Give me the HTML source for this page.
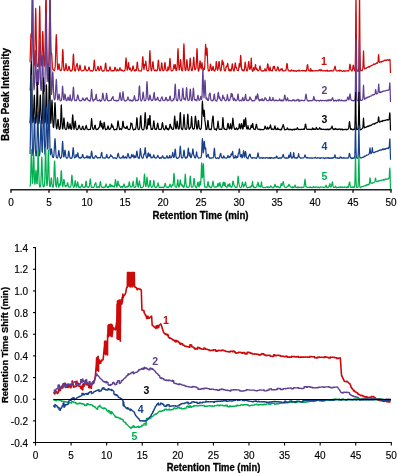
<!DOCTYPE html>
<html><head><meta charset="utf-8"><title>Chromatograms</title>
<style>
html,body{margin:0;padding:0;background:#fff;}
svg{display:block;}
text{font-family:"Liberation Sans",Arial,sans-serif;}
.t{stroke:#000;stroke-width:0.3px;}
.n{stroke:#000;stroke-width:0.15px;}
</style></head>
<body>
<svg width="397" height="473" viewBox="0 0 397 473">
<rect width="397" height="473" fill="#fff"/>
<g id="top">
<polyline fill="none" stroke="#cc0a0a" stroke-width="1.2" stroke-linejoin="round" points="30.00,62.2 30.40,51.5 30.50,47.8 30.75,38.7 30.80,37.3 31.00,33.9 31.20,35.6 31.25,35.7 31.50,37.1 31.60,36.3 32.00,17.1 32.25,-1.0 32.40,-7.1 32.50,-8.5 32.75,1.0 32.80,4.5 33.00,20.7 33.20,38.7 33.60,59.7 34.00,66.1 34.40,64.8 34.80,55.4 35.20,31.3 35.45,16.0 35.60,10.4 35.70,8.4 35.95,15.6 36.00,18.1 36.20,31.6 36.40,44.7 36.80,62.1 37.20,65.9 37.60,66.7 38.00,66.7 38.40,64.6 38.80,54.8 39.20,30.0 39.45,13.4 39.60,7.2 39.70,6.2 39.95,13.4 40.00,16.2 40.20,30.1 40.40,44.0 40.80,61.6 41.20,65.8 41.60,64.8 42.00,56.9 42.30,45.4 42.40,41.0 42.55,36.0 42.80,31.4 43.05,35.6 43.20,41.4 43.30,45.6 43.60,56.9 44.00,64.3 44.40,66.2 44.80,62.7 45.20,45.6 45.50,21.6 45.60,12.3 45.75,0.5 46.00,-8.0 46.25,0.7 46.40,12.5 46.50,21.0 46.80,46.5 47.20,62.6 47.60,66.3 48.00,67.4 48.40,67.0 48.80,63.5 49.20,46.6 49.50,21.8 49.60,12.8 49.75,0.7 50.00,-7.9 50.25,0.8 50.40,12.4 50.50,21.5 50.80,44.5 51.10,53.9 51.20,54.2 51.35,54.2 51.60,53.1 51.85,55.9 52.00,59.1 52.10,60.9 52.40,66.4 52.80,69.3 53.20,70.1 53.60,69.9 54.00,70.1 54.40,70.5 54.80,69.2 55.20,66.7 55.60,54.7 55.80,46.9 56.00,40.2 56.05,38.5 56.30,34.6 56.40,35.7 56.55,38.7 56.80,47.0 57.20,61.3 57.60,68.7 58.00,69.7 58.40,68.1 58.50,67.2 58.75,64.8 58.80,64.3 59.00,63.9 59.20,64.4 59.25,65.2 59.50,67.2 59.60,68.2 60.00,70.2 60.40,70.6 60.59,70.1 60.80,70.1 60.94,70.3 61.20,70.0 61.29,70.1 61.60,70.0 62.00,66.2 62.30,58.9 62.40,56.1 62.55,52.0 62.80,49.4 63.05,52.1 63.20,56.2 63.30,59.3 63.60,66.2 64.00,70.5 64.40,70.6 64.80,70.4 65.20,69.3 65.50,67.1 65.60,65.9 65.75,65.0 66.00,63.6 66.25,65.3 66.40,66.2 66.50,67.0 66.80,69.2 67.20,70.5 67.60,70.7 68.00,70.1 68.40,68.6 68.50,68.2 68.75,66.6 68.80,66.7 69.00,66.3 69.20,66.5 69.25,66.8 69.50,67.9 69.60,69.0 70.00,70.4 70.40,70.9 70.80,71.2 71.20,70.2 71.60,70.9 72.00,70.4 72.40,69.6 72.80,64.1 72.90,62.2 73.15,57.1 73.20,56.4 73.22,55.9 73.40,54.2 73.57,55.1 73.60,55.9 73.65,56.4 73.90,61.4 73.92,62.5 74.00,64.1 74.40,69.7 74.80,70.6 75.20,71.0 75.60,69.8 75.82,68.9 76.00,67.2 76.17,66.4 76.40,65.7 76.50,65.0 76.52,65.1 76.75,64.3 76.80,64.4 77.00,63.7 77.20,63.4 77.25,64.0 77.26,64.1 77.50,65.8 77.60,65.6 77.61,65.9 77.96,69.3 78.00,68.9 78.40,70.3 78.80,70.8 79.20,70.0 79.50,67.8 79.60,67.3 79.62,67.0 79.75,66.5 79.97,65.2 80.00,65.5 80.25,65.9 80.32,66.6 80.40,67.2 80.50,68.3 80.80,69.9 81.20,70.5 81.60,71.0 82.00,71.0 82.40,70.8 82.80,70.7 83.20,70.7 83.60,70.3 84.00,70.4 84.40,68.9 84.50,68.0 84.75,66.9 84.80,66.1 85.00,65.9 85.20,66.3 85.25,67.2 85.50,67.7 85.60,68.8 85.74,69.5 86.00,70.0 86.09,70.3 86.40,70.2 86.44,69.9 86.80,70.9 87.20,70.5 87.60,70.7 88.00,70.2 88.40,69.5 88.50,69.0 88.75,67.4 88.80,67.6 89.00,67.0 89.20,67.3 89.25,67.6 89.50,68.7 89.60,69.4 90.00,70.6 90.40,70.7 90.80,71.1 91.20,70.6 91.60,70.9 92.00,70.9 92.40,71.2 92.80,70.6 93.20,70.7 93.60,67.8 93.80,65.2 94.00,62.3 94.05,62.1 94.16,60.9 94.30,60.1 94.40,60.3 94.51,61.2 94.55,61.6 94.80,65.4 94.86,66.3 95.20,69.6 95.60,70.7 96.00,70.6 96.25,70.6 96.40,70.6 96.60,70.6 96.75,70.1 96.80,69.7 96.95,69.4 97.10,69.0 97.20,68.7 97.45,68.0 97.50,67.8 97.60,67.8 97.75,66.6 98.00,66.3 98.25,67.1 98.40,67.6 98.50,68.6 98.80,70.0 99.20,70.6 99.60,70.7 100.00,69.3 100.01,69.2 100.36,67.2 100.40,67.1 100.50,66.9 100.71,66.3 100.75,66.5 100.80,66.1 101.00,66.8 101.20,67.4 101.24,67.4 101.25,67.5 101.50,68.8 101.59,68.9 101.60,69.1 101.94,70.4 102.00,70.7 102.40,70.9 102.80,71.4 103.20,70.8 103.60,71.0 103.80,70.9 104.00,70.4 104.15,70.1 104.40,70.0 104.50,70.2 104.80,69.4 105.10,66.7 105.20,65.6 105.35,64.0 105.60,63.1 105.85,63.6 106.00,65.6 106.10,66.6 106.40,68.9 106.80,71.1 107.20,70.4 107.60,70.5 108.00,70.5 108.40,71.1 108.80,70.5 109.20,70.2 109.50,68.9 109.60,68.3 109.75,67.2 110.00,66.8 110.25,68.0 110.40,67.9 110.50,68.5 110.80,70.0 111.20,70.9 111.60,70.9 112.00,71.0 112.40,70.5 112.80,71.0 113.20,70.9 113.60,70.4 114.00,70.9 114.30,70.4 114.40,69.3 114.50,69.1 114.65,68.8 114.75,67.7 114.80,67.5 115.00,67.2 115.17,67.3 115.20,67.3 115.25,67.7 115.50,68.1 115.52,67.8 115.60,68.6 115.87,70.2 116.00,70.5 116.40,71.0 116.80,70.7 117.19,70.1 117.20,69.6 117.54,69.3 117.60,69.2 117.89,70.2 118.00,70.3 118.40,70.5 118.80,70.8 119.20,70.5 119.50,69.0 119.60,68.8 119.75,68.2 120.00,67.6 120.25,68.6 120.40,69.2 120.50,69.5 120.80,70.3 121.20,70.6 121.50,70.2 121.60,69.7 121.85,69.8 122.00,70.0 122.20,70.4 122.40,70.4 122.80,70.8 123.20,70.8 123.60,71.2 124.00,70.8 124.40,70.3 124.80,70.6 125.20,68.8 125.50,64.6 125.60,63.0 125.75,60.5 126.00,57.9 126.03,57.9 126.25,59.2 126.38,61.2 126.40,61.6 126.50,63.4 126.73,66.8 126.80,68.0 127.20,70.2 127.60,69.5 128.00,66.8 128.25,63.9 128.40,62.5 128.50,62.7 128.75,64.1 128.80,63.8 129.00,66.5 129.20,68.4 129.60,69.6 129.84,68.8 130.00,68.4 130.19,67.9 130.40,68.7 130.45,68.7 130.54,68.6 130.80,69.7 131.15,70.7 131.20,71.1 131.60,70.8 132.00,70.5 132.40,69.3 132.50,68.2 132.75,66.6 132.80,66.1 133.00,65.9 133.20,66.9 133.25,66.3 133.50,67.9 133.60,68.0 133.95,69.5 134.00,69.8 134.05,69.7 134.30,70.5 134.40,70.6 134.75,70.8 134.80,71.2 135.20,70.6 135.24,70.3 135.59,69.8 135.60,69.7 135.94,70.4 136.00,70.2 136.40,70.3 136.80,66.5 137.05,63.2 137.20,62.1 137.30,62.4 137.55,62.8 137.60,63.6 137.80,66.3 138.00,67.9 138.40,70.2 138.80,70.7 139.20,71.0 139.60,70.8 140.00,70.9 140.40,70.9 140.80,70.8 141.20,71.1 141.60,70.2 142.00,67.5 142.30,62.6 142.40,60.7 142.55,58.3 142.80,56.7 143.05,58.5 143.20,60.9 143.30,62.8 143.60,67.7 144.00,69.6 144.31,67.3 144.40,66.0 144.66,64.3 144.80,64.9 145.01,65.1 145.20,65.7 145.30,64.7 145.55,63.1 145.60,62.5 145.80,61.2 145.81,61.8 146.00,62.9 146.05,62.8 146.16,64.2 146.30,65.6 146.40,66.3 146.51,68.1 146.80,69.9 147.20,70.4 147.60,71.0 148.00,70.9 148.40,70.6 148.80,70.0 149.20,64.6 149.40,60.2 149.60,54.6 149.65,53.9 149.90,50.6 150.00,51.8 150.15,53.8 150.40,60.4 150.80,67.9 151.20,70.4 151.60,70.9 152.00,68.9 152.40,65.5 152.65,63.1 152.80,61.8 152.90,61.7 153.15,62.8 153.20,63.5 153.40,65.6 153.60,67.7 154.00,69.9 154.40,70.6 154.80,70.7 155.20,70.6 155.60,69.9 156.00,70.3 156.40,70.7 156.80,70.9 157.20,70.3 157.60,68.3 157.90,64.2 158.00,63.8 158.15,61.0 158.40,60.1 158.65,61.7 158.80,63.4 158.90,64.7 159.20,68.5 159.60,70.2 160.00,70.8 160.29,70.6 160.40,70.6 160.64,70.2 160.80,69.9 160.99,68.3 161.20,66.8 161.45,63.9 161.60,63.0 161.70,62.8 161.95,63.9 162.00,64.8 162.20,66.8 162.40,68.8 162.80,70.4 163.20,70.8 163.60,70.6 163.95,70.0 164.00,70.2 164.30,68.2 164.40,66.7 164.50,66.0 164.65,63.7 164.75,63.2 164.80,62.7 165.00,62.6 165.10,62.9 165.20,64.2 165.25,64.6 165.50,67.3 165.60,68.0 166.00,69.9 166.40,70.7 166.80,70.5 167.20,70.8 167.60,69.8 167.72,68.7 168.00,66.9 168.07,66.9 168.40,68.6 168.42,68.3 168.80,70.2 169.20,68.2 169.40,65.2 169.50,63.6 169.60,62.0 169.75,59.5 170.00,58.4 170.10,59.3 170.25,60.9 170.40,63.5 170.50,64.5 170.80,68.1 171.20,70.7 171.60,71.0 172.00,70.6 172.40,70.4 172.80,70.6 173.20,69.2 173.50,67.6 173.60,66.3 173.75,65.8 174.00,64.5 174.25,65.7 174.40,67.2 174.50,67.4 174.80,68.6 175.01,67.1 175.20,65.4 175.36,64.7 175.60,66.8 175.71,67.7 176.00,70.4 176.40,70.4 176.80,70.1 177.20,66.3 177.50,59.3 177.60,56.5 177.75,51.9 178.00,48.6 178.25,51.6 178.40,56.4 178.50,59.0 178.80,66.1 179.20,70.1 179.60,69.2 180.00,65.9 180.10,65.2 180.35,61.6 180.40,61.0 180.60,59.7 180.80,61.1 180.85,62.0 181.10,64.7 181.20,66.4 181.60,69.8 182.00,70.8 182.40,70.7 182.80,69.4 183.20,62.5 183.40,56.3 183.60,49.1 183.65,47.7 183.90,43.9 184.00,44.7 184.15,47.6 184.40,56.2 184.80,67.4 185.20,70.3 185.60,70.5 186.00,69.5 186.40,65.0 186.65,61.6 186.80,60.3 186.90,59.7 187.15,61.6 187.20,62.5 187.40,65.1 187.60,67.2 188.00,70.3 188.40,70.5 188.80,70.6 189.20,69.7 189.60,65.2 189.70,64.2 189.95,59.8 190.00,59.4 190.20,58.1 190.40,59.5 190.45,60.1 190.70,63.5 190.80,65.5 191.20,69.2 191.60,70.6 192.00,70.7 192.31,69.9 192.40,69.6 192.57,68.3 192.66,68.1 192.80,67.3 192.92,66.7 193.01,65.9 193.20,62.8 193.27,62.7 193.45,58.9 193.60,57.2 193.70,57.1 193.95,58.9 194.00,59.6 194.17,62.0 194.20,63.1 194.40,65.7 194.52,67.5 194.80,69.7 194.87,69.4 195.20,69.8 195.35,69.4 195.60,68.9 195.70,68.6 196.00,68.0 196.05,67.4 196.40,62.5 196.50,60.2 196.75,52.5 196.80,51.6 196.90,49.8 197.00,48.6 197.20,49.7 197.25,51.1 197.50,58.1 197.60,61.2 198.00,68.7 198.40,71.2 198.80,70.6 199.20,68.7 199.50,65.7 199.60,64.3 199.75,63.2 200.00,60.9 200.01,60.8 200.25,61.1 200.36,63.0 200.40,63.0 200.50,64.3 200.71,67.4 200.80,67.9 201.17,68.9 201.20,68.9 201.50,65.6 201.52,65.8 201.60,64.7 201.75,63.7 201.87,63.3 202.00,62.5 202.25,64.5 202.40,65.5 202.50,66.3 202.80,69.2 203.20,70.6 203.54,69.2 203.60,69.3 203.89,68.2 204.00,68.9 204.24,69.3 204.40,69.3 204.80,65.6 205.10,56.3 205.20,53.0 205.35,48.8 205.60,44.4 205.85,47.7 206.00,51.0 206.10,53.0 206.22,54.8 206.40,55.0 206.50,53.8 206.57,52.6 206.75,49.5 206.80,48.7 206.92,48.1 207.00,48.2 207.20,51.0 207.25,51.5 207.50,59.2 207.60,61.8 208.00,68.6 208.40,70.6 208.80,71.0 209.20,70.9 209.60,70.3 209.85,68.9 210.00,67.5 210.10,66.4 210.20,65.0 210.35,64.4 210.40,64.5 210.55,64.1 210.60,64.5 210.72,65.0 210.80,65.2 210.85,66.0 211.07,67.0 211.10,67.7 211.20,68.1 211.42,69.4 211.60,70.4 212.00,70.3 212.40,69.4 212.50,68.4 212.75,67.3 212.77,67.0 212.80,67.0 213.00,66.4 213.12,66.3 213.20,67.0 213.25,66.7 213.47,68.1 213.50,68.7 213.60,69.3 214.00,70.6 214.40,70.8 214.80,71.2 214.87,70.3 215.20,70.1 215.22,70.0 215.57,69.3 215.60,68.9 215.90,66.0 215.92,65.7 216.00,64.3 216.15,62.4 216.27,61.4 216.40,62.0 216.62,63.2 216.65,63.4 216.80,65.0 216.90,66.3 217.20,69.1 217.60,70.4 218.00,69.4 218.40,67.0 218.50,65.7 218.75,62.9 218.80,62.4 219.00,61.5 219.20,61.7 219.25,62.2 219.29,61.6 219.50,63.9 219.60,65.7 219.64,65.4 219.99,69.0 220.00,69.3 220.40,70.4 220.80,70.9 221.20,69.5 221.60,66.0 221.70,64.7 221.95,61.3 222.00,61.2 222.20,60.1 222.40,61.1 222.45,61.2 222.70,64.5 222.80,64.3 222.91,64.4 223.20,62.8 223.24,62.4 223.26,62.2 223.59,63.4 223.60,63.7 223.61,63.7 223.94,68.0 224.00,68.3 224.22,69.6 224.40,70.5 224.57,70.0 224.80,70.4 224.92,70.6 225.20,71.0 225.60,69.7 225.76,69.1 225.86,68.5 226.00,67.7 226.11,66.8 226.21,67.1 226.39,66.2 226.40,67.0 226.46,67.0 226.56,67.0 226.74,66.3 226.80,66.9 227.09,66.1 227.20,65.5 227.45,64.1 227.60,63.4 227.70,63.5 227.95,64.7 228.00,64.4 228.20,66.7 228.40,68.8 228.80,70.5 229.20,70.8 229.55,69.6 229.60,70.1 229.90,69.0 230.00,69.5 230.25,70.4 230.40,70.9 230.80,70.9 231.20,70.7 231.60,68.6 231.80,67.0 232.00,65.6 232.05,65.0 232.30,64.0 232.40,63.8 232.55,65.0 232.80,67.3 233.20,69.7 233.60,70.6 234.00,71.1 234.40,69.8 234.80,66.5 235.05,63.8 235.20,63.0 235.30,62.9 235.55,64.4 235.60,64.4 235.80,66.8 236.00,67.5 236.20,67.9 236.40,67.7 236.55,67.3 236.80,68.2 236.90,69.0 237.20,70.5 237.60,70.4 238.00,70.7 238.40,70.6 238.80,68.0 238.84,67.8 238.91,66.5 239.19,63.7 239.20,63.8 239.26,63.9 239.54,65.9 239.60,67.0 239.61,66.5 240.00,67.1 240.19,63.1 240.30,60.6 240.40,58.4 240.54,56.4 240.55,56.0 240.59,55.3 240.80,56.0 240.89,56.7 240.94,57.4 241.05,59.7 241.20,62.6 241.29,64.4 241.30,64.2 241.40,65.9 241.60,68.2 241.75,69.1 242.00,70.0 242.10,70.0 242.40,70.6 242.51,70.2 242.80,69.9 242.86,69.7 243.20,70.2 243.21,70.0 243.60,70.7 244.00,70.9 244.40,69.6 244.62,67.8 244.80,65.5 244.90,64.5 244.97,63.4 245.15,62.0 245.20,62.4 245.32,62.4 245.40,62.6 245.60,64.4 245.65,64.7 245.90,67.2 246.00,67.9 246.40,70.3 246.80,70.8 247.20,70.9 247.30,70.1 247.60,69.6 247.65,69.5 248.00,67.2 248.20,65.2 248.40,63.8 248.45,62.4 248.70,61.6 248.80,61.5 248.95,62.6 249.20,65.3 249.60,69.0 249.89,69.5 250.00,68.6 250.24,68.6 250.40,68.4 250.59,68.3 250.80,65.1 250.83,64.9 250.91,63.2 251.18,58.5 251.19,58.1 251.20,58.8 251.26,58.1 251.53,62.4 251.54,62.9 251.60,64.3 251.61,64.0 251.89,69.0 252.00,69.8 252.40,71.1 252.80,71.4 253.20,69.8 253.42,69.5 253.60,67.7 253.77,68.1 254.00,68.4 254.12,69.7 254.40,70.1 254.55,69.7 254.80,68.8 254.90,68.1 255.00,67.6 255.12,66.5 255.20,66.1 255.25,66.0 255.47,65.0 255.50,64.5 255.60,64.7 255.75,65.9 255.82,66.9 256.00,68.1 256.40,69.7 256.63,69.6 256.80,68.7 256.98,68.6 257.20,69.4 257.33,69.6 257.60,70.4 258.00,70.9 258.40,70.6 258.80,70.5 259.20,69.7 259.50,68.4 259.60,67.6 259.75,66.4 260.00,65.9 260.25,66.8 260.40,68.0 260.50,67.9 260.80,69.9 261.20,70.6 261.60,71.0 262.00,70.9 262.40,71.2 262.80,70.9 263.20,70.7 263.60,70.7 264.00,70.9 264.40,70.4 264.58,70.3 264.80,69.4 264.93,68.6 265.20,69.5 265.28,69.4 265.60,70.2 266.00,71.0 266.40,70.7 266.69,69.7 266.80,69.9 267.04,68.2 267.20,67.1 267.31,66.7 267.39,65.9 267.50,64.9 267.60,64.2 267.66,64.0 267.75,63.8 268.00,64.8 268.01,64.4 268.25,66.5 268.40,68.1 268.50,68.5 268.80,70.1 269.20,70.9 269.60,69.4 269.74,68.6 270.00,67.4 270.09,66.9 270.40,68.7 270.44,69.0 270.80,70.6 271.20,70.8 271.60,70.6 272.00,70.5 272.40,70.8 272.80,69.2 272.86,68.6 272.87,68.8 273.20,66.5 273.21,66.9 273.22,66.6 273.56,67.4 273.57,67.4 273.60,67.5 273.80,68.1 274.00,66.4 274.05,66.6 274.30,66.3 274.40,66.3 274.55,66.6 274.80,68.6 275.20,69.9 275.60,70.4 276.00,70.9 276.40,70.4 276.80,69.4 276.91,69.8 277.20,68.3 277.26,68.1 277.50,67.2 277.60,67.2 277.61,66.9 277.75,67.4 278.00,67.1 278.25,67.7 278.40,67.7 278.50,69.0 278.80,70.4 279.20,71.0 279.60,71.0 280.00,70.4 280.21,69.8 280.40,69.4 280.56,69.1 280.80,69.3 280.88,69.3 280.91,69.9 281.20,69.6 281.23,69.8 281.58,69.1 281.60,69.5 281.62,69.5 281.97,68.5 282.00,68.4 282.32,69.0 282.40,70.3 282.80,70.8 283.20,70.8 283.60,70.8 284.00,70.7 284.40,70.9 284.80,70.9 285.20,70.7 285.60,70.1 286.00,70.1 286.40,67.8 286.50,66.8 286.75,64.2 286.80,64.0 287.00,63.5 287.20,63.8 287.25,64.7 287.50,66.2 287.60,67.4 288.00,69.9 288.40,70.1 288.80,70.5 289.20,71.1 289.60,71.1 290.00,70.8 290.40,71.2 290.80,70.6 290.86,70.3 291.20,70.2 291.21,70.1 291.48,70.4 291.56,69.9 291.60,70.6 291.83,70.4 292.00,70.8 292.18,70.3 292.40,70.7 292.80,70.8 293.20,71.0 293.60,70.5 294.00,71.2 294.40,70.9 294.80,70.7 295.20,71.1 295.60,70.8 296.00,71.1 296.40,71.4 296.80,71.0 297.20,70.7 297.60,70.7 298.00,70.9 298.32,70.6 298.40,70.3 298.67,70.2 298.80,70.6 299.02,71.1 299.20,70.0 299.60,71.0 300.00,70.7 300.40,71.0 300.80,71.0 301.20,70.8 301.60,70.5 302.00,70.5 302.40,70.3 302.80,71.1 303.20,70.7 303.60,70.7 304.00,70.7 304.40,70.5 304.80,70.9 305.20,71.1 305.60,71.1 306.00,70.4 306.40,70.8 306.80,68.8 307.00,67.0 307.20,65.6 307.25,65.3 307.50,64.7 307.60,64.6 307.75,65.2 308.00,67.4 308.40,70.5 308.80,70.5 309.20,70.9 309.60,70.8 310.00,71.2 310.31,69.3 310.40,69.7 310.66,68.5 310.80,68.9 311.01,69.7 311.20,71.1 311.60,70.6 312.00,70.3 312.40,71.1 312.80,70.6 313.20,70.7 313.60,70.8 314.00,70.8 314.40,70.8 314.80,70.9 315.20,70.9 315.60,71.0 316.00,70.7 316.40,70.6 316.80,70.5 317.20,70.9 317.60,70.8 318.00,70.9 318.40,70.8 318.72,70.7 318.80,70.2 319.07,70.0 319.20,69.6 319.42,70.0 319.60,70.5 320.00,70.5 320.40,70.8 320.61,70.0 320.80,70.0 320.96,69.3 321.20,69.8 321.31,70.2 321.60,70.6 322.00,70.3 322.40,70.8 322.80,71.0 323.20,71.0 323.60,70.6 324.00,70.7 324.40,70.5 324.80,71.0 325.20,71.2 325.60,70.7 326.00,70.4 326.40,70.9 326.80,71.0 327.20,70.1 327.60,70.8 328.00,71.3 328.40,71.0 328.80,70.9 329.20,70.9 329.60,71.1 330.00,70.6 330.40,70.6 330.80,70.9 331.20,70.6 331.60,70.9 332.00,70.3 332.40,71.0 332.80,71.0 333.20,70.8 333.60,70.5 333.65,70.8 334.00,69.4 334.35,68.6 334.40,68.4 334.50,68.1 334.75,66.7 334.80,66.8 335.00,66.2 335.20,66.5 335.25,66.6 335.50,68.7 335.60,69.0 336.00,70.4 336.40,70.8 336.80,70.8 337.20,71.0 337.60,70.9 338.00,70.7 338.40,70.6 338.80,70.5 339.20,70.5 339.60,71.1 339.84,70.3 340.00,70.0 340.19,70.2 340.40,70.3 340.54,70.7 340.80,70.5 341.20,70.9 341.60,70.9 342.00,71.1 342.40,71.3 342.80,71.5 343.20,71.1 343.60,70.5 344.00,70.7 344.40,70.9 344.80,71.3 345.20,71.0 345.60,71.1 346.00,70.8 346.40,70.9 346.80,71.0 347.20,70.7 347.60,71.0 348.00,71.1 348.40,70.7 348.80,70.9 349.20,69.9 349.50,67.3 349.52,67.1 349.60,66.3 349.75,65.0 349.87,64.5 350.00,64.2 350.22,65.1 350.25,65.2 350.40,66.2 350.50,67.2 350.80,69.6 351.20,70.3 351.60,70.6 352.00,71.1 352.03,71.0 352.38,69.9 352.40,70.1 352.73,68.0 352.80,68.1 353.05,65.7 353.20,65.2 353.30,65.3 353.55,65.6 353.60,66.5 353.80,67.5 354.00,69.1 354.40,70.4 354.80,70.7 355.20,68.6 355.50,51.1 355.60,38.2 355.75,15.3 356.00,-7.8 356.25,15.4 356.40,38.8 356.50,50.8 356.80,68.9 357.20,71.1 357.60,70.7 358.00,71.1 358.40,71.1 358.80,65.5 359.00,50.8 359.20,22.9 359.25,15.8 359.50,-7.9 359.60,-4.0 359.75,15.1 360.00,50.9 360.40,69.8 360.80,70.8 361.20,70.1 361.60,70.6 362.00,70.6 362.40,70.0 362.80,68.5 363.00,65.5 363.20,58.2 363.25,56.4 363.50,50.9 363.60,52.1 363.75,56.5 364.00,64.6 364.40,68.9 364.80,69.0 365.20,68.7 365.60,68.2 366.00,68.1 366.40,68.3 366.80,67.5 367.20,67.5 367.60,67.3 368.00,67.2 368.40,66.7 368.80,66.5 369.20,67.3 369.60,66.7 370.00,66.1 370.40,66.1 370.80,66.1 371.20,65.6 371.60,65.7 372.00,65.2 372.40,65.1 372.80,65.0 373.20,64.7 373.60,64.0 374.00,64.5 374.40,64.4 374.80,64.3 375.20,63.7 375.60,63.9 376.00,63.7 376.40,63.0 376.80,62.8 377.20,63.3 377.60,62.7 378.00,62.0 378.10,61.3 378.35,56.8 378.40,56.0 378.60,54.5 378.80,56.2 378.85,56.5 379.10,60.7 379.20,61.6 379.60,62.4 380.00,62.0 380.40,62.2 380.80,62.1 381.20,61.4 381.60,62.1 382.00,61.4 382.40,61.4 382.80,61.1 383.20,61.2 383.60,61.2 384.00,60.6 384.40,60.3 384.80,60.5 385.20,60.2 385.60,60.2 386.00,60.3 386.40,60.2 386.80,60.4 387.20,59.8 387.60,60.0 388.00,59.7 388.40,60.1 388.80,60.4 389.20,59.7 389.60,60.0 390.00,59.5 390.50,73.0"/>
<polyline fill="none" stroke="#5e3f91" stroke-width="1.2" stroke-linejoin="round" points="30.00,90.6 30.40,85.7 30.70,77.9 30.80,75.6 30.95,71.4 31.20,66.9 31.45,61.8 31.60,55.9 31.70,50.6 32.00,25.2 32.25,1.3 32.40,-6.9 32.50,-8.6 32.75,3.5 32.80,8.4 33.00,30.6 33.20,54.3 33.60,82.9 34.00,90.0 34.40,87.7 34.80,76.1 35.00,66.9 35.20,56.9 35.25,54.6 35.50,50.4 35.60,50.4 35.75,55.0 36.00,66.2 36.40,83.0 36.80,85.5 37.10,80.0 37.20,77.0 37.35,72.6 37.60,69.5 37.85,72.9 38.00,77.1 38.10,79.4 38.40,84.4 38.80,77.1 39.10,61.6 39.20,55.6 39.35,47.9 39.60,41.8 39.85,48.1 40.00,55.9 40.10,61.2 40.40,78.4 40.80,88.9 41.20,90.5 41.60,86.2 42.00,73.9 42.10,69.5 42.35,59.2 42.40,57.4 42.60,55.3 42.80,57.7 42.85,59.2 43.10,70.1 43.20,74.3 43.60,86.9 44.00,90.7 44.40,91.2 44.80,86.6 45.20,69.7 45.50,43.6 45.60,34.0 45.75,21.6 46.00,12.8 46.25,22.0 46.40,34.3 46.50,43.8 46.80,68.7 47.20,81.4 47.50,75.9 47.60,73.0 47.75,68.7 48.00,64.9 48.25,69.2 48.40,73.6 48.50,77.1 48.80,81.9 49.20,64.3 49.50,32.3 49.60,19.9 49.75,3.6 50.00,-8.2 50.25,4.4 50.40,20.3 50.50,33.2 50.80,66.9 51.20,90.3 51.60,94.4 52.00,89.8 52.30,81.4 52.40,78.3 52.55,74.5 52.80,71.8 53.05,75.3 53.20,79.6 53.30,83.2 53.60,92.0 54.00,97.9 54.40,99.9 54.80,99.7 55.20,98.2 55.60,91.6 55.80,86.6 56.00,83.0 56.05,82.2 56.30,79.3 56.40,80.2 56.55,81.9 56.80,86.5 57.20,94.9 57.60,99.0 58.00,100.0 58.40,97.9 58.50,97.7 58.75,94.8 58.80,94.9 59.00,94.0 59.20,94.7 59.25,94.7 59.50,96.6 59.60,97.7 60.00,100.2 60.40,100.9 60.80,100.7 61.20,100.6 61.60,99.2 62.00,95.1 62.10,93.3 62.35,88.3 62.40,87.7 62.60,86.2 62.80,88.1 62.85,88.5 63.10,92.9 63.20,94.9 63.60,99.5 64.00,99.9 64.40,97.7 64.50,96.8 64.54,96.4 64.75,95.1 64.80,95.2 64.89,93.9 65.00,94.2 65.20,95.1 65.24,95.0 65.25,95.4 65.50,97.2 65.60,98.5 66.00,100.0 66.40,100.6 66.80,100.7 67.20,99.8 67.50,98.2 67.60,98.0 67.75,97.7 68.00,97.0 68.25,97.6 68.40,97.9 68.50,98.7 68.80,100.0 69.20,100.4 69.60,99.8 69.79,97.7 70.00,95.6 70.14,94.9 70.40,97.1 70.49,97.6 70.80,100.2 71.20,100.7 71.60,100.9 71.95,100.3 71.98,99.9 72.00,100.0 72.30,99.3 72.33,98.6 72.40,98.9 72.68,96.6 72.80,94.9 72.90,93.0 73.15,89.0 73.20,88.0 73.40,87.0 73.60,88.1 73.65,89.0 73.90,93.1 74.00,95.1 74.40,99.7 74.80,100.2 75.20,100.8 75.60,100.1 76.00,100.1 76.40,100.5 76.80,99.8 77.20,97.7 77.45,95.4 77.60,95.1 77.70,94.9 77.95,95.6 78.00,95.4 78.11,96.0 78.20,96.0 78.40,97.1 78.46,97.3 78.80,99.5 78.81,99.1 79.20,100.2 79.60,100.7 80.00,101.0 80.40,100.7 80.80,100.7 81.20,100.5 81.60,100.7 82.00,100.0 82.20,99.6 82.40,98.6 82.45,98.1 82.70,97.9 82.80,97.8 82.95,98.0 83.20,99.3 83.43,99.6 83.52,99.1 83.60,99.9 83.78,99.5 83.87,99.3 84.00,99.8 84.13,99.9 84.22,99.9 84.40,99.9 84.80,100.6 85.20,100.4 85.52,98.8 85.60,99.2 85.87,98.5 86.00,98.2 86.22,98.8 86.40,98.9 86.50,98.7 86.75,98.2 86.80,98.5 87.00,97.6 87.20,98.3 87.25,98.4 87.50,99.0 87.60,99.4 88.00,100.0 88.40,100.4 88.80,100.6 89.20,100.7 89.60,100.4 90.00,101.3 90.40,100.1 90.80,98.3 91.10,94.5 91.20,93.0 91.35,91.3 91.60,89.3 91.85,91.3 92.00,93.3 92.10,94.3 92.40,98.6 92.80,100.1 93.20,101.3 93.60,100.5 94.00,99.9 94.06,99.5 94.40,99.2 94.41,99.4 94.76,99.7 94.80,99.7 95.20,99.6 95.50,98.5 95.60,98.3 95.75,96.5 95.97,95.2 96.00,95.0 96.25,94.2 96.32,94.5 96.40,95.1 96.50,96.3 96.67,97.7 96.80,98.8 97.20,100.6 97.60,100.7 98.00,100.5 98.40,100.7 98.80,100.4 99.20,100.6 99.33,100.4 99.60,100.0 99.68,99.7 100.00,100.6 100.03,100.3 100.40,101.3 100.80,100.4 101.20,100.8 101.60,100.4 102.00,99.5 102.14,98.7 102.40,95.9 102.49,95.1 102.65,93.9 102.80,93.2 102.84,93.2 102.90,93.4 103.15,94.6 103.20,94.8 103.40,96.6 103.60,98.2 104.00,100.1 104.40,100.4 104.80,100.8 105.20,100.5 105.60,100.0 106.00,98.5 106.12,97.0 106.20,96.1 106.40,94.3 106.45,94.1 106.47,93.3 106.70,93.7 106.80,94.6 106.82,94.6 106.95,95.6 107.20,97.8 107.60,100.3 108.00,100.4 108.40,100.8 108.80,100.8 109.20,100.5 109.60,100.7 110.00,100.5 110.40,100.4 110.80,100.2 111.20,100.3 111.50,99.1 111.60,98.7 111.75,98.1 112.00,98.4 112.25,98.3 112.40,98.1 112.50,97.9 112.65,97.1 112.80,96.9 113.00,96.5 113.20,96.9 113.35,98.6 113.60,100.1 114.00,100.3 114.40,100.5 114.80,100.5 115.20,100.6 115.60,100.6 116.00,100.2 116.40,101.0 116.80,100.7 117.11,100.8 117.20,100.8 117.46,100.4 117.60,100.6 117.81,100.7 118.00,100.8 118.40,100.4 118.52,100.2 118.80,100.0 118.87,99.7 119.20,98.6 119.22,98.1 119.50,96.3 119.60,95.0 119.75,93.7 120.00,92.7 120.25,93.9 120.40,95.8 120.50,96.4 120.80,98.6 121.20,100.4 121.60,100.4 122.00,100.0 122.40,97.0 122.50,95.9 122.75,93.3 122.80,92.8 123.00,91.7 123.20,92.8 123.25,93.4 123.50,96.4 123.60,97.1 123.99,99.7 124.00,99.9 124.34,100.5 124.40,100.8 124.69,100.7 124.80,100.5 125.20,100.9 125.60,101.0 126.00,100.5 126.40,100.6 126.80,100.1 127.20,99.8 127.50,98.4 127.60,98.1 127.75,97.4 128.00,97.0 128.25,97.5 128.40,98.3 128.50,98.7 128.80,99.7 129.20,100.2 129.60,100.7 129.73,100.7 130.00,100.0 130.08,100.2 130.40,99.9 130.43,99.9 130.80,100.5 131.20,101.0 131.60,100.3 132.00,100.4 132.40,101.0 132.80,100.1 133.20,100.6 133.60,99.8 133.90,98.1 134.00,97.5 134.15,97.3 134.40,95.7 134.65,96.6 134.80,97.4 134.90,97.9 135.20,99.3 135.60,100.9 136.00,100.6 136.40,100.2 136.80,100.4 137.05,100.6 137.20,100.6 137.40,100.1 137.60,100.4 137.75,100.6 138.00,100.5 138.40,99.4 138.80,93.8 138.90,92.7 139.15,87.4 139.20,87.0 139.40,85.8 139.60,86.5 139.65,87.0 139.90,92.5 140.00,94.2 140.40,99.2 140.80,100.2 141.20,101.0 141.60,100.5 142.00,100.0 142.40,98.3 142.46,97.6 142.70,95.2 142.80,93.9 142.81,93.7 142.95,92.9 143.16,92.1 143.20,92.5 143.45,94.2 143.60,95.3 143.70,96.3 144.00,99.1 144.40,100.6 144.80,100.6 145.20,100.6 145.60,100.4 146.00,99.1 146.40,93.1 146.50,90.4 146.75,84.5 146.80,83.7 147.00,81.6 147.20,83.1 147.25,84.0 147.50,89.4 147.55,90.4 147.60,91.6 147.90,97.9 148.00,98.8 148.40,100.1 148.80,100.1 149.15,99.9 149.20,99.6 149.50,97.5 149.60,97.0 149.75,95.4 150.00,95.0 150.25,95.9 150.40,96.3 150.50,97.2 150.66,98.5 150.80,99.2 151.01,99.3 151.20,99.9 151.36,100.6 151.60,100.4 152.00,100.2 152.36,100.3 152.40,100.2 152.71,100.3 152.80,99.9 153.06,99.0 153.20,99.2 153.30,97.8 153.55,96.2 153.60,95.9 153.80,94.3 153.86,93.6 154.00,92.9 154.05,92.6 154.21,92.4 154.30,93.2 154.33,93.4 154.40,94.1 154.56,95.8 154.68,96.9 154.80,98.5 155.03,100.0 155.20,99.6 155.60,100.4 155.86,99.8 156.00,99.0 156.21,99.5 156.40,99.4 156.56,99.6 156.80,99.5 157.10,98.9 157.20,98.5 157.35,97.6 157.60,97.2 157.85,97.5 158.00,98.2 158.10,98.5 158.40,99.9 158.80,100.3 159.20,100.7 159.60,100.8 160.00,100.7 160.40,100.8 160.80,100.4 160.83,99.1 161.18,98.4 161.20,98.2 161.50,97.6 161.53,97.3 161.60,97.5 161.75,97.1 162.00,96.8 162.25,97.4 162.40,98.0 162.50,98.1 162.80,100.1 163.20,100.4 163.60,100.4 164.00,100.7 164.40,100.4 164.80,100.0 165.20,100.1 165.50,98.2 165.60,98.1 165.75,97.5 166.00,97.3 166.25,97.8 166.40,98.2 166.50,98.5 166.80,99.8 167.20,100.7 167.56,100.8 167.60,100.5 167.91,100.0 168.00,100.5 168.26,100.3 168.40,100.4 168.80,100.4 169.20,99.8 169.50,98.2 169.60,97.7 169.75,97.0 170.00,96.1 170.25,96.1 170.40,97.1 170.50,98.2 170.80,99.6 171.20,101.0 171.60,100.6 172.00,100.6 172.40,100.8 172.80,100.6 173.08,99.7 173.20,99.5 173.43,98.7 173.60,98.9 173.78,99.9 174.00,99.4 174.40,97.4 174.70,91.8 174.80,89.5 174.95,86.5 175.20,84.0 175.45,85.8 175.60,89.1 175.70,91.4 176.00,97.4 176.40,99.8 176.80,100.4 177.20,100.5 177.60,100.8 178.00,98.6 178.09,97.8 178.40,94.5 178.44,93.3 178.50,93.1 178.75,90.2 178.79,89.6 178.80,89.9 179.00,89.3 179.20,90.9 179.25,91.5 179.50,95.2 179.60,96.2 180.00,99.7 180.40,100.4 180.80,100.6 181.20,100.8 181.60,99.8 182.00,98.2 182.30,93.7 182.40,92.1 182.55,89.9 182.80,88.1 183.05,89.6 183.13,90.5 183.20,91.8 183.30,93.3 183.48,95.9 183.60,97.4 183.83,99.2 184.00,99.2 184.09,99.1 184.40,98.0 184.44,98.2 184.79,98.9 184.80,99.5 185.20,100.1 185.60,99.8 186.00,96.0 186.10,93.5 186.35,89.8 186.40,88.9 186.60,87.5 186.80,88.6 186.85,89.6 187.10,93.9 187.20,95.3 187.60,99.1 188.00,100.2 188.40,100.5 188.80,100.6 188.81,100.4 189.16,99.7 189.20,99.8 189.51,97.8 189.60,96.9 189.80,94.2 190.00,90.9 190.05,90.8 190.30,89.1 190.40,89.5 190.55,90.4 190.80,94.1 191.20,99.3 191.60,100.5 192.00,100.8 192.40,99.3 192.80,95.5 192.90,93.6 193.15,89.9 193.20,89.1 193.40,88.1 193.60,89.5 193.65,90.0 193.90,93.4 194.00,95.7 194.40,99.6 194.80,100.0 194.99,99.8 195.20,99.6 195.34,99.7 195.60,99.7 195.69,99.6 196.00,100.5 196.40,100.6 196.80,100.9 197.20,98.6 197.40,98.2 197.60,96.6 197.65,95.9 197.90,95.4 198.00,95.2 198.15,96.0 198.40,97.4 198.80,99.9 199.20,100.3 199.60,100.2 200.00,100.0 200.07,99.6 200.26,99.0 200.40,98.3 200.42,97.8 200.45,97.7 200.61,96.9 200.77,96.3 200.80,96.8 200.96,97.5 201.15,98.8 201.20,98.8 201.60,99.6 202.00,96.6 202.25,90.1 202.40,84.6 202.60,76.6 202.65,75.0 202.69,73.5 202.80,71.3 202.90,70.3 202.95,70.7 203.04,72.0 203.15,75.4 203.20,76.5 203.21,76.5 203.39,84.3 203.40,84.2 203.56,90.2 203.60,91.4 203.91,96.8 204.00,97.6 204.40,92.2 204.50,89.3 204.75,83.0 204.80,81.8 205.00,80.2 205.20,81.8 205.25,82.8 205.50,89.3 205.60,92.0 206.00,98.8 206.40,99.1 206.49,98.9 206.80,97.8 206.84,98.2 207.19,99.2 207.20,98.3 207.60,100.3 208.00,100.5 208.40,100.4 208.80,98.6 208.82,98.3 209.17,94.4 209.20,94.9 209.50,94.0 209.52,94.1 209.60,94.1 209.75,93.0 210.00,93.1 210.25,93.7 210.40,95.5 210.50,96.6 210.80,99.6 211.20,100.2 211.60,100.2 212.00,100.8 212.40,100.4 212.66,100.9 212.80,100.2 213.01,100.0 213.20,100.4 213.36,99.8 213.60,98.8 213.70,97.3 213.80,97.2 214.00,94.9 214.05,95.0 214.30,94.0 214.40,94.2 214.55,95.4 214.80,97.6 215.20,100.2 215.60,100.6 216.00,100.8 216.40,100.8 216.80,101.2 217.20,99.3 217.35,99.1 217.50,97.7 217.60,97.0 217.70,96.0 217.75,96.0 218.00,93.4 218.01,93.3 218.04,93.4 218.05,93.1 218.25,92.7 218.36,92.7 218.39,92.4 218.40,92.8 218.50,92.9 218.71,94.9 218.74,95.3 218.80,96.4 219.09,98.4 219.20,98.5 219.39,98.2 219.60,97.8 219.74,96.9 220.00,98.1 220.09,98.7 220.40,99.6 220.80,100.5 221.20,100.8 221.60,100.6 222.00,99.9 222.34,98.3 222.40,97.8 222.50,97.3 222.69,95.3 222.75,95.2 222.80,95.2 223.00,95.5 223.04,95.8 223.20,96.6 223.25,96.8 223.50,97.8 223.60,98.4 223.80,98.1 224.00,97.7 224.15,97.7 224.40,98.8 224.50,99.3 224.80,100.0 225.20,100.7 225.60,100.8 226.00,100.6 226.40,100.1 226.80,98.7 226.96,98.1 227.20,95.7 227.29,95.0 227.31,94.6 227.60,95.9 227.64,96.2 227.66,96.0 227.99,98.9 228.00,98.6 228.40,100.6 228.80,100.2 229.20,100.7 229.60,100.5 230.00,99.1 230.10,99.0 230.35,97.4 230.40,97.4 230.60,96.9 230.80,96.1 230.85,95.8 230.90,95.9 231.06,94.6 231.10,94.2 231.20,93.5 231.25,93.3 231.41,93.8 231.60,94.8 231.76,96.4 232.00,97.0 232.11,96.4 232.40,94.2 232.46,94.6 232.80,97.2 232.81,97.1 233.20,99.8 233.60,100.4 234.00,99.4 234.07,98.9 234.40,98.3 234.42,98.2 234.77,99.3 234.80,99.6 235.20,100.2 235.27,100.7 235.60,100.1 235.62,100.5 235.97,100.6 236.00,100.4 236.40,100.7 236.80,100.2 237.20,99.4 237.50,97.8 237.60,96.7 237.68,96.2 237.75,95.4 237.92,94.2 238.00,93.9 238.03,93.9 238.25,95.0 238.27,95.1 238.38,96.2 238.40,97.0 238.50,97.1 238.62,98.5 238.80,99.9 239.20,100.6 239.60,100.9 240.00,100.7 240.40,100.3 240.80,100.5 241.20,100.2 241.60,100.8 242.00,100.7 242.37,98.8 242.40,98.9 242.72,97.4 242.80,97.3 243.07,98.8 243.20,99.2 243.60,100.4 244.00,100.6 244.40,100.5 244.80,99.2 245.00,97.5 245.20,96.2 245.25,95.9 245.50,95.1 245.60,94.4 245.75,95.6 246.00,97.8 246.17,98.4 246.40,99.9 246.52,100.3 246.80,100.0 246.87,100.5 247.20,100.6 247.60,100.6 248.00,100.2 248.29,100.6 248.40,100.4 248.64,100.7 248.80,100.5 248.99,100.1 249.20,99.9 249.50,98.5 249.60,98.0 249.75,97.1 250.00,96.9 250.25,97.7 250.40,98.2 250.50,98.6 250.80,99.4 250.95,99.5 251.20,99.7 251.30,99.1 251.60,100.4 251.65,100.0 252.00,101.0 252.40,100.9 252.80,100.5 253.20,100.8 253.60,100.6 254.00,100.7 254.40,100.8 254.80,100.3 255.20,99.5 255.50,98.0 255.60,97.1 255.75,96.6 256.00,96.0 256.25,96.7 256.40,97.5 256.50,97.9 256.80,99.2 257.13,96.6 257.20,96.2 257.48,93.9 257.60,94.1 257.77,94.6 257.83,94.8 258.00,95.3 258.12,96.1 258.40,97.6 258.47,98.5 258.80,99.6 259.20,100.9 259.47,100.7 259.60,100.0 259.82,99.8 260.00,99.6 260.17,99.9 260.40,100.3 260.53,100.2 260.80,99.6 260.88,99.8 261.20,100.0 261.23,100.3 261.60,100.2 261.77,99.5 262.00,98.9 262.12,98.8 262.40,98.8 262.47,99.6 262.80,100.4 263.20,100.7 263.60,100.1 264.00,100.5 264.40,99.3 264.50,99.2 264.75,98.6 264.80,97.8 265.00,97.6 265.20,98.4 265.25,97.9 265.50,98.4 265.60,98.9 265.66,98.7 266.00,98.7 266.01,98.6 266.12,98.6 266.36,99.5 266.40,99.9 266.47,99.6 266.80,100.6 266.82,100.6 267.20,100.6 267.60,100.7 268.00,100.3 268.40,100.4 268.80,100.6 269.20,99.9 269.44,99.0 269.60,97.3 269.79,97.0 270.00,97.6 270.14,98.6 270.40,100.3 270.80,100.2 271.20,100.7 271.45,100.1 271.60,100.1 271.80,100.3 272.00,100.1 272.15,100.4 272.40,100.0 272.64,99.1 272.80,98.3 272.99,97.5 273.20,98.2 273.34,99.1 273.60,100.2 274.00,100.2 274.40,100.8 274.80,100.7 275.20,100.2 275.60,100.3 276.00,100.7 276.40,100.1 276.80,100.4 277.20,100.6 277.60,100.5 278.00,100.6 278.40,100.7 278.80,100.3 279.20,100.0 279.34,100.3 279.60,98.8 279.69,99.0 280.00,99.7 280.04,99.6 280.40,100.8 280.80,100.6 281.20,100.8 281.60,99.9 282.00,100.9 282.40,100.7 282.50,100.1 282.80,100.5 282.85,100.2 283.20,100.5 283.60,100.8 284.00,99.5 284.30,97.4 284.40,96.9 284.55,95.6 284.80,95.0 285.05,95.8 285.20,96.8 285.30,98.0 285.60,99.7 286.00,100.2 286.40,100.8 286.80,99.9 287.14,98.8 287.20,98.6 287.49,97.8 287.60,97.9 287.84,99.0 288.00,100.0 288.40,100.7 288.80,100.9 289.20,100.4 289.60,100.2 290.00,100.5 290.40,100.8 290.80,100.6 291.20,100.8 291.60,100.8 292.00,100.7 292.40,100.7 292.74,100.0 292.80,100.4 293.09,99.6 293.20,99.9 293.44,99.8 293.60,100.5 294.00,100.2 294.40,100.9 294.80,100.2 295.20,100.6 295.60,100.5 296.00,100.3 296.11,100.8 296.40,100.2 296.46,100.7 296.80,100.2 296.81,100.2 297.20,99.9 297.52,100.0 297.60,99.9 297.87,99.3 298.00,99.3 298.22,99.6 298.40,100.8 298.43,100.4 298.78,100.0 298.80,100.3 299.13,99.9 299.20,100.9 299.60,101.1 300.00,101.0 300.40,100.6 300.80,100.4 301.20,100.2 301.60,100.7 302.00,100.4 302.40,100.5 302.80,100.4 303.20,100.5 303.60,100.8 304.00,101.0 304.40,100.6 304.80,100.4 305.20,98.9 305.50,96.7 305.60,95.9 305.75,95.2 306.00,94.0 306.25,95.2 306.40,96.2 306.50,96.9 306.80,98.9 307.20,100.3 307.60,100.2 308.00,101.1 308.40,100.7 308.80,100.5 309.20,101.1 309.60,100.5 310.00,100.7 310.40,100.5 310.80,100.7 311.20,100.5 311.60,100.7 312.00,100.9 312.40,100.3 312.80,100.0 313.20,100.1 313.40,98.5 313.60,97.3 313.75,96.4 313.84,96.8 314.00,97.4 314.10,97.2 314.19,98.2 314.40,99.1 314.54,99.4 314.80,100.3 315.20,100.7 315.60,100.2 316.00,100.3 316.40,100.9 316.80,100.6 317.20,100.7 317.60,100.3 318.00,100.4 318.40,100.6 318.80,100.6 319.20,100.6 319.60,101.0 320.00,100.6 320.40,100.2 320.80,100.4 321.20,100.6 321.60,100.9 322.00,100.4 322.40,100.5 322.80,100.6 323.20,100.4 323.60,100.4 324.00,100.5 324.40,100.8 324.80,100.7 325.20,100.5 325.60,100.7 326.00,100.2 326.40,100.8 326.80,100.8 327.20,100.6 327.60,100.2 328.00,101.1 328.40,99.8 328.80,100.3 329.20,100.3 329.60,100.5 329.80,99.7 330.00,99.8 330.15,99.7 330.40,99.9 330.50,100.3 330.80,100.8 331.20,100.6 331.60,100.1 332.00,98.6 332.25,98.7 332.40,98.0 332.50,97.5 332.75,98.4 332.80,98.9 333.00,99.1 333.20,99.5 333.60,101.0 334.00,100.7 334.40,100.7 334.80,100.8 335.20,100.0 335.60,100.6 336.00,100.5 336.40,101.1 336.80,100.4 337.20,100.4 337.31,100.1 337.60,100.2 337.66,100.4 338.00,100.6 338.01,100.4 338.40,101.0 338.79,99.9 338.80,99.9 339.14,99.5 339.20,99.3 339.49,99.7 339.60,99.7 340.00,100.6 340.40,100.4 340.80,100.9 341.20,100.4 341.60,100.0 342.00,100.6 342.40,100.8 342.80,100.5 343.20,100.6 343.60,100.6 344.00,101.0 344.40,100.7 344.80,100.6 345.20,100.4 345.60,100.2 346.00,100.9 346.40,100.8 346.80,100.0 347.20,99.2 347.30,98.7 347.55,97.4 347.60,97.2 347.80,97.2 348.00,97.0 348.05,97.4 348.30,98.6 348.40,99.1 348.80,100.0 349.20,99.2 349.50,97.1 349.60,95.9 349.75,94.9 350.00,93.8 350.25,95.3 350.40,95.7 350.50,96.9 350.56,97.6 350.80,99.0 350.91,99.5 351.20,100.1 351.26,100.3 351.55,100.1 351.60,100.4 351.90,100.5 352.00,100.1 352.40,100.6 352.80,100.5 353.20,100.7 353.60,100.8 354.00,100.7 354.40,100.3 354.80,100.6 355.20,96.1 355.40,84.9 355.60,63.3 355.65,56.6 355.90,38.8 356.00,41.7 356.15,56.6 356.40,84.8 356.80,100.1 357.20,100.5 357.60,100.7 358.00,100.7 358.40,100.5 358.80,92.4 358.90,85.3 359.15,57.4 359.20,51.5 359.40,38.9 359.60,51.8 359.65,57.9 359.90,85.6 360.00,92.9 360.40,100.5 360.80,100.3 361.20,100.2 361.60,100.5 362.00,100.2 362.40,99.8 362.80,98.9 363.00,95.8 363.20,90.9 363.25,89.3 363.50,85.0 363.60,86.0 363.75,89.0 364.00,95.9 364.40,99.1 364.80,98.5 365.20,99.1 365.60,98.0 366.00,98.1 366.40,98.1 366.80,97.2 367.20,97.8 367.60,97.7 368.00,97.2 368.40,97.1 368.80,96.9 369.20,96.6 369.60,96.8 370.00,96.2 370.40,96.1 370.80,96.0 371.20,96.0 371.60,95.9 372.00,95.1 372.40,94.8 372.80,95.1 373.20,94.9 373.60,94.5 374.00,94.7 374.40,94.6 374.80,94.3 375.20,93.4 375.45,90.4 375.60,89.5 375.70,89.7 375.95,90.7 376.00,90.7 376.20,92.6 376.40,93.7 376.80,94.0 377.20,93.5 377.60,93.5 378.00,92.2 378.20,90.8 378.40,87.9 378.45,86.5 378.70,84.1 378.80,84.1 378.95,87.0 379.20,90.4 379.60,92.6 380.00,92.0 380.40,91.9 380.80,92.6 381.20,91.9 381.60,91.7 382.00,91.9 382.40,91.8 382.80,91.0 383.20,91.1 383.60,91.3 384.00,91.2 384.40,91.1 384.80,90.8 385.20,90.8 385.60,90.8 386.00,90.5 386.40,90.4 386.80,90.3 387.20,90.4 387.60,90.3 388.00,90.1 388.40,90.1 388.80,90.1 389.20,89.2 389.30,88.5 389.55,85.0 389.60,84.9 389.80,82.9 390.00,84.8 390.50,102.0"/>
<polyline fill="none" stroke="#000000" stroke-width="1.2" stroke-linejoin="round" points="30.00,123.4 30.40,116.5 30.80,94.0 30.90,86.5 31.15,69.4 31.20,67.0 31.40,61.9 31.60,66.9 31.65,69.3 31.90,87.0 32.00,93.9 32.40,116.2 32.80,122.7 33.20,121.4 33.60,113.2 33.80,106.3 34.00,99.9 34.05,98.7 34.30,95.0 34.40,95.7 34.55,98.9 34.80,106.6 35.20,118.6 35.60,123.2 36.00,122.5 36.40,116.2 36.80,98.2 37.05,87.1 37.20,82.8 37.30,82.3 37.55,87.0 37.60,88.8 37.80,98.8 38.00,108.3 38.40,120.6 38.80,123.6 39.20,121.7 39.60,113.3 39.80,106.4 40.00,99.8 40.05,97.9 40.30,95.0 40.40,95.3 40.55,98.7 40.80,106.9 41.20,118.1 41.60,123.4 42.00,123.4 42.40,117.9 42.80,101.9 42.90,96.1 43.15,83.0 43.20,81.5 43.40,78.0 43.60,81.6 43.65,83.1 43.90,96.4 44.00,102.0 44.40,117.8 44.80,123.1 45.20,122.1 45.60,113.3 45.90,100.9 46.00,95.8 46.15,89.4 46.40,84.8 46.65,89.6 46.80,96.4 46.90,100.5 47.20,113.6 47.60,122.6 48.00,124.1 48.40,120.7 48.80,103.6 49.00,90.7 49.20,77.4 49.25,74.8 49.50,67.7 49.60,69.7 49.75,74.9 50.00,91.1 50.40,114.7 50.80,123.1 51.20,119.3 51.50,110.7 51.60,107.5 51.75,103.4 52.00,100.2 52.25,103.4 52.40,108.0 52.50,111.3 52.80,120.3 53.20,126.8 53.60,127.6 54.00,123.7 54.40,114.2 54.50,111.5 54.75,105.5 54.80,104.1 55.00,102.6 55.20,104.3 55.25,105.5 55.50,111.2 55.60,114.7 56.00,124.6 56.40,128.1 56.80,128.9 56.86,128.5 57.20,126.2 57.21,126.3 57.50,122.8 57.56,122.3 57.60,122.4 57.75,120.0 58.00,119.4 58.25,120.5 58.40,122.6 58.50,123.8 58.80,126.7 59.20,129.0 59.60,129.4 60.00,128.8 60.40,126.2 60.80,117.4 60.99,110.8 61.05,108.7 61.20,105.5 61.30,105.0 61.34,104.8 61.55,108.8 61.60,110.4 61.69,113.1 61.80,116.6 62.00,122.5 62.40,128.3 62.80,129.0 63.20,126.1 63.40,123.4 63.60,120.2 63.65,119.7 63.90,117.9 64.00,118.2 64.15,119.3 64.40,122.9 64.80,127.7 65.20,128.9 65.60,129.2 66.00,129.6 66.40,129.2 66.80,128.6 67.10,125.6 67.20,124.3 67.35,123.3 67.60,122.1 67.85,122.9 68.00,124.7 68.10,125.2 68.40,127.1 68.80,128.9 68.90,128.5 69.20,128.4 69.25,127.7 69.60,126.0 69.64,126.4 69.99,123.5 70.00,123.8 70.11,124.2 70.34,125.4 70.40,125.8 70.46,126.3 70.80,128.6 70.81,128.3 71.20,129.4 71.60,128.8 72.00,125.7 72.20,121.5 72.40,117.6 72.45,117.2 72.70,114.8 72.80,115.2 72.91,116.2 72.95,117.0 73.20,120.9 73.26,122.2 73.60,126.5 73.61,127.0 74.00,129.3 74.40,127.5 74.70,124.7 74.80,123.4 74.95,122.3 75.20,121.0 75.45,121.9 75.60,123.9 75.70,124.9 76.00,127.9 76.40,129.0 76.80,129.8 77.20,129.5 77.60,129.3 78.00,128.9 78.40,127.5 78.50,127.2 78.75,125.6 78.80,125.7 79.00,125.1 79.20,125.6 79.25,125.6 79.49,126.3 79.50,125.9 79.60,126.8 79.84,127.7 80.00,128.1 80.19,128.8 80.40,129.0 80.80,129.3 81.20,129.2 81.60,129.6 82.00,128.4 82.20,127.4 82.40,126.3 82.45,126.4 82.70,126.4 82.80,126.2 82.95,126.3 83.20,127.9 83.60,129.3 84.00,129.6 84.40,129.6 84.80,129.6 85.20,128.8 85.50,127.8 85.60,126.9 85.75,126.8 86.00,125.9 86.25,126.4 86.28,125.4 86.40,126.4 86.50,126.7 86.63,126.8 86.80,127.8 86.98,128.6 87.20,129.2 87.60,129.2 88.00,129.4 88.40,129.7 88.80,129.7 89.20,129.4 89.60,129.4 90.00,129.4 90.40,129.3 90.51,128.5 90.80,126.7 90.86,126.5 91.10,123.4 91.20,122.1 91.21,122.2 91.35,120.5 91.60,118.7 91.85,120.7 92.00,122.0 92.10,123.9 92.40,126.9 92.80,128.8 93.20,129.5 93.60,129.3 94.00,128.8 94.40,127.5 94.50,127.1 94.75,125.6 94.80,125.4 95.00,125.3 95.20,125.2 95.25,125.5 95.50,126.9 95.60,127.9 96.00,129.3 96.40,129.7 96.80,129.4 97.20,129.2 97.29,129.4 97.60,129.0 97.64,129.3 97.99,129.4 98.00,129.0 98.40,128.6 98.51,128.1 98.80,127.6 98.86,127.8 99.20,127.3 99.21,127.3 99.32,126.6 99.60,125.9 99.67,125.3 99.90,123.2 100.00,122.9 100.02,122.2 100.15,121.6 100.40,120.9 100.65,121.9 100.80,123.9 100.90,125.1 101.20,126.8 101.55,125.4 101.60,125.4 101.90,123.4 102.00,123.4 102.25,126.0 102.40,127.6 102.80,129.2 103.20,129.0 103.60,126.5 103.70,125.9 103.95,123.4 104.00,122.9 104.20,122.3 104.40,123.0 104.45,123.2 104.70,125.1 104.80,126.6 105.20,128.8 105.60,129.7 106.00,129.4 106.40,129.5 106.80,129.4 107.20,129.1 107.50,127.6 107.60,127.0 107.75,126.6 108.00,125.9 108.25,126.5 108.40,127.1 108.50,127.6 108.80,129.2 109.20,129.2 109.60,129.4 110.00,129.1 110.17,129.1 110.40,128.3 110.52,128.2 110.80,128.1 110.87,128.1 111.20,126.4 111.45,124.6 111.60,123.9 111.70,124.1 111.95,125.1 112.00,125.1 112.20,126.3 112.40,127.2 112.60,126.7 112.80,126.3 112.95,126.2 113.20,127.2 113.30,127.7 113.60,128.7 114.00,129.7 114.40,129.8 114.80,129.3 115.20,129.5 115.60,129.5 116.00,129.6 116.40,129.0 116.80,129.6 117.20,127.6 117.50,125.2 117.60,123.8 117.75,122.1 118.00,120.9 118.23,121.9 118.25,121.6 118.40,122.9 118.50,123.7 118.58,123.9 118.59,124.7 118.80,125.7 118.93,126.2 118.94,126.6 119.20,127.4 119.29,128.1 119.60,129.6 120.00,129.6 120.40,128.8 120.80,128.6 121.20,129.1 121.60,129.6 122.00,128.6 122.40,125.9 122.50,125.0 122.75,122.0 122.80,121.8 123.00,121.2 123.20,121.9 123.25,122.3 123.50,124.7 123.60,126.0 124.00,127.3 124.05,127.7 124.40,127.3 124.75,127.6 124.80,127.5 125.15,128.2 125.20,128.3 125.50,127.9 125.60,128.0 125.85,128.1 126.00,128.4 126.40,128.3 126.50,127.3 126.75,126.8 126.80,126.3 127.00,126.2 127.20,126.5 127.25,126.7 127.50,127.8 127.60,127.8 128.00,129.2 128.40,129.4 128.80,129.5 129.20,129.7 129.60,129.3 130.00,129.1 130.40,127.4 130.54,126.0 130.80,123.6 130.89,122.8 131.20,124.3 131.24,124.3 131.40,124.7 131.60,124.2 131.65,124.5 131.90,124.1 132.00,123.7 132.15,125.1 132.40,126.9 132.80,128.8 133.20,129.4 133.60,130.0 134.00,129.7 134.40,129.2 134.80,129.4 135.20,129.4 135.60,129.2 136.00,127.2 136.40,123.3 136.65,119.2 136.80,118.0 136.90,117.7 137.15,119.6 137.20,120.0 137.40,122.9 137.60,126.0 138.00,129.2 138.40,129.3 138.80,129.7 139.20,129.4 139.60,128.4 139.90,126.0 140.00,123.9 140.20,121.0 140.25,119.8 140.33,118.9 140.40,117.5 140.45,117.0 140.56,116.5 140.60,116.0 140.68,115.7 140.70,115.6 140.80,116.0 140.91,116.5 140.95,117.0 141.03,118.5 141.20,121.6 141.26,122.8 141.60,127.8 142.00,129.2 142.40,129.3 142.80,129.8 143.20,129.7 143.60,129.7 144.00,128.9 144.40,125.8 144.70,120.0 144.80,118.0 144.95,114.5 145.20,112.5 145.45,115.2 145.60,118.5 145.70,120.6 146.00,125.7 146.40,129.0 146.80,129.1 147.20,128.6 147.60,124.7 147.70,123.5 147.95,120.3 148.00,119.3 148.20,118.6 148.40,119.1 148.45,119.5 148.70,123.4 148.80,124.8 149.20,125.0 149.39,122.4 149.50,119.7 149.60,118.0 149.74,116.1 149.75,115.7 150.00,115.5 150.09,116.3 150.25,119.2 150.40,122.0 150.50,123.7 150.80,127.3 151.10,128.5 151.20,129.5 151.45,129.2 151.60,129.2 151.80,129.5 152.00,128.8 152.40,129.3 152.80,128.7 153.20,126.0 153.30,125.2 153.55,122.3 153.60,121.3 153.80,120.9 154.00,121.8 154.05,122.2 154.30,124.5 154.40,125.5 154.80,128.8 155.20,129.4 155.60,129.4 156.00,128.9 156.21,129.7 156.40,128.4 156.56,128.7 156.80,128.7 156.91,127.6 157.10,126.5 157.20,125.4 157.35,125.0 157.60,123.2 157.75,123.4 157.85,123.6 158.00,123.9 158.10,125.0 158.40,126.9 158.45,127.4 158.80,129.1 159.20,129.3 159.60,129.5 160.00,129.6 160.40,129.3 160.80,129.3 161.20,129.2 161.60,127.9 161.69,127.6 162.00,124.6 162.04,124.5 162.10,123.9 162.16,123.4 162.35,123.2 162.39,122.7 162.40,123.0 162.51,123.5 162.60,123.1 162.80,124.5 162.85,124.5 162.86,124.9 163.10,126.4 163.20,127.4 163.60,128.9 164.00,129.4 164.40,129.8 164.80,129.4 165.20,128.9 165.50,127.6 165.60,127.0 165.75,126.3 166.00,125.5 166.25,126.5 166.40,127.5 166.50,127.7 166.80,128.5 167.20,129.4 167.23,128.8 167.58,128.6 167.60,128.4 167.93,128.8 168.00,129.1 168.40,129.9 168.80,129.3 169.20,128.7 169.60,127.0 169.70,126.4 169.95,124.3 170.00,124.5 170.20,124.2 170.40,124.6 170.45,124.9 170.70,126.1 170.80,126.7 171.20,128.4 171.23,128.3 171.58,127.1 171.60,127.6 171.93,128.4 172.00,128.7 172.40,129.4 172.80,129.3 173.20,129.4 173.60,128.8 174.00,125.5 174.20,121.9 174.40,118.2 174.45,118.1 174.70,116.0 174.80,116.8 174.95,118.4 175.20,122.5 175.60,127.5 176.00,129.0 176.40,128.0 176.70,124.7 176.80,124.0 176.95,122.4 177.20,121.1 177.45,122.6 177.60,123.6 177.70,125.1 178.00,127.4 178.40,129.0 178.80,129.1 179.20,128.6 179.60,124.0 179.80,120.1 180.00,115.3 180.05,114.8 180.30,112.6 180.40,112.6 180.55,115.0 180.80,120.2 181.20,127.6 181.60,129.2 182.00,129.0 182.40,129.7 182.80,129.0 183.20,126.2 183.50,121.5 183.60,119.3 183.75,117.0 184.00,114.6 184.16,116.1 184.25,117.0 184.40,119.0 184.50,120.9 184.51,121.4 184.80,125.7 184.86,126.9 185.20,128.9 185.60,129.2 186.00,129.3 186.40,129.4 186.80,128.4 187.20,123.4 187.30,121.0 187.55,116.3 187.60,115.2 187.80,114.0 188.00,115.1 188.05,116.3 188.30,120.7 188.40,122.8 188.80,128.1 189.20,129.4 189.60,128.8 189.85,128.4 190.00,128.1 190.20,127.7 190.40,127.5 190.55,127.7 190.80,126.5 191.10,123.1 191.20,121.3 191.35,118.6 191.60,116.6 191.85,119.0 192.00,121.5 192.10,122.9 192.40,127.1 192.80,128.9 193.20,128.9 193.40,129.2 193.60,128.7 193.75,128.8 194.00,128.4 194.10,128.8 194.40,128.0 194.80,124.1 194.90,122.0 195.15,117.7 195.20,117.1 195.40,116.2 195.60,116.6 195.65,116.9 195.85,119.0 195.90,119.5 196.00,121.2 196.20,122.4 196.40,124.9 196.55,126.9 196.80,128.9 197.20,129.1 197.60,127.7 197.90,124.5 198.00,123.3 198.15,121.4 198.40,120.4 198.65,121.4 198.80,123.5 198.90,124.1 199.20,127.7 199.60,128.8 200.00,129.0 200.40,129.5 200.80,129.0 200.87,129.2 201.20,127.9 201.22,128.5 201.57,124.0 201.60,123.1 201.90,114.3 202.00,110.7 202.15,105.1 202.40,101.2 202.65,104.3 202.80,107.4 202.87,108.7 202.90,109.2 203.00,111.3 203.20,113.4 203.22,113.2 203.35,115.0 203.57,115.7 203.60,116.3 203.70,115.2 203.95,111.6 204.00,110.9 204.20,110.0 204.40,111.5 204.45,112.4 204.70,117.7 204.80,119.4 204.91,120.6 205.20,121.9 205.26,122.5 205.60,126.2 205.61,125.5 206.00,129.6 206.40,129.4 206.80,129.5 207.20,127.4 207.43,125.3 207.50,124.3 207.51,124.2 207.60,123.1 207.75,121.4 207.78,120.7 207.86,120.4 208.00,120.5 208.13,121.2 208.21,121.7 208.25,122.2 208.40,124.0 208.50,124.9 208.80,127.6 209.20,129.6 209.60,129.3 210.00,129.4 210.40,129.2 210.80,129.7 211.20,129.7 211.60,127.6 211.65,127.4 211.94,123.5 212.00,123.3 212.29,120.2 212.35,119.4 212.37,119.8 212.40,119.4 212.50,118.9 212.64,118.1 212.72,117.3 212.75,117.1 212.80,117.1 212.90,116.4 212.91,116.1 213.00,116.6 213.07,116.1 213.20,116.8 213.25,117.3 213.26,117.8 213.50,121.9 213.60,123.6 213.61,124.0 214.00,128.0 214.40,129.2 214.80,129.3 215.20,129.4 215.60,129.5 216.00,128.9 216.40,130.2 216.80,129.0 217.20,128.0 217.50,125.6 217.60,124.6 217.75,123.1 218.00,121.1 218.05,121.6 218.25,123.0 218.40,123.9 218.50,124.8 218.75,126.8 218.80,128.0 219.20,129.3 219.60,129.2 220.00,129.4 220.40,129.4 220.80,129.1 221.20,129.3 221.60,129.4 222.00,128.9 222.40,125.5 222.48,123.8 222.50,123.3 222.55,122.5 222.75,118.7 222.80,118.0 222.83,118.3 222.90,117.6 223.00,118.0 223.18,120.4 223.20,120.2 223.25,121.6 223.50,125.6 223.60,126.6 224.00,128.9 224.06,128.7 224.40,128.4 224.41,128.9 224.76,129.0 224.80,129.4 225.20,129.5 225.60,129.3 226.00,129.4 226.40,129.7 226.80,129.5 227.20,128.2 227.50,126.1 227.60,125.0 227.75,123.9 228.00,123.2 228.25,123.9 228.40,125.2 228.50,125.7 228.80,127.7 229.20,128.7 229.46,128.8 229.60,129.0 229.81,128.5 230.00,127.3 230.16,126.1 230.21,126.3 230.35,124.9 230.40,124.0 230.56,123.8 230.70,123.9 230.80,125.0 230.91,125.9 231.05,127.5 231.20,128.5 231.60,129.1 232.00,128.3 232.08,127.7 232.37,124.2 232.40,123.2 232.43,122.6 232.50,121.9 232.72,119.3 232.75,119.1 232.78,118.9 232.80,118.2 232.90,118.5 233.00,119.1 233.07,119.8 233.20,120.5 233.25,121.5 233.44,123.4 233.50,123.6 233.60,124.6 233.79,126.1 234.00,127.0 234.04,127.4 234.14,127.8 234.39,128.5 234.40,128.5 234.74,128.9 234.80,129.4 235.20,129.3 235.60,129.2 236.00,129.2 236.21,128.2 236.40,127.9 236.56,127.9 236.80,128.1 236.91,128.4 237.20,129.4 237.60,129.6 238.00,129.0 238.40,128.8 238.80,128.1 239.00,126.6 239.20,124.6 239.25,124.4 239.50,124.0 239.60,123.9 239.75,124.9 240.00,126.5 240.40,128.8 240.80,128.5 241.14,126.4 241.16,126.5 241.20,125.4 241.49,123.6 241.51,123.5 241.60,123.5 241.80,124.2 241.84,124.2 241.86,124.4 242.00,125.6 242.15,126.3 242.40,127.7 242.50,128.1 242.80,129.2 243.20,128.0 243.42,125.1 243.55,123.2 243.60,122.4 243.77,120.2 243.90,119.5 244.00,120.6 244.12,122.1 244.25,124.7 244.40,126.3 244.80,126.3 245.00,124.2 245.20,121.5 245.25,121.2 245.50,118.4 245.60,117.9 245.61,118.7 245.75,119.2 245.96,121.3 246.00,121.5 246.31,126.1 246.40,127.1 246.80,128.8 247.20,129.1 247.60,127.9 247.64,127.4 247.99,126.4 248.00,125.5 248.34,127.3 248.40,128.1 248.80,129.1 249.20,129.1 249.60,129.1 250.00,129.2 250.40,129.2 250.80,127.1 251.05,125.8 251.20,125.0 251.30,125.2 251.55,125.7 251.60,125.6 251.80,126.8 252.00,127.5 252.32,126.0 252.40,124.9 252.67,123.3 252.80,124.0 252.89,124.0 253.02,125.1 253.20,127.3 253.24,127.4 253.59,128.8 253.60,128.9 254.00,129.3 254.40,129.5 254.80,129.3 255.20,129.5 255.60,128.0 255.90,126.3 256.00,125.8 256.15,124.7 256.40,124.2 256.65,124.8 256.80,125.6 256.90,126.5 257.20,128.2 257.60,128.9 258.00,129.1 258.40,129.2 258.80,129.3 259.20,129.4 259.49,129.5 259.60,129.3 259.84,129.6 260.00,129.5 260.19,129.2 260.40,129.8 260.80,129.7 261.20,129.3 261.60,129.5 262.00,129.7 262.40,129.5 262.80,129.7 263.20,129.5 263.60,129.6 264.00,129.2 264.40,128.8 264.70,127.5 264.80,127.3 264.95,126.1 265.20,126.1 265.45,126.8 265.60,127.3 265.70,127.6 266.00,128.8 266.40,129.0 266.44,129.0 266.79,129.0 266.80,129.1 267.14,128.8 267.20,128.1 267.24,128.5 267.59,127.0 267.60,127.2 267.94,128.3 268.00,128.8 268.40,129.2 268.80,128.7 269.14,128.4 269.20,128.1 269.49,127.1 269.60,127.2 269.84,127.7 270.00,127.8 270.20,126.8 270.40,124.8 270.55,125.2 270.80,125.7 270.90,126.5 270.92,126.9 271.20,128.4 271.27,129.2 271.60,129.4 271.62,129.1 272.00,129.2 272.29,129.0 272.40,129.0 272.64,129.1 272.80,128.9 272.99,129.6 273.20,129.3 273.60,129.4 274.00,129.5 274.30,128.1 274.40,127.8 274.56,127.2 274.65,126.5 274.80,125.9 274.91,125.9 275.00,125.9 275.20,127.1 275.26,127.2 275.60,128.6 276.00,129.7 276.40,129.2 276.80,129.2 277.20,129.5 277.43,128.9 277.60,128.1 277.78,128.0 278.00,128.4 278.13,128.5 278.40,129.4 278.80,129.4 279.20,129.4 279.60,129.6 280.00,129.6 280.40,129.9 280.80,129.8 281.20,129.0 281.60,129.5 282.00,128.1 282.03,127.9 282.38,127.0 282.40,126.6 282.73,126.1 282.80,126.3 283.05,125.0 283.20,124.5 283.30,124.8 283.55,125.7 283.60,125.8 283.80,126.5 284.00,127.8 284.40,129.1 284.80,129.9 285.20,129.6 285.60,129.6 286.00,129.7 286.40,129.3 286.80,129.2 287.04,128.6 287.20,127.8 287.39,127.8 287.60,128.2 287.74,128.2 288.00,129.3 288.40,129.6 288.80,129.7 289.20,129.2 289.60,129.4 290.00,129.8 290.40,129.6 290.80,129.2 291.20,129.5 291.60,129.8 292.00,129.4 292.40,129.5 292.80,130.1 293.20,129.4 293.60,129.4 294.00,129.2 294.40,129.2 294.80,129.8 295.20,129.4 295.60,129.1 296.00,129.2 296.40,129.4 296.80,129.3 297.06,128.3 297.20,128.2 297.25,127.7 297.41,127.7 297.60,128.0 297.76,128.5 297.95,128.8 298.00,129.0 298.40,129.5 298.80,129.1 299.20,129.4 299.60,129.5 300.00,129.7 300.40,129.4 300.80,129.4 301.20,129.4 301.60,129.2 302.00,129.3 302.40,129.5 302.80,129.5 303.20,129.1 303.60,129.3 304.00,128.9 304.40,129.3 304.80,127.7 305.00,126.5 305.20,124.8 305.25,124.7 305.50,124.1 305.60,124.4 305.75,124.4 306.00,126.7 306.40,128.6 306.80,129.1 307.20,129.5 307.60,129.3 308.00,129.3 308.40,129.2 308.80,129.5 309.20,129.4 309.60,129.4 310.00,129.2 310.40,129.3 310.80,129.5 311.20,129.7 311.60,129.4 312.00,129.4 312.20,128.6 312.40,127.9 312.55,128.2 312.80,128.1 312.90,128.7 313.20,129.5 313.60,129.1 313.70,129.0 314.00,129.3 314.05,128.7 314.40,129.1 314.80,129.5 315.20,129.4 315.60,129.3 315.99,128.5 316.00,127.8 316.34,128.0 316.40,127.4 316.69,128.2 316.80,128.9 317.20,129.4 317.60,129.1 318.00,129.4 318.40,129.1 318.80,129.2 319.20,128.5 319.36,128.2 319.60,127.8 319.71,127.7 320.00,128.3 320.06,128.7 320.40,129.2 320.80,129.2 321.13,129.0 321.20,129.4 321.48,128.9 321.60,129.0 321.83,129.1 322.00,129.3 322.40,129.5 322.80,129.4 323.20,129.4 323.60,129.2 324.00,129.2 324.40,129.5 324.80,129.6 325.20,129.6 325.60,129.4 326.00,129.2 326.40,129.6 326.80,129.5 327.20,129.0 327.60,129.6 328.00,129.5 328.40,129.8 328.80,129.1 329.20,129.1 329.60,129.6 330.00,128.9 330.40,129.2 330.80,129.0 331.20,128.4 331.50,127.1 331.60,127.0 331.75,126.7 332.00,126.1 332.25,126.6 332.40,127.0 332.50,127.9 332.80,128.8 333.20,129.6 333.60,129.0 334.00,129.5 334.40,129.1 334.80,129.4 335.11,128.9 335.20,128.4 335.46,128.5 335.60,128.8 335.81,129.0 336.00,129.3 336.40,129.2 336.80,129.2 336.96,129.1 337.20,129.3 337.31,129.6 337.60,129.4 337.66,129.3 338.00,129.1 338.40,129.5 338.80,129.3 339.20,128.9 339.60,129.0 340.00,129.3 340.40,129.2 340.80,129.8 341.20,129.4 341.60,129.1 342.00,129.3 342.40,129.8 342.80,129.2 343.20,129.6 343.60,129.5 344.00,129.8 344.40,129.5 344.80,129.3 345.20,129.5 345.60,129.4 346.00,129.6 346.40,129.4 346.80,129.9 347.20,129.4 347.60,129.5 348.00,129.2 348.40,129.0 348.80,127.1 349.00,125.3 349.20,123.5 349.25,122.7 349.50,121.5 349.60,122.2 349.75,122.7 350.00,125.1 350.40,128.6 350.80,129.5 351.20,128.7 351.60,129.3 352.00,129.6 352.40,129.6 352.80,129.3 353.20,129.8 353.60,129.2 354.00,129.3 354.40,129.4 354.80,128.3 355.10,120.3 355.20,114.3 355.35,103.0 355.60,92.4 355.85,102.8 356.00,114.0 356.10,120.5 356.40,128.4 356.80,129.7 357.20,129.3 357.60,129.3 358.00,129.2 358.40,124.4 358.50,120.0 358.75,103.0 358.80,99.6 359.00,92.3 359.20,99.5 359.25,103.1 359.50,120.3 359.60,124.1 360.00,128.9 360.40,129.8 360.80,129.7 361.20,129.3 361.60,129.2 362.00,128.7 362.40,128.4 362.80,128.0 363.00,125.6 363.20,122.4 363.25,121.0 363.50,118.1 363.60,119.0 363.75,121.4 364.00,125.4 364.40,128.0 364.80,127.4 365.20,127.3 365.60,127.4 366.00,127.5 366.40,126.8 366.80,126.9 367.20,126.6 367.60,126.1 368.00,126.2 368.40,126.5 368.80,125.9 369.20,125.9 369.60,125.8 370.00,125.2 370.40,125.6 370.80,125.5 371.20,125.3 371.60,125.1 372.00,124.5 372.40,124.3 372.80,124.1 373.20,123.9 373.60,123.8 374.00,124.1 374.40,124.1 374.80,123.4 375.20,123.6 375.60,123.0 376.00,123.1 376.40,122.8 376.80,122.5 377.20,122.7 377.60,122.6 378.00,121.6 378.10,121.0 378.35,118.4 378.40,118.1 378.60,116.9 378.80,118.0 378.85,118.2 379.10,120.8 379.20,121.5 379.60,122.2 380.00,122.1 380.40,121.7 380.80,121.4 381.20,121.0 381.60,121.3 382.00,121.6 382.40,121.5 382.80,120.4 383.20,120.7 383.60,120.7 384.00,120.4 384.40,120.6 384.80,120.5 385.20,120.3 385.60,120.3 386.00,119.8 386.40,119.9 386.80,119.8 387.20,120.2 387.60,119.5 388.00,119.8 388.40,120.0 388.80,119.7 389.20,118.9 389.30,117.6 389.55,114.5 389.60,113.9 389.80,112.8 390.00,113.9 390.50,130.5"/>
<polyline fill="none" stroke="#17408a" stroke-width="1.2" stroke-linejoin="round" points="30.00,153.9 30.40,140.1 30.80,107.3 31.05,84.6 31.20,76.6 31.30,75.2 31.55,84.6 31.60,87.7 31.80,107.5 32.00,126.2 32.40,149.2 32.80,155.4 33.20,155.2 33.60,148.6 34.00,133.2 34.25,122.5 34.40,118.7 34.50,117.8 34.75,122.4 34.80,124.6 35.00,133.5 35.20,142.2 35.60,153.1 36.00,155.8 36.40,155.8 36.80,150.9 37.20,134.4 37.30,129.8 37.55,116.7 37.60,115.3 37.80,112.1 38.00,115.1 38.05,116.8 38.30,129.6 38.40,135.1 38.80,150.4 39.20,155.9 39.60,155.5 40.00,152.0 40.40,138.8 40.50,134.4 40.75,124.4 40.80,122.9 41.00,120.5 41.20,123.4 41.25,124.4 41.50,134.3 41.60,138.4 42.00,151.0 42.40,152.3 42.80,139.3 43.10,119.2 43.20,111.8 43.35,102.3 43.60,94.7 43.85,102.0 44.00,112.1 44.10,119.4 44.40,139.3 44.80,153.3 45.20,155.0 45.60,149.9 46.00,132.4 46.10,127.3 46.35,113.7 46.40,112.0 46.60,108.2 46.80,111.8 46.85,113.7 47.10,127.4 47.20,132.8 47.60,148.9 48.00,148.0 48.40,129.2 48.50,122.5 48.75,107.1 48.80,104.3 49.00,100.3 49.20,104.3 49.25,106.9 49.50,122.5 49.60,129.7 50.00,149.4 50.40,154.8 50.80,153.2 50.90,152.2 51.15,149.9 51.20,149.5 51.40,148.8 51.60,150.4 51.65,150.1 51.90,152.6 52.00,153.1 52.40,156.1 52.80,157.4 53.20,157.5 53.60,157.2 54.00,153.9 54.40,147.5 54.50,145.7 54.75,140.5 54.80,140.3 55.00,138.7 55.20,140.2 55.25,140.9 55.50,145.8 55.60,147.3 56.00,154.4 56.40,157.5 56.80,157.6 57.20,158.0 57.60,157.6 58.00,156.2 58.30,153.9 58.40,152.8 58.55,151.8 58.80,150.4 59.05,151.5 59.20,152.6 59.30,153.6 59.60,156.4 60.00,157.2 60.40,158.4 60.80,157.8 61.20,157.6 61.60,156.5 62.00,151.4 62.10,149.4 62.35,143.7 62.40,143.1 62.60,141.4 62.80,142.7 62.85,143.8 63.10,149.1 63.20,150.8 63.60,156.8 64.00,156.8 64.40,154.8 64.50,153.4 64.75,150.9 64.80,150.6 65.00,150.2 65.20,150.4 65.25,151.1 65.50,154.1 65.60,154.5 66.00,157.3 66.40,158.1 66.80,157.9 67.20,158.1 67.60,157.7 68.00,156.9 68.21,155.0 68.40,152.6 68.56,151.8 68.65,151.0 68.80,151.0 68.90,151.2 68.91,151.4 69.15,153.2 69.20,153.7 69.40,155.5 69.60,156.2 70.00,157.7 70.40,158.3 70.80,158.0 71.20,158.1 71.60,158.4 72.00,157.8 72.40,156.0 72.70,152.4 72.80,151.5 72.95,149.4 73.20,147.5 73.45,149.3 73.60,150.8 73.70,152.7 74.00,156.0 74.40,157.7 74.80,157.9 75.20,157.5 75.60,157.0 75.73,156.0 76.00,154.5 76.08,154.7 76.40,155.7 76.43,155.9 76.80,156.9 77.20,155.0 77.45,154.3 77.60,153.1 77.70,152.9 77.95,153.9 78.00,153.2 78.20,155.3 78.40,156.5 78.80,157.5 79.20,158.1 79.60,157.5 80.00,158.0 80.40,158.2 80.80,157.4 81.20,157.6 81.60,157.7 81.61,157.8 81.96,156.8 82.00,156.9 82.06,156.7 82.20,155.7 82.31,155.5 82.40,154.9 82.41,154.7 82.45,154.4 82.70,155.0 82.76,154.8 82.80,155.4 82.95,154.9 83.20,156.2 83.60,157.6 84.00,157.9 84.40,158.1 84.80,158.0 85.20,157.8 85.60,157.4 86.00,157.6 86.40,157.6 86.50,157.1 86.75,156.6 86.80,156.0 87.00,155.9 87.20,155.9 87.25,156.3 87.50,156.9 87.60,157.3 88.00,158.2 88.40,157.5 88.65,157.3 88.80,156.4 89.00,156.8 89.20,156.6 89.35,157.1 89.60,157.7 90.00,158.4 90.40,157.8 90.80,156.5 91.10,154.1 91.20,153.6 91.35,152.1 91.60,151.2 91.85,152.3 92.00,153.7 92.10,154.2 92.40,156.8 92.80,158.2 93.20,157.6 93.60,158.3 94.00,158.5 94.40,157.8 94.80,157.7 94.95,156.7 95.20,156.3 95.30,155.9 95.50,155.8 95.60,155.5 95.65,155.5 95.75,155.6 96.00,155.7 96.25,156.1 96.40,156.6 96.50,156.6 96.80,157.5 97.20,158.0 97.60,157.4 98.00,158.0 98.40,157.8 98.80,157.7 99.20,157.6 99.60,157.7 100.00,157.8 100.40,157.9 100.80,156.4 101.10,155.1 101.20,153.8 101.35,153.2 101.60,152.4 101.85,152.7 102.00,154.3 102.10,155.4 102.40,156.7 102.80,158.0 103.20,157.9 103.60,158.0 104.00,157.9 104.40,157.9 104.80,158.2 105.20,158.2 105.60,157.8 106.00,157.5 106.20,156.6 106.40,155.7 106.45,155.2 106.69,155.4 106.70,155.2 106.80,154.4 106.95,155.0 107.04,155.5 107.20,156.5 107.39,157.3 107.60,157.5 108.00,158.0 108.40,158.2 108.80,157.7 109.20,158.0 109.52,157.2 109.60,157.1 109.87,156.6 110.00,156.3 110.22,156.5 110.40,156.4 110.49,156.0 110.80,154.6 110.84,154.9 111.19,155.7 111.20,155.5 111.50,156.4 111.60,156.4 111.75,156.2 112.00,156.3 112.25,156.4 112.40,156.9 112.50,157.1 112.80,157.5 113.20,158.2 113.60,157.9 114.00,158.1 114.40,157.8 114.80,158.0 115.20,157.9 115.60,158.1 116.00,158.5 116.40,158.6 116.80,158.1 117.20,157.2 117.50,156.0 117.60,155.3 117.75,154.3 118.00,153.6 118.21,153.3 118.25,153.2 118.40,153.9 118.50,153.8 118.56,154.1 118.80,155.9 118.91,156.2 119.20,157.3 119.60,157.8 120.00,158.1 120.40,158.1 120.80,158.1 121.20,157.9 121.60,157.8 122.00,158.1 122.40,156.8 122.50,156.9 122.75,156.0 122.80,156.1 123.00,156.0 123.20,156.5 123.25,155.6 123.50,157.3 123.60,157.0 124.00,157.9 124.40,158.1 124.80,157.3 124.88,157.3 125.20,156.8 125.23,156.7 125.58,157.1 125.60,157.4 126.00,158.0 126.40,157.6 126.80,158.2 127.20,156.7 127.24,155.8 127.50,154.7 127.59,154.9 127.60,154.9 127.75,154.2 127.85,153.6 127.94,154.0 128.00,154.3 128.18,154.2 128.20,154.0 128.25,153.9 128.40,154.6 128.50,154.7 128.53,154.9 128.55,155.0 128.80,156.7 128.88,156.8 129.20,157.8 129.60,157.5 129.77,158.2 130.00,158.1 130.12,157.8 130.40,157.3 130.47,157.8 130.80,157.9 131.20,157.2 131.31,156.1 131.60,154.6 131.66,154.5 132.00,156.1 132.01,155.6 132.40,156.7 132.60,156.0 132.80,155.5 132.85,155.3 133.10,155.0 133.20,154.8 133.35,155.5 133.60,156.2 134.00,158.0 134.40,156.8 134.43,157.5 134.78,156.4 134.80,155.7 135.13,157.1 135.20,157.3 135.60,157.4 136.00,157.2 136.40,154.2 136.65,152.1 136.80,151.0 136.90,151.0 137.15,152.1 137.20,152.4 137.40,154.1 137.60,155.9 138.00,157.4 138.40,158.1 138.80,157.4 139.20,158.3 139.60,156.9 139.88,153.9 140.00,152.1 140.20,149.0 140.23,149.7 140.40,148.5 140.45,149.1 140.58,150.0 140.70,151.3 140.80,151.9 140.95,152.9 141.20,155.3 141.60,156.7 142.00,157.9 142.40,157.9 142.80,158.4 143.20,157.6 143.50,156.1 143.60,155.4 143.72,154.6 143.85,154.1 144.00,154.4 144.07,154.0 144.20,154.6 144.40,154.3 144.42,154.5 144.70,152.3 144.80,150.6 144.95,149.0 145.20,147.7 145.45,149.4 145.60,151.3 145.70,152.4 146.00,155.6 146.40,157.3 146.80,158.1 147.20,157.9 147.60,156.0 147.70,155.7 147.95,153.6 148.00,153.4 148.20,153.3 148.34,152.9 148.40,153.5 148.45,153.7 148.69,155.0 148.70,155.5 148.80,155.4 149.04,156.5 149.20,156.2 149.50,155.5 149.60,155.1 149.75,154.5 150.00,153.9 150.25,154.6 150.40,155.1 150.50,155.3 150.80,157.2 151.20,158.0 151.60,157.5 151.84,157.3 152.00,157.7 152.19,157.3 152.40,157.5 152.54,157.6 152.80,157.6 153.20,156.6 153.30,156.5 153.55,155.4 153.60,155.2 153.80,155.0 154.00,155.3 154.05,155.7 154.30,156.1 154.40,157.4 154.80,157.5 155.20,157.9 155.60,158.2 156.00,157.8 156.40,157.9 156.80,157.9 157.20,156.7 157.45,156.4 157.50,156.0 157.60,155.7 157.75,155.4 157.80,155.3 158.00,155.6 158.15,155.9 158.25,156.2 158.40,156.5 158.50,157.1 158.80,157.3 159.20,157.9 159.60,158.4 160.00,158.2 160.40,157.6 160.80,157.9 161.20,158.2 161.60,158.0 162.00,157.5 162.10,156.5 162.35,156.0 162.40,156.1 162.60,155.8 162.80,156.2 162.85,156.3 163.10,157.0 163.20,157.1 163.60,158.0 164.00,158.2 164.40,158.0 164.80,157.7 165.20,158.3 165.60,158.0 166.00,157.9 166.40,157.2 166.50,156.5 166.75,156.4 166.80,156.0 167.00,155.7 167.20,156.5 167.25,156.2 167.50,157.0 167.60,157.4 168.00,158.2 168.40,157.5 168.80,157.8 169.20,157.8 169.47,156.6 169.60,155.4 169.82,155.8 170.00,156.2 170.17,157.0 170.40,157.6 170.80,157.9 171.20,157.8 171.32,157.5 171.60,156.8 171.67,156.9 172.00,156.1 172.02,155.7 172.20,155.4 172.40,154.1 172.45,153.9 172.70,152.3 172.80,153.2 172.95,153.7 173.20,155.1 173.60,157.5 174.00,157.3 174.40,156.5 174.70,153.2 174.80,151.8 174.95,150.6 175.20,149.1 175.45,150.4 175.60,151.6 175.70,153.3 176.00,156.5 176.40,158.0 176.80,157.7 177.20,158.4 177.60,158.4 178.00,158.2 178.40,157.9 178.80,157.6 179.20,157.2 179.60,154.4 179.80,151.8 180.00,148.8 180.05,147.9 180.30,146.0 180.40,146.6 180.55,147.7 180.80,152.1 181.20,156.0 181.29,157.0 181.60,157.8 181.64,157.4 181.99,158.1 182.00,157.8 182.40,157.8 182.80,157.5 183.20,156.4 183.50,153.9 183.60,152.1 183.75,151.3 184.00,150.0 184.25,150.9 184.40,152.6 184.50,153.7 184.80,156.3 185.20,157.9 185.60,157.5 185.67,158.1 186.00,157.6 186.02,157.2 186.37,157.2 186.40,157.7 186.80,157.8 187.20,157.7 187.60,155.3 187.80,153.2 188.00,150.1 188.05,149.8 188.30,148.1 188.40,148.3 188.55,150.0 188.80,152.7 189.20,156.0 189.50,154.7 189.60,154.1 189.85,152.9 190.00,153.2 190.20,154.8 190.40,156.9 190.80,157.7 190.94,157.7 191.20,157.5 191.29,157.3 191.47,155.8 191.51,156.6 191.60,155.9 191.64,155.9 191.82,155.3 191.86,154.3 192.00,154.2 192.17,154.0 192.21,154.0 192.40,152.4 192.65,150.1 192.80,149.5 192.90,148.8 193.15,150.3 193.20,151.0 193.40,152.9 193.60,154.8 193.73,155.2 194.00,155.2 194.08,155.6 194.40,156.7 194.43,156.8 194.80,157.8 195.20,158.0 195.21,158.0 195.56,157.7 195.60,157.5 195.91,156.5 196.00,155.9 196.10,155.2 196.25,154.5 196.35,152.9 196.40,153.1 196.60,151.9 196.80,152.8 196.85,153.5 196.95,154.0 197.10,155.5 197.20,155.6 197.38,156.4 197.60,156.6 197.73,156.9 198.00,157.2 198.08,157.3 198.40,157.9 198.80,158.2 199.20,158.0 199.60,158.0 200.00,157.9 200.40,157.8 200.80,157.6 201.20,157.1 201.60,154.0 201.90,147.2 202.00,145.2 202.15,141.5 202.40,138.6 202.65,141.4 202.80,145.1 202.90,147.5 203.20,152.8 203.58,151.3 203.60,151.1 203.70,148.2 203.93,144.2 203.95,143.4 204.00,142.5 204.08,141.9 204.11,142.0 204.20,141.4 204.28,141.4 204.40,142.6 204.43,142.6 204.45,142.6 204.46,143.2 204.53,143.6 204.70,145.3 204.78,146.2 204.80,146.6 204.81,146.8 204.88,147.8 205.12,149.2 205.20,149.0 205.23,148.7 205.45,148.4 205.47,148.1 205.60,147.8 205.80,149.3 205.82,149.9 206.00,152.6 206.15,154.9 206.40,156.5 206.62,157.4 206.80,156.1 206.97,156.2 207.20,156.4 207.32,156.2 207.50,155.2 207.60,155.2 207.75,154.8 208.00,154.2 208.25,154.3 208.40,155.7 208.50,155.4 208.73,156.8 208.80,156.8 209.08,157.5 209.20,157.6 209.43,158.0 209.60,157.6 210.00,158.0 210.40,158.3 210.80,158.0 211.20,158.1 211.60,158.1 212.00,157.8 212.40,157.9 212.80,158.0 213.20,157.8 213.60,156.4 213.61,156.2 213.80,153.8 213.96,151.9 214.00,151.3 214.05,150.4 214.13,150.4 214.30,148.7 214.31,148.1 214.38,148.3 214.40,148.9 214.48,148.7 214.55,149.2 214.73,151.5 214.80,152.4 214.83,152.7 215.08,156.0 215.20,157.1 215.60,157.9 216.00,158.2 216.40,158.4 216.80,158.1 217.20,158.2 217.60,157.9 218.00,157.7 218.40,158.5 218.80,158.2 219.20,158.2 219.60,157.1 219.65,156.6 220.00,155.8 220.10,154.5 220.35,154.2 220.40,153.9 220.45,154.0 220.60,153.8 220.80,154.0 220.85,153.4 221.10,155.7 221.15,155.3 221.20,156.3 221.60,157.6 222.00,157.7 222.40,157.9 222.61,157.6 222.80,157.9 222.96,158.1 223.20,157.6 223.31,157.0 223.41,156.8 223.60,155.8 223.76,155.9 224.00,156.1 224.11,156.4 224.40,157.6 224.80,157.8 225.20,157.9 225.60,158.0 226.00,158.2 226.40,158.2 226.80,158.0 227.20,157.8 227.60,156.7 227.85,156.1 228.00,155.4 228.10,155.8 228.35,156.2 228.40,157.0 228.60,156.6 228.80,157.4 229.20,157.7 229.47,157.1 229.60,157.4 229.82,157.0 229.87,156.6 230.00,156.3 230.17,156.9 230.22,156.6 230.40,157.0 230.57,156.2 230.61,156.2 230.67,155.7 230.80,155.4 230.96,154.4 231.02,154.4 231.20,154.0 231.31,153.8 231.37,153.9 231.40,154.2 231.60,154.6 231.65,154.4 231.72,155.2 231.90,154.4 232.00,154.3 232.15,153.7 232.31,152.4 232.40,152.3 232.66,151.4 232.80,152.4 233.01,154.4 233.20,156.5 233.60,157.9 234.00,158.3 234.40,157.6 234.80,157.2 234.88,157.0 235.20,155.6 235.23,155.4 235.58,157.0 235.60,156.8 236.00,158.1 236.16,158.0 236.40,157.9 236.51,157.3 236.69,156.4 236.80,156.8 236.86,156.4 237.04,156.6 237.20,156.5 237.39,157.5 237.60,157.3 237.91,156.7 238.00,156.2 238.20,154.3 238.26,154.1 238.40,153.3 238.55,152.9 238.61,153.5 238.80,152.6 238.90,151.9 238.96,151.7 239.00,151.5 239.20,149.5 239.25,149.1 239.31,148.8 239.50,148.8 239.60,150.4 239.63,151.0 239.66,150.7 239.75,151.3 239.98,154.2 240.00,154.1 240.33,155.5 240.40,156.7 240.80,156.8 241.04,155.6 241.20,155.4 241.39,154.5 241.60,155.0 241.74,156.0 242.00,157.8 242.40,157.4 242.67,156.9 242.80,155.8 243.02,154.7 243.06,154.3 243.20,153.0 243.34,152.3 243.37,151.9 243.41,152.0 243.60,150.6 243.69,150.9 243.76,151.1 244.00,154.3 244.04,154.3 244.40,157.2 244.80,156.4 245.00,154.6 245.20,152.8 245.25,152.4 245.50,151.5 245.60,151.7 245.75,152.3 246.00,153.9 246.40,157.5 246.80,157.6 247.20,158.5 247.60,158.1 248.00,158.8 248.40,157.4 248.49,156.9 248.80,155.9 248.84,155.3 249.19,156.0 249.20,155.9 249.50,155.6 249.60,154.7 249.75,154.0 250.00,154.2 250.25,154.6 250.40,155.2 250.50,155.8 250.80,157.0 251.20,157.8 251.60,158.2 252.00,157.9 252.40,158.2 252.80,157.8 253.20,157.5 253.60,157.8 254.00,158.0 254.40,157.7 254.80,157.9 255.20,157.9 255.60,158.2 256.00,158.2 256.40,158.3 256.80,157.7 257.20,157.2 257.50,155.8 257.60,154.7 257.61,154.6 257.75,153.4 257.96,153.1 258.00,152.9 258.25,154.1 258.31,154.2 258.40,155.4 258.50,155.5 258.80,156.8 259.20,157.9 259.60,158.1 260.00,158.3 260.40,157.9 260.80,157.9 261.20,157.9 261.60,157.9 262.00,157.4 262.40,158.2 262.80,158.3 263.20,157.8 263.60,157.7 264.00,158.0 264.40,157.8 264.80,158.2 265.20,157.8 265.60,158.2 266.00,157.7 266.40,157.6 266.80,157.6 267.20,157.6 267.60,158.1 268.00,158.2 268.40,158.0 268.80,158.1 269.20,157.4 269.60,158.3 270.00,157.7 270.40,158.2 270.47,158.4 270.80,157.7 270.82,157.8 271.17,158.0 271.20,157.5 271.60,157.7 272.00,157.8 272.40,158.0 272.80,158.2 273.20,158.0 273.60,158.3 274.00,157.9 274.40,157.6 274.80,158.0 275.20,158.0 275.60,157.6 276.00,157.8 276.07,157.1 276.27,156.5 276.40,156.3 276.42,156.0 276.54,156.1 276.62,156.0 276.77,156.2 276.80,156.1 276.89,156.2 276.97,156.4 277.20,157.4 277.24,157.8 277.60,158.1 278.00,158.1 278.40,158.3 278.80,158.3 279.20,157.7 279.60,158.0 280.00,158.3 280.40,157.8 280.80,157.9 281.20,158.2 281.60,157.9 281.99,157.6 282.00,157.2 282.34,156.6 282.40,157.0 282.69,156.3 282.80,155.4 283.05,154.8 283.20,154.5 283.30,154.7 283.55,154.8 283.60,155.5 283.80,156.7 284.00,157.4 284.40,157.6 284.80,157.9 285.20,157.9 285.60,157.8 286.00,158.4 286.40,157.8 286.80,157.7 287.20,158.1 287.60,158.1 288.00,158.3 288.40,157.4 288.47,156.7 288.80,155.2 288.82,155.9 289.17,157.0 289.20,157.4 289.60,157.4 290.00,156.2 290.18,155.1 290.40,152.9 290.53,152.4 290.80,153.8 290.88,155.0 291.04,156.0 291.20,156.7 291.39,157.5 291.60,157.7 291.74,158.0 292.00,158.2 292.40,157.5 292.80,157.9 293.20,156.2 293.25,155.2 293.37,154.3 293.60,152.5 293.72,152.5 293.95,153.8 294.00,154.4 294.07,155.0 294.40,157.6 294.80,157.9 295.20,157.8 295.60,158.2 296.00,157.9 296.40,157.7 296.80,158.2 296.98,158.1 297.20,157.8 297.33,157.4 297.60,158.0 297.68,157.6 298.00,156.7 298.25,155.6 298.40,154.9 298.60,153.6 298.80,154.6 298.95,155.9 299.18,156.8 299.20,156.7 299.53,157.2 299.60,157.4 299.88,157.5 300.00,157.8 300.40,158.1 300.80,157.9 301.20,158.2 301.60,158.1 302.00,157.9 302.40,157.9 302.80,158.0 303.20,158.0 303.60,157.9 304.00,157.5 304.40,156.8 304.50,156.6 304.75,155.6 304.80,155.1 305.00,155.1 305.20,155.4 305.25,155.2 305.50,156.5 305.60,156.7 306.00,157.6 306.40,158.0 306.80,157.9 307.20,157.4 307.60,158.0 308.00,157.7 308.40,158.0 308.80,158.2 309.20,157.9 309.60,157.9 310.00,158.0 310.40,158.1 310.80,157.8 311.20,157.8 311.60,158.1 312.00,158.4 312.40,158.0 312.80,158.2 313.20,157.8 313.60,158.0 314.00,158.0 314.40,157.7 314.80,158.0 315.20,157.9 315.60,157.3 316.00,158.0 316.40,158.1 316.80,158.0 317.20,158.1 317.60,157.7 318.00,157.8 318.40,157.9 318.80,157.8 319.20,157.9 319.60,158.3 320.00,157.8 320.40,157.9 320.80,158.4 321.20,157.9 321.60,157.7 322.00,158.0 322.40,158.0 322.80,158.0 323.20,157.6 323.60,158.1 324.00,158.1 324.40,158.5 324.80,158.1 325.04,157.8 325.20,157.9 325.39,158.0 325.60,157.8 325.74,157.9 326.00,158.3 326.40,158.1 326.80,158.1 327.20,157.8 327.60,158.1 328.00,157.5 328.40,158.3 328.80,157.9 329.20,158.2 329.60,158.4 330.00,157.7 330.40,158.3 330.80,158.1 331.20,158.3 331.60,157.9 332.00,157.8 332.40,158.3 332.80,158.1 333.19,157.7 333.20,157.4 333.54,157.8 333.60,157.4 333.89,157.6 334.00,157.6 334.40,157.3 334.61,156.4 334.80,155.2 334.96,154.8 335.20,155.5 335.31,156.6 335.60,158.0 336.00,157.9 336.40,157.8 336.80,158.1 337.20,157.6 337.60,158.1 338.00,158.1 338.40,158.1 338.80,158.4 339.20,158.5 339.60,157.9 339.79,157.3 340.00,157.2 340.14,157.2 340.40,156.9 340.49,157.2 340.80,157.8 341.20,157.5 341.29,157.6 341.60,158.1 341.64,157.4 341.99,158.0 342.00,157.6 342.40,158.2 342.80,158.1 343.20,158.2 343.60,157.7 344.00,158.1 344.40,157.9 344.80,158.2 345.20,158.2 345.60,158.1 346.00,158.0 346.35,158.0 346.40,158.1 346.70,157.9 346.80,157.9 347.20,157.9 347.60,157.8 348.00,158.3 348.40,157.5 348.80,157.0 349.00,155.7 349.20,153.9 349.25,153.6 349.50,153.4 349.60,153.3 349.75,154.1 350.00,155.8 350.40,157.5 350.80,157.9 351.06,157.9 351.20,158.3 351.41,157.9 351.60,158.4 351.76,158.5 352.00,157.9 352.40,158.1 352.80,158.4 353.20,157.8 353.60,158.1 354.00,158.3 354.40,157.7 354.80,156.0 355.00,150.1 355.20,138.5 355.25,135.8 355.50,126.0 355.60,128.3 355.75,135.6 356.00,149.9 356.40,157.7 356.80,157.8 357.20,158.2 357.60,158.2 358.00,157.4 358.40,149.9 358.65,135.5 358.80,127.8 358.90,125.8 359.15,135.7 359.20,138.9 359.40,149.7 359.60,156.3 360.00,157.5 360.40,158.0 360.80,157.9 361.20,157.8 361.60,157.8 362.00,157.3 362.40,157.3 362.80,157.6 363.20,157.1 363.60,157.1 364.00,156.8 364.40,156.0 364.80,156.7 365.20,156.3 365.60,156.0 366.00,155.6 366.40,155.4 366.80,155.1 367.20,155.1 367.60,155.0 368.00,154.8 368.40,154.6 368.80,154.0 369.20,153.9 369.50,152.5 369.60,151.8 369.75,149.8 370.00,147.9 370.25,149.7 370.40,151.2 370.50,152.2 370.80,153.7 371.20,153.4 371.60,152.8 371.80,152.1 372.00,150.3 372.05,149.7 372.30,147.7 372.40,148.5 372.55,149.4 372.80,151.6 373.20,152.6 373.60,152.6 374.00,152.5 374.40,152.6 374.80,152.1 375.20,151.9 375.60,151.9 376.00,151.6 376.40,151.7 376.80,151.4 377.20,151.4 377.60,150.9 378.00,151.2 378.40,150.9 378.80,150.5 379.20,150.4 379.60,150.4 380.00,149.9 380.40,149.9 380.80,150.1 381.20,150.0 381.60,150.1 382.00,149.4 382.40,149.5 382.80,148.9 383.20,149.8 383.60,148.9 384.00,149.1 384.40,149.5 384.80,149.3 385.20,148.6 385.60,149.3 386.00,148.7 386.40,148.3 386.80,148.5 387.20,148.5 387.60,148.5 388.00,147.7 388.40,148.6 388.80,147.7 389.20,146.8 389.30,146.2 389.55,141.8 389.60,140.8 389.80,138.9 390.00,140.9 390.50,159.8"/>
<polyline fill="none" stroke="#00b050" stroke-width="1.2" stroke-linejoin="round" points="30.00,186.5 30.40,184.1 30.80,172.1 30.90,166.7 31.15,154.9 31.20,154.0 31.40,149.6 31.60,153.1 31.65,155.1 31.90,167.0 32.00,171.8 32.40,183.3 32.80,181.9 33.20,169.5 33.45,159.2 33.60,155.8 33.70,154.5 33.95,158.8 34.00,160.7 34.20,169.7 34.40,177.0 34.80,184.2 35.20,183.1 35.50,177.7 35.60,175.8 35.75,172.1 36.00,170.2 36.25,172.6 36.40,175.3 36.50,177.7 36.80,183.5 37.20,183.7 37.60,172.1 37.70,167.4 37.95,156.1 38.00,154.1 38.20,150.7 38.40,153.9 38.45,155.9 38.70,167.3 38.80,172.7 39.20,183.7 39.60,186.8 40.00,187.1 40.40,186.5 40.80,184.6 41.20,174.2 41.30,171.0 41.55,161.8 41.60,159.6 41.80,157.1 42.00,160.4 42.05,161.5 42.30,170.7 42.40,174.6 42.80,184.2 43.20,186.7 43.60,186.9 44.00,186.7 44.40,185.5 44.80,178.8 45.10,166.1 45.20,160.7 45.35,153.6 45.60,147.9 45.85,153.1 46.00,160.4 46.10,166.0 46.40,178.8 46.80,185.4 47.20,185.3 47.60,179.2 47.90,166.8 48.00,161.8 48.15,155.0 48.40,149.9 48.65,155.2 48.80,162.2 48.90,167.1 49.20,179.6 49.60,186.1 50.00,186.7 50.40,185.7 50.80,182.1 51.05,178.9 51.20,178.1 51.30,178.0 51.55,178.9 51.60,179.1 51.80,182.3 52.00,184.3 52.40,186.8 52.80,186.8 53.20,187.1 53.60,183.9 54.00,174.5 54.10,171.3 54.35,164.3 54.40,163.2 54.60,161.1 54.80,162.9 54.85,164.6 55.10,171.5 55.20,174.6 55.60,183.8 56.00,186.2 56.40,187.0 56.80,183.8 56.82,183.6 57.10,179.8 57.17,178.7 57.20,178.9 57.35,177.7 57.52,177.9 57.60,178.3 57.85,180.7 58.00,182.4 58.10,183.2 58.40,185.4 58.80,187.3 59.20,185.8 59.30,185.8 59.60,184.1 59.65,183.9 60.00,185.1 60.40,184.9 60.80,178.3 61.05,172.6 61.20,170.9 61.30,170.7 61.55,172.6 61.60,173.3 61.80,177.8 62.00,181.9 62.40,186.2 62.80,186.6 63.12,185.0 63.20,184.8 63.40,182.1 63.47,181.6 63.60,181.2 63.62,180.8 63.65,180.4 63.82,179.5 63.90,179.7 63.97,179.5 64.00,179.5 64.15,179.9 64.32,181.5 64.36,181.7 64.40,182.0 64.71,184.0 64.80,184.7 65.06,186.0 65.20,186.7 65.34,186.4 65.60,186.4 65.69,186.7 65.83,185.8 66.00,185.6 66.04,185.5 66.18,185.5 66.40,185.7 66.53,185.6 66.80,186.0 67.10,184.9 67.20,184.0 67.35,183.5 67.60,182.7 67.85,183.2 68.00,184.5 68.10,185.0 68.40,186.2 68.80,186.9 69.20,187.2 69.60,187.2 70.00,187.2 70.40,187.2 70.80,186.6 71.20,183.8 71.40,180.9 71.60,177.7 71.65,176.8 71.90,175.0 72.00,175.6 72.15,176.9 72.40,180.8 72.80,185.0 73.20,186.4 73.60,187.4 74.00,187.2 74.40,186.4 74.70,184.1 74.80,183.1 74.95,181.9 75.20,180.6 75.45,182.1 75.60,182.9 75.70,184.0 76.00,186.0 76.40,187.1 76.80,186.8 77.20,184.3 77.45,182.7 77.60,181.9 77.70,181.9 77.95,183.2 78.00,183.0 78.20,184.7 78.40,185.9 78.80,187.2 79.20,187.5 79.60,187.0 80.00,187.4 80.40,187.7 80.80,187.0 81.20,186.6 81.50,185.3 81.60,185.2 81.75,184.2 82.00,184.4 82.25,184.4 82.40,184.7 82.50,186.0 82.80,186.9 83.20,187.3 83.60,187.4 84.00,187.2 84.40,187.2 84.80,187.4 85.20,186.8 85.50,185.1 85.60,184.0 85.72,182.6 85.75,182.4 86.00,181.1 86.07,181.1 86.25,181.6 86.40,183.1 86.42,183.7 86.50,184.4 86.80,186.6 87.20,186.9 87.60,187.2 88.00,187.2 88.40,187.3 88.80,186.8 89.16,187.0 89.20,186.6 89.51,185.0 89.60,184.0 89.80,182.4 89.86,182.2 90.00,180.1 90.05,180.1 90.18,179.4 90.30,178.8 90.40,179.4 90.53,179.9 90.55,180.5 90.80,182.9 90.88,183.7 91.20,186.7 91.60,187.4 92.00,187.6 92.40,187.0 92.80,187.1 93.20,187.5 93.60,187.5 94.00,187.0 94.40,186.1 94.50,185.3 94.75,184.5 94.80,184.0 95.00,183.9 95.20,183.6 95.25,183.5 95.47,183.2 95.50,183.6 95.60,182.6 95.82,182.6 96.00,184.0 96.17,185.0 96.40,187.0 96.80,187.3 97.20,187.2 97.52,187.0 97.60,187.3 97.87,186.8 98.00,186.8 98.22,187.0 98.40,186.7 98.80,187.1 99.20,187.5 99.60,186.3 99.90,184.3 100.00,183.6 100.15,182.2 100.40,181.6 100.65,182.1 100.80,183.5 100.90,184.0 101.20,186.1 101.60,187.2 102.00,187.2 102.40,187.5 102.80,187.4 103.20,187.4 103.60,187.6 104.00,186.9 104.40,186.9 104.80,187.4 105.20,186.9 105.50,186.0 105.60,185.3 105.75,184.7 106.00,183.8 106.25,184.7 106.40,185.2 106.50,185.3 106.80,186.4 107.20,187.2 107.60,187.4 108.00,186.6 108.40,187.3 108.80,187.3 109.20,186.6 109.50,185.6 109.60,185.2 109.75,184.2 110.00,184.1 110.25,184.4 110.40,184.8 110.50,185.6 110.80,187.0 111.20,186.5 111.47,185.7 111.60,185.1 111.82,185.6 112.00,185.3 112.17,186.0 112.40,186.6 112.76,186.4 112.80,186.0 113.11,186.2 113.20,186.2 113.46,186.2 113.60,186.7 114.00,187.1 114.40,186.9 114.80,185.2 115.00,183.5 115.06,182.9 115.20,181.4 115.25,181.1 115.41,179.5 115.50,179.5 115.60,180.2 115.75,181.0 115.76,181.0 116.00,182.9 116.40,185.9 116.80,187.2 117.20,186.1 117.50,183.8 117.60,183.0 117.75,181.5 118.00,181.1 118.25,182.1 118.40,183.4 118.50,183.8 118.80,185.4 118.85,185.3 119.09,185.7 119.20,185.7 119.44,185.1 119.55,185.6 119.60,185.7 119.79,186.3 120.00,186.3 120.40,187.2 120.80,187.5 121.20,186.9 121.60,187.1 122.00,186.5 122.40,187.6 122.80,187.3 123.20,186.6 123.50,185.5 123.60,184.9 123.75,184.5 124.00,183.9 124.25,184.4 124.40,185.1 124.50,185.6 124.80,187.0 125.20,186.8 125.60,187.4 126.00,187.1 126.40,187.0 126.80,186.6 127.15,187.0 127.20,186.5 127.50,186.2 127.60,186.6 127.85,186.5 128.00,187.0 128.40,186.5 128.63,185.6 128.80,184.5 128.98,182.8 129.05,182.8 129.20,182.0 129.30,181.9 129.33,181.9 129.55,182.9 129.60,182.7 129.80,184.5 130.00,185.9 130.34,186.4 130.40,187.0 130.69,186.3 130.80,186.6 131.04,186.7 131.20,186.9 131.60,187.0 132.00,186.9 132.40,185.6 132.60,184.0 132.80,182.9 132.85,182.7 133.10,181.1 133.20,181.8 133.35,182.4 133.60,184.2 134.00,187.1 134.40,187.5 134.80,187.4 135.20,187.3 135.60,186.6 136.00,186.0 136.10,184.8 136.40,181.6 136.45,180.9 136.65,178.8 136.80,178.1 136.90,177.7 137.15,179.3 137.20,179.5 137.40,182.2 137.60,184.6 138.00,186.4 138.40,187.2 138.80,184.5 138.90,183.6 139.15,182.3 139.20,182.1 139.40,180.8 139.60,181.4 139.65,182.7 139.90,183.9 140.00,184.2 140.40,186.6 140.80,187.8 141.20,187.5 141.60,187.5 142.00,187.6 142.40,187.5 142.80,187.2 143.20,186.7 143.60,185.6 144.00,179.8 144.25,175.8 144.40,174.7 144.50,174.0 144.75,175.8 144.80,176.6 145.00,180.3 145.20,183.5 145.60,186.2 146.00,186.5 146.40,183.8 146.50,182.3 146.75,178.9 146.80,178.4 147.00,177.2 147.20,178.4 147.25,179.5 147.50,182.1 147.60,183.1 148.00,186.3 148.40,187.2 148.80,187.1 149.20,186.1 149.50,184.2 149.60,183.7 149.75,182.7 149.94,180.8 150.00,180.5 150.25,181.1 150.29,180.6 150.40,181.7 150.50,182.7 150.64,184.3 150.80,185.6 151.20,186.9 151.60,187.4 152.00,187.0 152.40,186.8 152.80,186.4 153.20,185.1 153.30,183.6 153.42,183.0 153.55,181.8 153.60,181.4 153.77,180.4 153.80,180.3 154.00,181.3 154.05,181.6 154.12,182.1 154.30,184.4 154.40,184.8 154.47,185.9 154.80,187.0 155.20,187.1 155.60,187.4 156.00,187.6 156.40,186.9 156.80,187.0 157.20,186.3 157.50,185.4 157.60,184.9 157.75,183.9 157.82,183.3 158.00,182.7 158.17,183.2 158.25,183.4 158.40,184.0 158.50,184.4 158.52,185.0 158.80,186.5 159.20,187.3 159.60,187.7 160.00,187.5 160.40,187.1 160.80,187.1 161.20,187.6 161.60,187.4 162.00,187.5 162.40,187.3 162.80,187.1 163.20,187.4 163.60,187.7 164.00,187.3 164.40,186.1 164.70,184.9 164.80,184.3 164.95,183.7 165.20,183.3 165.45,184.1 165.60,184.5 165.70,184.9 166.00,186.5 166.40,187.2 166.80,187.2 167.20,187.3 167.60,187.3 168.00,187.0 168.40,187.5 168.80,187.1 169.20,186.4 169.50,185.7 169.60,185.0 169.75,184.9 170.00,184.1 170.25,184.5 170.40,184.9 170.50,185.4 170.80,186.9 171.20,187.0 171.60,187.2 171.77,186.1 172.00,185.9 172.12,185.6 172.19,185.3 172.40,184.8 172.47,185.0 172.54,184.6 172.80,185.2 172.89,185.6 173.20,184.5 173.50,179.8 173.60,177.8 173.75,175.3 174.00,173.3 174.25,174.9 174.40,177.1 174.50,179.5 174.80,184.0 175.20,186.8 175.60,187.0 176.00,187.1 176.40,187.3 176.80,186.5 177.20,183.8 177.38,182.4 177.45,181.2 177.60,180.2 177.70,180.3 177.73,179.7 177.95,180.8 178.00,182.0 178.08,182.5 178.20,183.8 178.40,185.6 178.80,187.2 179.20,186.8 179.60,185.1 179.80,183.1 180.00,181.5 180.05,181.1 180.30,179.9 180.40,180.4 180.55,181.8 180.80,182.9 181.07,184.9 181.20,185.0 181.37,184.7 181.42,184.1 181.60,184.4 181.72,184.4 181.77,184.3 182.00,185.4 182.07,185.8 182.40,186.4 182.44,186.3 182.79,186.0 182.80,185.3 183.14,186.4 183.20,186.4 183.60,187.4 184.00,187.2 184.40,185.7 184.70,182.2 184.80,180.7 185.02,177.2 185.05,177.0 185.20,175.1 185.30,174.2 185.37,174.5 185.40,174.8 185.55,176.3 185.60,177.1 185.72,179.4 185.80,180.7 186.00,183.6 186.40,186.3 186.80,187.2 187.20,186.9 187.60,187.3 188.00,187.4 188.40,187.0 188.80,187.2 189.20,186.6 189.60,184.4 189.80,181.3 190.00,177.8 190.05,177.7 190.30,176.1 190.40,176.2 190.55,177.5 190.80,181.3 191.20,185.9 191.60,187.2 192.00,187.0 192.40,187.2 192.80,186.8 193.20,185.7 193.60,182.2 193.85,179.2 194.00,178.3 194.10,178.8 194.35,179.6 194.40,179.8 194.60,181.8 194.80,184.4 195.20,186.5 195.60,186.7 195.96,187.4 196.00,187.1 196.31,187.2 196.40,187.9 196.66,187.1 196.80,187.0 197.20,185.8 197.40,184.3 197.60,182.8 197.65,182.7 197.90,182.3 198.00,182.0 198.15,182.4 198.40,184.1 198.80,186.3 199.20,186.8 199.53,184.9 199.60,184.2 199.71,183.2 199.88,181.5 200.00,181.6 200.06,181.6 200.23,183.0 200.40,183.9 200.41,184.8 200.80,183.3 201.20,173.7 201.45,166.3 201.60,163.1 201.70,163.0 201.95,166.0 202.00,167.1 202.20,173.3 202.40,177.8 202.80,176.8 202.90,174.4 203.15,167.3 203.20,165.9 203.40,163.9 203.60,166.4 203.65,167.0 203.90,174.4 204.00,177.8 204.21,182.6 204.40,184.9 204.56,185.9 204.80,186.3 204.91,187.3 205.20,187.2 205.60,186.9 206.00,187.0 206.40,187.1 206.80,187.6 207.20,186.4 207.50,184.1 207.60,184.2 207.75,183.1 208.00,181.7 208.25,182.0 208.32,183.3 208.40,183.4 208.50,184.2 208.67,185.2 208.80,186.3 209.02,186.9 209.13,186.8 209.20,186.6 209.40,186.5 209.48,186.6 209.60,186.0 209.75,186.8 209.83,186.5 210.00,186.9 210.10,187.0 210.40,187.5 210.80,187.6 211.20,187.8 211.29,187.2 211.60,187.0 211.64,187.2 211.99,186.6 212.00,187.0 212.40,184.5 212.50,183.9 212.75,182.1 212.80,181.9 213.00,181.1 213.20,182.0 213.25,182.2 213.50,183.5 213.60,184.8 214.00,186.8 214.40,187.2 214.80,187.1 215.20,187.3 215.60,187.1 215.65,187.0 216.00,186.9 216.35,187.1 216.40,186.8 216.80,187.0 217.20,186.6 217.50,184.8 217.60,184.5 217.75,183.7 218.00,183.3 218.25,183.8 218.40,184.8 218.50,184.9 218.80,186.5 219.20,185.7 219.32,185.2 219.60,183.4 219.67,182.9 219.95,182.6 220.00,183.6 220.02,183.5 220.30,184.2 220.40,184.4 220.65,185.8 220.80,186.7 221.20,187.3 221.60,187.6 222.00,187.1 222.40,185.7 222.50,185.7 222.75,184.2 222.80,184.2 223.00,182.9 223.20,182.6 223.24,182.7 223.25,182.3 223.50,182.2 223.59,182.6 223.60,182.5 223.94,185.4 224.00,185.3 224.40,185.7 224.53,184.9 224.58,184.0 224.77,182.5 224.80,182.9 224.88,182.3 224.93,182.7 225.12,183.0 225.20,183.5 225.23,184.1 225.28,184.3 225.47,186.1 225.60,186.0 225.70,186.6 226.00,186.8 226.05,186.7 226.40,187.2 226.80,187.5 227.20,186.9 227.60,185.4 227.85,184.7 228.00,184.1 228.10,184.3 228.35,184.8 228.40,184.7 228.60,185.3 228.80,186.2 229.20,186.4 229.38,185.2 229.60,184.2 229.73,183.6 230.00,184.5 230.08,184.7 230.14,185.1 230.40,186.1 230.49,185.9 230.80,186.5 230.84,186.5 231.20,187.4 231.60,186.9 232.00,186.8 232.33,185.6 232.40,185.1 232.68,182.4 232.70,182.6 232.80,181.3 232.95,181.5 233.03,181.3 233.20,181.1 233.45,182.2 233.60,183.4 233.70,184.2 233.95,185.0 234.00,185.0 234.30,185.3 234.40,185.5 234.65,185.9 234.80,186.6 235.20,187.1 235.60,187.6 236.00,187.2 236.40,187.6 236.80,187.3 237.20,187.0 237.60,182.4 237.63,182.0 237.70,180.8 237.95,177.3 237.98,177.6 238.00,176.7 238.20,176.2 238.33,177.2 238.40,178.2 238.45,178.3 238.70,181.7 238.80,182.6 239.15,184.4 239.20,184.6 239.50,185.9 239.60,186.5 240.00,187.1 240.40,187.6 240.80,187.7 241.20,187.2 241.60,186.6 242.00,184.0 242.25,182.6 242.40,182.2 242.50,182.1 242.75,182.8 242.80,183.3 243.00,184.5 243.20,185.6 243.60,187.1 243.85,185.6 243.87,185.7 244.00,185.3 244.20,184.9 244.22,184.8 244.40,185.1 244.52,185.2 244.55,185.4 244.57,185.6 244.80,185.3 244.87,185.0 245.00,184.1 245.20,182.7 245.22,182.8 245.25,183.0 245.50,182.1 245.60,182.4 245.75,183.0 246.00,184.7 246.40,186.4 246.80,187.5 247.20,187.5 247.60,187.8 248.00,187.4 248.40,187.4 248.80,187.3 249.20,187.3 249.60,186.9 249.80,187.2 250.00,187.3 250.15,187.5 250.40,187.1 250.50,187.3 250.69,187.5 250.80,186.8 251.04,186.5 251.20,185.7 251.39,185.6 251.60,186.0 251.74,186.4 252.00,185.6 252.20,183.7 252.40,182.3 252.55,181.3 252.80,183.0 252.85,183.6 252.90,184.1 253.20,186.3 253.55,187.2 253.60,186.8 254.00,187.3 254.40,187.2 254.80,187.3 255.20,187.8 255.60,187.5 256.00,187.3 256.40,186.9 256.80,186.6 256.92,186.2 257.20,184.4 257.27,184.5 257.60,183.7 257.62,183.7 257.97,182.4 257.99,182.1 258.00,182.3 258.32,183.0 258.34,183.9 258.40,184.2 258.69,185.9 258.80,186.4 259.08,186.3 259.20,186.1 259.43,185.8 259.60,185.9 259.78,186.4 260.00,186.7 260.40,187.0 260.80,186.4 260.96,185.6 261.13,183.9 261.20,183.8 261.31,182.4 261.48,181.9 261.60,182.5 261.66,183.2 261.83,185.0 262.00,186.2 262.40,187.1 262.80,187.3 263.20,187.6 263.60,187.4 264.00,187.5 264.40,187.3 264.80,187.7 265.20,187.7 265.60,187.6 266.00,187.3 266.40,186.9 266.80,187.0 267.20,187.4 267.60,187.5 268.00,186.6 268.40,187.2 268.80,187.6 269.20,187.5 269.60,187.2 270.00,187.4 270.40,186.4 270.41,186.3 270.76,185.8 270.80,185.8 271.11,186.2 271.20,186.4 271.60,186.9 272.00,187.0 272.40,187.6 272.80,187.8 273.20,187.4 273.60,187.6 274.00,187.1 274.40,186.7 274.63,185.8 274.80,184.8 274.98,184.2 275.20,184.4 275.33,185.2 275.60,186.7 275.93,186.8 276.00,186.9 276.28,186.6 276.40,186.7 276.63,187.0 276.80,187.3 277.20,187.2 277.49,186.6 277.60,186.4 277.84,186.4 278.00,186.3 278.19,186.5 278.40,186.8 278.80,187.4 279.20,187.4 279.60,187.6 280.00,187.2 280.40,187.5 280.80,185.4 280.84,185.2 281.19,183.3 281.20,183.6 281.54,185.3 281.60,185.4 281.98,185.7 282.00,185.3 282.33,184.5 282.40,184.2 282.68,183.8 282.80,183.3 283.05,181.9 283.20,181.5 283.30,181.6 283.55,182.6 283.60,182.7 283.80,184.3 284.00,185.5 284.40,187.0 284.80,187.0 285.20,187.5 285.60,187.4 286.00,187.7 286.40,187.2 286.80,187.3 287.20,186.9 287.50,186.5 287.60,186.2 287.85,185.9 288.00,185.8 288.20,186.3 288.40,185.8 288.51,185.7 288.80,184.4 288.86,184.3 289.20,184.9 289.21,185.0 289.56,185.0 289.60,185.1 289.91,186.4 290.00,186.6 290.40,186.8 290.80,186.9 291.20,187.1 291.49,187.3 291.60,187.3 291.84,187.5 292.00,187.5 292.19,187.8 292.40,186.9 292.80,187.3 292.96,187.5 293.20,186.9 293.31,186.9 293.60,187.3 293.66,187.5 294.00,187.6 294.40,186.7 294.75,185.8 294.80,185.9 295.10,185.0 295.20,185.3 295.45,186.2 295.60,187.1 296.00,187.3 296.40,187.4 296.80,187.3 297.20,187.6 297.41,187.0 297.60,187.4 297.76,187.1 298.00,186.9 298.11,187.6 298.40,187.4 298.80,187.6 299.20,187.4 299.60,187.5 300.00,187.3 300.40,187.4 300.80,187.2 301.20,187.7 301.60,187.1 302.00,187.7 302.40,187.3 302.80,187.5 303.20,187.3 303.60,187.4 304.00,187.0 304.40,184.2 304.50,183.0 304.75,180.9 304.80,180.6 305.00,179.1 305.20,180.7 305.25,181.1 305.50,182.8 305.60,184.2 306.00,186.9 306.40,187.0 306.80,187.2 307.20,187.2 307.60,187.5 308.00,187.6 308.40,187.3 308.80,187.3 309.20,187.5 309.60,187.4 309.78,187.3 310.00,187.6 310.13,186.9 310.40,187.3 310.48,187.2 310.80,187.2 311.20,187.4 311.60,187.3 312.00,187.9 312.40,187.4 312.80,187.0 313.15,187.1 313.20,186.9 313.50,186.5 313.60,187.1 314.00,187.5 314.40,187.2 314.80,187.4 315.20,187.2 315.60,187.4 316.00,186.9 316.40,186.8 316.80,187.2 317.20,187.4 317.60,187.6 318.00,187.2 318.40,187.1 318.80,187.5 319.20,187.3 319.60,187.8 320.00,187.3 320.40,186.8 320.80,187.1 321.20,187.1 321.60,187.0 322.00,187.1 322.40,187.1 322.80,187.2 323.20,187.2 323.60,187.4 324.00,187.4 324.40,187.4 324.80,187.4 325.20,186.8 325.60,186.2 325.71,186.0 326.00,185.5 326.06,185.0 326.40,186.1 326.41,186.3 326.80,187.7 327.20,187.4 327.60,187.2 328.00,187.6 328.40,187.3 328.80,186.8 328.94,186.8 329.20,185.4 329.29,185.4 329.49,184.6 329.60,184.5 329.64,183.9 329.84,183.7 330.00,184.4 330.19,185.6 330.40,186.7 330.80,187.1 331.20,186.7 331.50,185.7 331.60,185.1 331.75,184.1 332.00,183.7 332.25,182.1 332.26,182.4 332.40,182.4 332.50,181.9 332.61,182.7 332.80,184.1 332.96,185.4 333.20,186.7 333.60,187.5 334.00,187.2 334.40,187.4 334.80,187.4 335.20,187.1 335.29,187.0 335.60,186.6 335.64,186.2 335.99,187.1 336.00,187.1 336.40,187.8 336.80,187.5 337.20,187.3 337.60,187.5 338.00,187.5 338.40,187.3 338.80,187.2 339.20,186.9 339.60,187.3 340.00,187.7 340.40,186.8 340.80,187.1 341.20,187.5 341.60,187.3 342.00,187.4 342.40,186.8 342.80,187.2 343.20,187.4 343.60,187.4 344.00,187.4 344.40,187.1 344.80,187.4 345.20,187.0 345.60,187.1 346.00,187.0 346.40,187.7 346.80,187.2 347.20,187.3 347.60,186.7 348.00,187.5 348.40,187.1 348.80,185.3 349.00,184.0 349.20,183.5 349.25,182.5 349.50,182.5 349.60,182.0 349.75,182.1 350.00,184.7 350.40,186.7 350.80,187.4 351.20,187.2 351.60,187.2 352.00,187.5 352.40,187.1 352.80,186.8 353.20,187.5 353.60,187.1 354.00,187.6 354.40,187.1 354.80,185.1 355.00,179.3 355.20,167.4 355.25,165.1 355.50,155.3 355.60,157.2 355.75,165.2 356.00,179.4 356.40,187.2 356.80,187.4 357.20,187.5 357.60,187.4 358.00,187.2 358.40,179.3 358.65,164.9 358.80,157.0 358.90,155.8 359.15,164.3 359.20,168.1 359.40,179.5 359.60,185.3 360.00,187.3 360.40,187.6 360.80,187.8 361.20,187.1 361.60,186.6 362.00,186.6 362.40,186.5 362.80,186.5 363.20,186.4 363.60,186.5 364.00,186.0 364.40,185.9 364.80,185.8 365.20,185.4 365.60,185.4 366.00,186.0 366.40,185.1 366.80,184.8 367.20,184.3 367.60,185.0 368.00,184.5 368.40,184.3 368.80,184.9 369.20,184.3 369.50,182.1 369.60,181.4 369.75,179.8 370.00,177.9 370.25,179.1 370.40,181.6 370.50,182.6 370.80,183.1 371.20,183.0 371.60,182.9 372.00,183.3 372.40,183.3 372.80,182.9 373.20,182.6 373.60,182.6 374.00,182.6 374.40,182.1 374.80,181.5 375.00,181.1 375.20,180.0 375.25,179.3 375.50,178.0 375.60,178.0 375.75,179.3 376.00,180.4 376.40,181.7 376.80,181.5 377.20,181.5 377.60,181.1 378.00,181.5 378.40,181.1 378.80,180.9 379.20,181.1 379.60,180.8 380.00,180.6 380.40,180.5 380.80,180.7 381.20,180.2 381.60,180.2 382.00,180.1 382.40,180.2 382.80,180.0 383.20,180.4 383.60,179.4 384.00,179.9 384.40,179.6 384.80,179.8 385.20,179.1 385.60,179.7 386.00,179.0 386.40,179.4 386.80,179.3 387.20,179.1 387.60,178.9 388.00,178.8 388.40,179.0 388.80,178.7 389.20,176.9 389.30,175.7 389.55,171.4 389.60,170.4 389.80,168.1 390.00,170.1 390.50,189.5"/>
</g>
<g stroke="#222" stroke-width="1.5" fill="none">
<line x1="10.3" y1="189.8" x2="391.7" y2="189.8"/>
<line x1="11.00" y1="189.8" x2="11.00" y2="192.7"/>
<line x1="49.00" y1="189.8" x2="49.00" y2="192.7"/>
<line x1="87.00" y1="189.8" x2="87.00" y2="192.7"/>
<line x1="125.00" y1="189.8" x2="125.00" y2="192.7"/>
<line x1="163.00" y1="189.8" x2="163.00" y2="192.7"/>
<line x1="201.00" y1="189.8" x2="201.00" y2="192.7"/>
<line x1="239.00" y1="189.8" x2="239.00" y2="192.7"/>
<line x1="277.00" y1="189.8" x2="277.00" y2="192.7"/>
<line x1="315.00" y1="189.8" x2="315.00" y2="192.7"/>
<line x1="353.00" y1="189.8" x2="353.00" y2="192.7"/>
<line x1="391.00" y1="189.8" x2="391.00" y2="192.7"/>
</g>
<g font-size="10" fill="#000" text-anchor="middle" class="n">
<text x="11.00" y="206.1">0</text>
<text x="49.00" y="206.1">5</text>
<text x="87.00" y="206.1">10</text>
<text x="125.00" y="206.1">15</text>
<text x="163.00" y="206.1">20</text>
<text x="201.00" y="206.1">25</text>
<text x="239.00" y="206.1">30</text>
<text x="277.00" y="206.1">35</text>
<text x="315.00" y="206.1">40</text>
<text x="353.00" y="206.1">45</text>
<text x="391.00" y="206.1">50</text>
</g>
<text x="152.4" y="219" class="t" font-size="10" font-weight="bold" textLength="96.2" lengthAdjust="spacingAndGlyphs">Retention Time (min)</text>
<text transform="translate(8.6,140.9) rotate(-90)" class="t" font-size="10" font-weight="bold" textLength="92.9" lengthAdjust="spacingAndGlyphs">Base Peak Intensity</text>
<g font-size="10.5" text-anchor="middle" font-weight="bold">
<text x="324" y="64.8" fill="#cc0a0a">1</text>
<text x="324.5" y="94.3" fill="#5e3f91">2</text>
<text x="324.5" y="122.6" fill="#000">3</text>
<text x="324.5" y="149.8" fill="#17408a">4</text>
<text x="324.5" y="179.8" fill="#00b050">5</text>
</g>
<g id="bot">
<polyline fill="none" stroke="#cc0a0a" stroke-width="1.6" stroke-linejoin="round" points="53.60,392.5 53.60,392.6 54.05,392.3 54.50,392.0 54.50,393.9 54.95,393.7 54.95,391.8 55.40,391.6 55.85,391.3 55.85,392.2 56.30,391.9 56.30,392.5 56.75,392.3 57.20,392.0 57.20,393.6 57.65,393.3 58.00,393.1 58.00,392.2 58.10,392.1 58.55,391.9 58.55,389.7 59.00,389.4 59.45,389.2 59.45,390.8 59.90,390.5 60.35,390.3 60.35,388.9 60.80,388.7 61.25,388.5 61.25,386.7 61.70,386.4 62.15,386.2 62.15,388.1 62.60,387.9 62.60,387.9 63.05,387.8 63.05,383.9 63.50,383.7 63.95,383.6 63.95,385.2 64.40,385.1 64.85,384.9 64.85,383.3 65.30,383.2 65.30,387.5 65.75,387.4 66.20,387.3 66.20,385.3 66.65,385.1 67.10,385.0 67.10,387.3 67.55,387.2 67.55,387.5 68.00,387.4 68.00,387.4 68.45,387.3 68.45,385.9 68.90,385.8 69.35,385.6 69.35,386.3 69.80,386.2 70.25,386.1 70.25,387.8 70.70,387.7 71.15,387.5 71.15,384.5 71.60,384.4 72.05,384.3 72.05,381.3 72.50,381.1 72.50,384.7 72.95,384.6 73.40,384.5 73.40,387.3 73.85,387.1 74.30,387.0 74.30,386.3 74.75,386.2 74.75,386.7 75.20,386.5 75.20,386.5 75.65,386.6 75.65,386.1 76.10,386.2 76.55,386.3 76.55,381.3 77.00,381.4 77.00,383.0 77.45,383.1 77.90,383.2 77.90,383.2 78.35,383.3 78.35,385.0 78.80,385.1 78.80,386.1 79.25,386.2 79.70,386.3 79.70,386.4 80.00,386.4 80.15,386.5 80.60,386.8 80.60,388.2 81.05,388.5 81.05,386.1 81.50,386.4 81.95,386.7 81.95,389.2 82.40,389.5 82.85,389.8 82.85,384.2 83.00,384.3 83.30,383.9 83.75,383.4 83.75,386.4 84.20,385.9 84.65,385.3 84.65,383.0 85.10,382.5 85.55,382.0 85.55,380.8 86.00,380.3 86.45,379.8 86.45,384.7 86.50,384.6 86.90,384.8 87.35,385.0 87.35,383.2 87.80,383.4 87.80,384.0 88.25,384.1 88.70,384.3 88.70,387.5 89.15,387.6 89.60,387.8 89.60,384.1 90.05,384.3 90.50,384.5 90.50,387.7 90.95,387.9 91.40,388.1 91.40,384.4 91.60,384.4 91.85,384.1 91.85,384.4 92.30,383.8 92.30,382.7 92.75,382.0 93.20,381.4 93.20,382.8 93.65,382.1 94.10,381.5 94.10,381.2 94.40,380.8 94.55,380.1 95.00,378.1 95.30,376.8 95.30,376.7 95.45,374.9 95.90,369.6 96.35,364.3 96.40,363.7 96.60,357.7 96.80,370.5 97.25,357.3 97.70,370.1 98.15,356.3 98.50,371.3 98.60,359.4 98.70,361.7 98.70,360.5 99.05,360.1 99.10,360.1 99.50,360.0 99.50,363.4 99.95,363.3 100.40,363.2 100.85,363.1 100.85,361.1 101.30,361.0 101.75,360.9 101.75,360.1 102.20,360.0 102.65,359.9 103.10,359.8 103.10,359.8 103.55,355.0 103.55,355.3 104.00,350.5 104.30,347.3 104.45,351.3 104.60,341.6 104.90,353.7 105.35,341.1 105.80,354.8 106.25,341.7 106.70,353.3 107.15,340.8 107.50,354.9 107.60,334.8 107.80,336.5 108.05,325.5 108.50,336.7 108.95,324.5 109.40,335.6 109.85,324.9 110.30,335.5 110.75,324.3 111.20,336.5 111.65,324.3 112.10,336.6 112.40,325.2 112.55,333.8 112.70,329.3 112.70,328.2 113.00,328.1 113.45,328.0 113.90,327.9 113.90,329.4 114.35,329.3 114.80,329.2 115.25,329.1 115.40,329.1 115.40,329.9 115.70,328.1 116.15,325.4 116.60,322.7 116.80,321.5 117.05,304.3 117.10,338.8 117.50,301.1 117.95,339.5 118.40,300.5 118.85,339.1 119.30,300.1 119.75,339.8 120.20,301.5 120.30,341.2 120.60,305.5 120.60,305.5 120.65,305.4 121.10,304.0 121.10,299.7 121.55,299.4 122.00,304.0 122.20,297.0 122.45,302.0 122.90,294.1 122.90,298.4 123.00,298.0 123.35,297.0 123.50,296.1 123.80,295.8 123.80,295.8 124.25,295.4 124.70,295.0 124.70,295.0 125.15,294.1 125.50,293.5 125.60,293.0 126.05,290.8 126.05,290.5 126.50,288.3 126.70,287.4 126.95,287.3 127.30,287.2 127.30,287.0 127.40,279.8 127.50,272.6 127.85,272.6 128.30,272.6 128.60,272.6 128.60,272.6 128.70,286.0 128.75,286.0 129.00,286.0 129.10,272.6 129.20,272.6 129.40,272.6 129.65,278.8 129.90,285.0 130.10,286.0 130.30,287.0 130.55,275.0 130.60,272.6 131.00,272.6 131.00,272.6 131.45,272.6 131.60,272.6 131.80,285.0 131.90,285.5 132.20,287.0 132.35,276.2 132.40,272.6 132.80,272.6 132.80,272.6 133.10,272.6 133.20,286.0 133.25,286.0 133.50,286.0 133.60,272.6 133.70,272.6 134.15,272.6 134.30,272.6 134.50,286.5 134.60,286.6 135.05,287.1 135.05,286.9 135.50,287.4 135.50,287.4 135.95,287.6 136.40,287.8 136.50,287.9 136.85,288.9 136.85,288.8 137.20,289.8 137.30,289.6 137.75,288.6 137.80,288.5 138.20,288.6 138.65,288.8 138.65,288.8 139.10,289.0 139.55,289.1 140.00,289.3 140.45,289.5 140.45,289.4 140.70,289.5 140.90,289.7 141.30,290.1 141.35,291.7 141.80,306.4 141.90,309.7 141.90,309.9 142.25,310.1 142.70,310.2 142.70,310.3 143.15,310.4 143.60,310.6 144.05,310.7 144.05,312.5 144.20,312.6 144.50,313.2 144.95,314.1 145.40,315.0 145.85,315.9 145.85,315.1 145.90,315.2 146.30,316.9 146.70,318.5 146.75,318.5 147.20,318.5 147.20,316.4 147.65,316.4 148.10,316.4 148.10,318.2 148.55,318.2 149.00,318.2 149.30,318.2 149.45,318.0 149.45,317.8 149.90,317.5 150.35,317.2 150.80,316.8 151.25,316.5 151.25,316.3 151.60,316.0 151.70,317.6 152.15,324.5 152.20,325.2 152.60,325.4 153.05,325.7 153.05,325.9 153.50,326.2 153.95,326.4 153.95,326.8 154.40,327.1 154.85,327.3 155.30,327.6 155.30,328.0 155.75,328.2 156.00,328.4 156.00,326.2 156.20,326.1 156.65,325.9 157.10,325.7 157.55,325.5 157.55,328.0 158.00,327.8 158.45,327.6 158.50,327.5 158.90,327.2 158.90,325.6 159.35,325.2 159.80,324.8 160.25,324.4 160.60,324.1 160.70,324.3 160.70,323.9 161.15,324.8 161.50,325.5 161.60,325.8 162.05,327.2 162.05,327.7 162.50,329.0 162.95,330.4 163.40,331.8 163.60,332.5 163.85,332.7 164.30,333.1 164.30,333.3 164.75,333.7 165.20,334.1 165.65,334.5 165.65,333.7 166.10,334.1 166.55,334.5 167.00,334.9 167.45,335.3 167.45,334.4 167.90,334.8 168.35,335.2 168.35,337.0 168.80,337.4 169.25,337.8 169.60,338.1 169.60,337.9 169.70,337.9 170.15,338.2 170.60,338.5 170.60,338.2 171.05,338.4 171.50,338.7 171.95,339.0 171.95,339.3 172.40,339.5 172.85,339.8 173.30,340.1 173.75,340.3 173.75,339.9 174.20,340.2 174.65,340.4 174.65,341.2 175.10,341.5 175.55,341.7 176.00,342.0 176.00,340.4 176.45,340.6 176.90,340.9 177.20,341.1 177.35,341.1 177.80,341.3 178.25,341.4 178.25,342.1 178.70,342.2 179.15,342.4 179.60,342.5 179.60,343.8 180.05,344.0 180.50,344.1 180.95,344.3 180.95,343.4 181.40,343.5 181.85,343.7 182.30,343.8 182.75,344.0 182.75,344.9 183.20,345.1 183.65,345.2 184.10,345.4 184.55,345.5 184.55,345.9 185.00,346.1 185.45,346.2 185.90,346.4 186.30,346.5 186.35,346.5 186.80,346.6 186.80,346.4 187.25,346.6 187.70,346.7 187.70,346.7 188.15,346.8 188.60,346.9 189.05,347.0 189.50,347.1 189.95,347.2 189.95,344.7 190.40,344.8 190.85,344.9 191.30,345.0 191.75,345.2 191.75,346.7 192.20,346.8 192.65,347.0 193.10,347.1 193.10,347.3 193.55,347.5 194.00,347.6 194.45,347.7 194.45,348.7 194.90,348.9 195.35,349.0 195.80,349.1 195.80,348.5 196.25,348.6 196.70,348.7 197.15,348.9 197.60,349.0 197.60,347.4 198.05,347.5 198.30,347.6 198.50,347.6 198.95,347.6 199.40,347.7 199.85,347.8 199.85,348.6 200.30,348.6 200.75,348.7 201.20,348.7 201.65,348.8 201.65,349.1 202.10,349.1 202.55,349.2 203.00,349.2 203.45,349.3 203.90,349.3 203.90,348.1 204.35,348.1 204.80,348.2 205.25,348.2 205.25,349.0 205.70,349.1 206.15,349.1 206.60,349.2 207.05,349.2 207.05,349.4 207.50,349.5 207.95,349.5 207.95,349.8 208.40,349.8 208.85,349.9 209.30,349.9 209.30,350.4 209.75,350.4 210.20,350.5 210.40,350.5 210.65,350.6 211.10,350.6 211.10,350.3 211.55,350.3 212.00,350.3 212.45,350.4 212.90,350.4 213.35,350.5 213.35,349.7 213.80,349.7 214.25,349.8 214.70,349.8 215.15,349.8 215.60,349.9 215.60,351.0 216.05,351.1 216.50,351.1 216.95,351.2 217.40,351.2 217.40,350.6 217.85,350.6 218.30,350.7 218.75,350.7 218.75,350.4 219.20,350.5 219.65,350.5 220.10,350.6 220.55,350.6 221.00,350.7 221.00,350.5 221.45,350.6 221.90,350.6 221.90,350.1 222.35,350.1 222.80,350.2 223.25,350.2 223.70,350.3 223.70,350.7 224.15,350.7 224.60,350.8 225.05,350.8 225.05,351.1 225.50,351.1 225.50,351.1 225.95,351.2 225.95,351.4 226.40,351.5 226.85,351.5 227.30,351.5 227.75,351.6 227.75,351.8 228.20,351.8 228.65,351.8 229.10,351.9 229.55,351.9 230.00,352.0 230.00,351.2 230.45,351.2 230.90,351.2 231.35,351.3 231.80,351.3 232.25,351.4 232.25,351.6 232.70,351.6 233.15,351.7 233.15,351.1 233.60,351.1 234.05,351.2 234.50,351.2 234.50,352.1 234.95,352.1 235.40,352.1 235.40,353.0 235.85,353.0 236.30,353.1 236.75,353.1 237.20,353.1 237.20,352.7 237.65,352.7 238.10,352.7 238.55,352.8 238.55,352.2 239.00,352.2 239.45,352.2 239.90,352.3 240.35,352.3 240.35,352.5 240.60,352.5 240.80,352.5 241.25,352.5 241.70,352.6 241.70,353.1 242.15,353.1 242.60,353.2 243.05,353.2 243.05,352.5 243.50,352.6 243.95,352.6 244.40,352.6 244.85,352.7 244.85,353.8 245.30,353.9 245.75,353.9 246.20,353.9 246.65,354.0 247.10,354.0 247.10,352.2 247.55,352.3 248.00,352.3 248.45,352.3 248.90,352.4 248.90,352.6 249.35,352.6 249.80,352.6 250.25,352.7 250.25,353.1 250.70,353.1 251.15,353.1 251.60,353.2 252.05,353.2 252.05,353.9 252.50,353.9 252.95,354.0 253.40,354.0 253.85,354.0 254.30,354.1 254.30,353.9 254.75,353.9 255.20,354.0 255.20,354.0 255.65,354.0 255.70,354.0 256.10,354.1 256.55,354.1 256.55,354.2 257.00,354.3 257.45,354.3 257.90,354.4 258.35,354.4 258.35,354.8 258.80,354.9 259.25,354.9 259.70,355.0 260.15,355.1 260.15,354.5 260.60,354.5 261.05,354.6 261.05,354.2 261.50,354.2 261.95,354.3 261.95,353.6 262.40,353.7 262.85,353.7 263.30,353.8 263.75,353.8 263.75,354.7 264.20,354.8 264.65,354.8 265.10,354.9 265.10,355.4 265.55,355.5 266.00,355.5 266.45,355.6 266.45,355.4 266.90,355.4 267.35,355.5 267.80,355.5 267.80,355.2 267.80,355.2 268.25,355.2 268.70,355.3 269.15,355.3 269.60,355.3 270.05,355.4 270.05,356.1 270.50,356.2 270.95,356.2 271.40,356.2 271.85,356.3 272.30,356.3 272.30,356.4 272.75,356.4 273.20,356.5 273.65,356.5 273.65,354.9 274.10,354.9 274.55,354.9 275.00,355.0 275.00,355.5 275.45,355.6 275.90,355.6 275.90,355.7 276.35,355.7 276.80,355.7 276.80,355.2 277.20,355.2 277.25,355.2 277.70,355.2 278.15,355.2 278.60,355.2 279.05,355.3 279.05,355.6 279.50,355.6 279.95,355.6 280.40,355.6 280.40,356.1 280.85,356.1 281.30,356.1 281.75,356.2 282.20,356.2 282.65,356.2 282.65,356.3 283.10,356.3 283.55,356.3 284.00,356.3 284.00,356.6 284.45,356.6 284.90,356.6 285.35,356.6 285.80,356.6 286.25,356.7 286.25,356.1 286.70,356.2 287.15,356.2 287.15,357.0 287.60,357.1 288.05,357.1 288.50,357.1 288.95,357.1 289.40,357.1 289.40,357.1 289.85,357.1 290.30,357.1 290.75,357.1 291.20,357.1 291.65,357.2 291.65,356.4 292.10,356.5 292.55,356.5 293.00,356.5 293.00,356.6 293.45,356.6 293.90,356.6 294.35,356.6 294.50,356.6 294.80,356.6 295.25,356.7 295.25,356.9 295.70,356.9 296.15,356.9 296.60,356.9 297.05,356.9 297.05,356.5 297.50,356.5 297.95,356.5 298.40,356.5 298.40,357.3 298.85,357.3 299.30,357.3 299.75,357.4 300.20,357.4 300.20,357.1 300.65,357.1 301.10,357.1 301.55,357.1 302.00,357.1 302.00,357.0 302.45,357.1 302.90,357.1 303.35,357.1 303.80,357.1 304.25,357.1 304.25,357.0 304.70,357.0 305.15,357.0 305.60,357.1 305.60,357.0 306.05,357.0 306.50,357.0 306.95,357.1 306.95,357.1 307.40,357.1 307.85,357.1 307.85,357.1 308.30,357.2 308.75,357.2 309.20,357.2 309.65,357.2 309.65,356.6 310.10,356.6 310.55,356.6 311.00,356.6 311.45,356.6 311.70,356.6 311.70,356.7 311.90,356.7 312.35,356.7 312.80,356.8 313.25,356.8 313.70,356.8 313.70,356.9 314.15,356.9 314.60,356.9 314.60,357.7 315.05,357.7 315.50,357.7 315.95,357.7 316.40,357.7 316.40,357.9 316.85,357.9 317.30,357.9 317.30,357.3 317.75,357.3 318.20,357.3 318.65,357.4 318.65,357.1 319.10,357.1 319.55,357.1 320.00,357.2 320.45,357.2 320.45,357.3 320.90,357.3 321.35,357.3 321.80,357.3 321.80,357.3 322.25,357.3 322.70,357.3 323.15,357.4 323.15,357.4 323.60,357.5 324.05,357.5 324.50,357.5 324.50,356.9 324.95,356.9 325.40,356.9 325.85,356.9 325.85,357.3 326.30,357.3 326.75,357.3 327.20,357.3 327.65,357.3 328.10,357.4 328.10,357.8 328.55,357.9 329.00,357.9 329.00,357.9 329.45,357.9 329.90,357.9 330.35,357.9 330.35,357.1 330.80,357.1 331.25,357.2 331.70,357.2 332.15,357.2 332.60,357.2 332.60,357.3 333.05,357.4 333.50,357.4 333.95,357.4 334.40,357.4 334.85,357.5 334.85,357.7 335.30,357.7 335.75,357.8 336.20,357.8 336.65,357.8 336.65,358.4 337.10,358.4 337.55,358.4 338.00,358.5 338.45,358.5 338.45,358.0 338.90,358.0 339.35,358.0 339.80,358.0 340.25,358.1 340.25,357.7 340.30,357.7 340.70,363.3 341.15,369.6 341.15,370.2 341.50,375.1 341.60,375.4 342.05,376.4 342.50,377.4 342.95,378.4 342.95,378.1 343.40,379.1 343.85,380.1 344.20,380.9 344.20,381.3 344.30,381.3 344.75,381.4 345.20,381.5 345.65,381.5 346.10,381.6 346.55,381.7 346.55,381.3 347.00,381.4 347.10,381.4 347.45,381.7 347.90,382.1 348.35,382.5 348.80,382.9 348.80,383.1 349.25,383.5 349.70,383.9 349.70,383.7 350.00,383.9 350.15,384.3 350.60,385.4 351.00,386.4 351.00,387.2 351.05,387.2 351.50,387.9 351.95,388.6 351.95,388.0 352.40,388.7 352.85,389.4 353.30,390.0 353.75,390.7 354.20,391.4 354.20,390.5 354.65,391.2 354.90,391.6 355.10,391.7 355.55,391.9 356.00,392.1 356.00,392.2 356.45,392.5 356.90,392.7 357.35,392.9 357.80,393.2 357.80,393.9 358.25,394.1 358.70,394.4 359.15,394.6 359.15,394.4 359.60,394.7 360.05,394.9 360.05,395.2 360.50,395.5 360.70,395.6 360.95,395.6 361.40,395.7 361.40,395.3 361.85,395.4 362.30,395.5 362.75,395.6 362.75,396.0 363.20,396.1 363.65,396.2 364.10,396.3 364.10,396.5 364.55,396.6 365.00,396.7 365.45,396.9 365.90,397.0 366.35,397.1 366.35,396.8 366.80,396.9 367.25,397.1 367.25,397.2 367.70,397.3 368.15,397.4 368.40,397.5 368.60,397.5 369.05,397.5 369.50,397.4 369.50,397.2 369.95,397.2 370.40,397.2 370.85,397.2 371.30,397.1 371.30,396.5 371.75,396.5 372.20,396.5 372.65,396.5 372.65,396.6 373.10,396.6 373.30,396.6 373.55,396.7 374.00,397.0 374.00,397.2 374.45,397.5 374.90,397.7 375.35,398.0 375.80,398.3 375.80,398.5 376.25,398.8 376.70,399.0 377.15,399.3 377.15,399.6 377.60,399.9 378.05,400.2 378.05,400.0 378.10,400.0 378.50,400.1 378.95,400.3 379.40,400.4 379.85,400.5 380.30,400.6 380.30,400.3 380.75,400.4 381.20,400.5 381.65,400.7 382.10,400.8 382.10,400.9 382.55,401.0 383.00,401.1 383.45,401.2 383.90,401.3 384.00,401.4 384.35,401.4 384.35,400.9 384.80,401.0 385.25,401.0 385.70,401.1 386.15,401.1 386.60,401.2 386.60,401.7 387.05,401.7 387.50,401.8 387.50,401.8 387.95,401.8 388.40,401.9 388.85,401.9 389.30,402.0 389.30,401.6 389.75,401.6 390.20,401.7 390.65,401.7 390.70,401.7"/>
<polyline fill="none" stroke="#5e3f91" stroke-width="1.4" stroke-linejoin="round" points="53.60,390.5 53.60,390.5 54.05,390.3 54.50,390.1 54.50,391.2 54.95,391.0 54.95,392.8 55.40,392.5 55.85,392.3 55.85,389.3 56.30,389.1 56.30,389.0 56.75,388.8 57.20,388.6 57.20,388.8 57.65,388.6 58.00,388.4 58.00,385.3 58.10,385.2 58.55,385.0 58.55,385.6 59.00,385.3 59.45,385.1 59.45,388.6 59.90,388.3 60.35,388.1 60.35,387.4 60.80,387.1 61.25,386.9 61.25,388.1 61.70,387.8 62.15,387.6 62.15,385.7 62.60,385.4 62.60,385.4 63.05,385.3 63.05,384.5 63.50,384.4 63.95,384.2 63.95,384.6 64.40,384.5 64.85,384.4 64.85,386.6 65.30,386.5 65.75,386.4 65.75,387.1 66.20,387.0 66.65,386.9 66.65,384.4 67.10,384.3 67.55,384.1 67.55,384.2 68.00,384.1 68.00,384.1 68.45,383.9 68.45,384.6 68.90,384.5 69.35,384.4 69.35,384.4 69.80,384.3 70.25,384.1 70.25,384.8 70.70,384.6 71.15,384.5 71.15,385.8 71.60,385.7 72.05,385.6 72.05,385.2 72.50,385.1 72.95,385.0 72.95,382.9 73.40,382.8 73.85,382.6 73.85,382.1 74.30,382.0 74.75,381.9 74.75,381.6 75.20,381.5 75.20,381.5 75.65,381.5 75.65,384.2 76.10,384.2 76.55,384.2 76.55,385.5 77.00,385.5 77.45,385.5 77.45,385.5 77.90,385.5 78.35,385.5 78.35,385.6 78.80,385.6 78.80,383.8 79.25,383.8 79.70,383.8 79.70,384.1 80.00,384.1 80.15,384.1 80.60,384.0 80.60,379.8 81.05,379.7 81.50,379.7 81.50,382.2 81.95,382.2 82.40,382.1 82.40,379.1 82.85,379.0 82.85,380.5 83.30,380.5 83.75,380.4 83.75,381.4 84.20,381.3 84.65,381.2 84.65,384.0 85.10,383.9 85.55,383.8 85.55,383.5 86.00,383.4 86.00,379.9 86.45,379.8 86.50,379.8 86.50,382.3 86.90,382.4 87.35,382.5 87.35,383.1 87.80,383.2 88.25,383.4 88.25,384.0 88.70,384.1 89.15,384.2 89.15,381.5 89.60,381.6 90.05,381.7 90.05,383.4 90.50,383.6 90.95,383.7 90.95,385.3 91.40,385.4 91.60,385.5 91.85,385.3 91.85,383.1 92.30,382.8 92.75,382.4 92.75,383.4 93.20,383.1 93.20,383.7 93.65,383.3 94.10,383.0 94.10,380.5 94.55,380.1 95.00,379.7 95.00,378.0 95.30,377.7 95.45,377.3 95.90,376.1 96.35,374.9 96.80,373.7 96.80,375.5 97.10,374.7 97.25,374.9 97.70,375.3 98.15,375.8 98.15,375.8 98.60,376.2 99.05,376.7 99.50,377.1 99.50,377.5 99.95,378.0 100.40,378.4 100.40,378.4 100.85,378.9 101.10,379.1 101.30,379.3 101.75,379.6 102.20,380.0 102.65,380.3 102.65,380.9 103.10,381.2 103.55,381.6 104.00,381.9 104.45,382.2 104.45,381.5 104.90,381.9 105.10,382.0 105.35,382.2 105.80,382.5 106.25,382.9 106.25,381.4 106.70,381.7 107.15,382.1 107.60,382.4 108.05,382.7 108.05,384.5 108.50,384.9 108.95,385.2 109.20,385.4 109.20,385.2 109.40,385.1 109.85,384.8 110.30,384.5 110.30,385.4 110.75,385.1 111.20,384.8 111.65,384.5 112.10,384.2 112.20,384.1 112.55,384.0 112.55,382.6 113.00,382.5 113.45,382.4 113.90,382.4 113.90,383.3 114.35,383.2 114.80,383.1 114.80,384.7 115.25,384.6 115.70,384.6 116.15,384.5 116.60,384.4 116.60,382.7 117.05,382.6 117.50,382.5 117.50,380.9 117.95,380.8 118.40,380.8 118.85,380.7 119.30,380.7 119.30,383.5 119.75,383.4 120.20,383.3 120.20,383.3 120.65,382.9 121.10,382.5 121.10,381.1 121.55,380.6 122.00,380.2 122.00,380.9 122.45,380.5 122.90,380.1 123.35,379.6 123.35,379.5 123.80,379.1 124.25,378.6 124.70,378.2 124.70,378.2 125.15,377.8 125.30,377.6 125.60,377.5 126.05,377.2 126.05,376.3 126.50,376.0 126.95,375.8 127.40,375.6 127.85,375.4 127.85,374.1 128.30,373.9 128.75,373.7 128.75,374.6 129.20,374.4 129.65,374.2 130.10,373.9 130.55,373.7 131.00,373.5 131.00,372.9 131.45,372.7 131.90,372.4 132.35,372.2 132.80,372.0 133.25,371.8 133.25,373.8 133.70,373.6 134.15,373.4 134.60,373.1 134.60,372.9 135.05,372.7 135.40,372.5 135.50,372.5 135.95,372.3 135.95,372.4 136.40,372.3 136.85,372.1 137.30,371.9 137.75,371.8 137.75,371.2 138.20,371.0 138.65,370.9 138.65,369.8 139.10,369.6 139.55,369.5 139.55,369.9 140.00,369.7 140.45,369.5 140.90,369.4 141.35,369.2 141.35,368.7 141.80,368.6 142.25,368.4 142.70,368.2 142.70,369.4 143.15,369.3 143.60,369.1 144.05,368.9 144.05,367.5 144.50,367.4 144.95,367.2 144.95,368.6 145.40,368.4 145.85,368.2 146.30,368.1 146.50,368.0 146.75,368.0 146.75,368.8 147.20,368.8 147.65,368.9 148.10,369.0 148.10,369.6 148.55,369.7 149.00,369.8 149.45,369.8 149.90,369.9 149.90,368.2 150.35,368.2 150.50,368.3 150.80,368.5 150.80,368.1 151.25,368.5 151.70,369.0 152.15,369.4 152.15,368.4 152.60,368.8 153.05,369.2 153.50,369.7 153.95,370.1 153.95,370.2 154.40,370.6 154.85,371.0 155.30,371.4 155.75,371.9 155.75,372.4 156.20,372.8 156.50,373.1 156.65,373.2 157.10,373.5 157.55,373.8 158.00,374.1 158.00,374.8 158.45,375.1 158.90,375.4 158.90,375.4 159.35,375.7 159.80,376.0 159.80,377.5 160.25,377.8 160.70,378.1 161.15,378.4 161.60,378.7 161.60,377.8 162.05,378.1 162.50,378.4 162.60,378.5 162.95,378.6 163.40,378.7 163.85,378.9 163.85,379.8 164.30,379.9 164.75,380.1 164.75,379.9 165.20,380.1 165.65,380.2 166.10,380.4 166.55,380.5 166.55,380.0 167.00,380.2 167.45,380.3 167.90,380.5 168.35,380.6 168.80,380.8 168.80,379.9 169.25,380.1 169.70,380.2 170.00,380.3 170.00,380.5 170.15,380.5 170.60,380.7 171.05,380.9 171.50,381.0 171.95,381.2 172.40,381.4 172.40,380.3 172.85,380.5 173.30,380.6 173.75,380.8 173.75,382.9 174.20,383.1 174.65,383.2 175.10,383.4 175.55,383.6 176.00,383.7 176.00,383.5 176.45,383.7 176.90,383.9 176.90,383.9 177.35,384.1 177.80,384.2 178.25,384.4 178.70,384.6 179.15,384.7 179.15,383.8 179.60,384.0 180.05,384.1 180.20,384.2 180.50,384.2 180.95,384.3 181.40,384.4 181.40,384.8 181.85,384.9 182.30,385.0 182.75,385.1 183.20,385.1 183.20,385.2 183.65,385.2 184.10,385.3 184.55,385.4 185.00,385.5 185.00,386.0 185.45,386.1 185.90,386.2 186.35,386.3 186.35,386.4 186.80,386.5 187.25,386.5 187.70,386.6 187.70,386.6 188.15,386.6 188.60,386.7 189.05,386.8 189.50,386.9 189.95,387.0 189.95,387.0 190.40,387.1 190.85,387.2 191.30,387.3 191.75,387.4 191.75,386.9 192.20,387.0 192.65,387.1 192.65,386.4 193.10,386.5 193.55,386.6 194.00,386.7 194.45,386.8 194.90,386.9 194.90,386.9 195.30,387.0 195.35,387.0 195.80,387.0 196.25,387.1 196.70,387.1 196.70,387.8 197.15,387.8 197.60,387.9 198.05,387.9 198.05,389.2 198.50,389.2 198.95,389.3 199.40,389.3 199.85,389.4 199.85,389.1 200.30,389.1 200.75,389.2 201.20,389.2 201.20,388.7 201.65,388.8 202.10,388.8 202.55,388.9 202.55,388.4 203.00,388.4 203.45,388.5 203.45,388.8 203.90,388.8 204.35,388.9 204.35,388.3 204.80,388.4 205.25,388.4 205.25,388.2 205.70,388.2 206.15,388.3 206.60,388.3 207.05,388.4 207.50,388.4 207.50,388.5 207.95,388.6 208.40,388.6 208.85,388.6 209.30,388.7 209.30,389.2 209.75,389.3 210.20,389.3 210.20,389.1 210.40,389.1 210.65,389.2 211.10,389.2 211.55,389.2 212.00,389.2 212.00,389.0 212.45,389.1 212.90,389.1 213.35,389.1 213.80,389.2 213.80,389.5 214.25,389.6 214.70,389.6 215.15,389.6 215.60,389.7 216.05,389.7 216.05,389.6 216.50,389.7 216.95,389.7 217.40,389.7 217.40,390.3 217.85,390.3 218.30,390.4 218.75,390.4 219.20,390.4 219.20,389.4 219.65,389.4 220.10,389.5 220.55,389.5 221.00,389.5 221.45,389.6 221.45,389.0 221.90,389.0 222.35,389.1 222.80,389.1 223.25,389.1 223.25,389.8 223.70,389.8 224.15,389.8 224.60,389.8 225.05,389.9 225.50,389.9 225.50,390.2 225.50,390.2 225.95,390.2 226.40,390.2 226.85,390.2 227.30,390.2 227.75,390.2 227.75,390.5 228.20,390.5 228.65,390.5 229.10,390.5 229.55,390.6 230.00,390.6 230.00,391.0 230.45,391.0 230.90,391.0 230.90,390.0 231.35,390.0 231.80,390.0 232.25,390.1 232.70,390.1 233.15,390.1 233.15,389.7 233.60,389.7 234.05,389.7 234.50,389.7 234.95,389.8 234.95,389.6 235.40,389.6 235.85,389.7 236.30,389.7 236.75,389.7 236.75,389.9 237.20,389.9 237.65,389.9 238.10,389.9 238.55,389.9 238.55,390.0 239.00,390.1 239.45,390.1 239.90,390.1 239.90,391.0 240.35,391.0 240.60,391.0 240.80,391.0 241.25,391.0 241.70,391.0 241.70,391.0 242.15,391.0 242.60,391.0 243.05,391.0 243.50,391.0 243.95,391.0 243.95,390.6 244.40,390.6 244.85,390.6 245.30,390.6 245.75,390.6 246.20,390.6 246.20,389.7 246.65,389.7 247.10,389.7 247.55,389.6 247.55,389.9 248.00,389.9 248.45,389.9 248.90,389.9 249.35,389.9 249.35,390.0 249.80,390.0 250.00,390.0 250.00,390.1 250.25,390.1 250.70,390.1 251.15,390.1 251.60,390.1 252.05,390.1 252.50,390.1 252.50,390.2 252.95,390.1 253.40,390.1 253.85,390.1 254.30,390.1 254.75,390.1 254.75,390.6 255.20,390.6 255.65,390.6 256.10,390.6 256.10,390.8 256.55,390.8 257.00,390.8 257.45,390.8 257.45,390.4 257.90,390.4 258.35,390.4 258.80,390.4 259.25,390.3 259.25,389.9 259.70,389.9 260.15,389.9 260.60,389.9 260.60,390.1 261.05,390.1 261.50,390.1 261.95,390.1 262.40,390.1 262.85,390.1 262.85,390.0 263.30,390.0 263.75,390.0 264.20,390.0 264.20,390.9 264.65,390.9 265.10,390.9 265.55,390.9 265.55,390.9 266.00,390.9 266.45,390.9 266.90,390.9 266.90,390.2 267.35,390.2 267.80,390.2 267.80,390.2 268.25,390.1 268.25,390.1 268.70,390.1 269.15,390.0 269.15,389.0 269.60,389.0 270.05,388.9 270.50,388.9 270.95,388.9 271.40,388.8 271.40,389.9 271.85,389.8 272.30,389.8 272.75,389.8 272.75,389.7 273.20,389.7 273.65,389.7 273.65,389.8 274.10,389.8 274.55,389.8 275.00,389.7 275.45,389.7 275.45,389.6 275.90,389.6 276.35,389.5 276.80,389.5 277.20,389.5 277.20,388.4 277.25,388.4 277.70,388.4 278.15,388.3 278.15,388.7 278.60,388.6 279.05,388.6 279.50,388.6 279.95,388.5 280.40,388.5 280.40,389.5 280.85,389.5 281.30,389.5 281.30,389.6 281.75,389.5 282.20,389.5 282.65,389.5 283.10,389.4 283.10,388.7 283.55,388.7 284.00,388.6 284.45,388.6 284.90,388.6 285.35,388.5 285.35,388.7 285.80,388.7 286.25,388.6 286.70,388.6 287.15,388.6 287.15,388.3 287.60,388.3 288.05,388.3 288.50,388.2 288.50,388.2 288.95,388.1 289.40,388.1 289.40,388.1 289.85,388.1 290.30,388.0 290.75,388.0 291.20,388.0 291.20,388.8 291.65,388.8 292.10,388.8 292.55,388.7 293.00,388.7 293.45,388.7 293.45,387.9 293.90,387.8 294.35,387.8 294.50,387.8 294.80,387.8 295.25,387.8 295.25,387.9 295.70,387.9 296.15,387.9 296.60,387.9 297.05,387.9 297.50,387.8 297.50,387.7 297.95,387.7 298.40,387.7 298.40,388.3 298.85,388.3 299.30,388.2 299.75,388.2 299.75,388.4 300.20,388.4 300.65,388.4 301.10,388.4 301.10,388.5 301.55,388.5 302.00,388.5 302.45,388.5 302.90,388.5 303.35,388.5 303.35,388.1 303.80,388.1 304.25,388.1 304.25,386.8 304.70,386.7 305.15,386.7 305.60,386.7 306.05,386.7 306.50,386.7 306.50,387.4 306.95,387.4 307.40,387.4 307.40,386.6 307.85,386.6 308.30,386.6 308.75,386.6 308.75,386.7 309.20,386.7 309.65,386.7 310.10,386.7 310.10,387.3 310.55,387.3 311.00,387.3 311.45,387.3 311.70,387.3 311.90,387.3 312.35,387.3 312.35,387.9 312.80,387.8 313.25,387.8 313.70,387.8 314.15,387.8 314.15,387.9 314.60,387.9 315.05,387.9 315.50,387.9 315.50,387.7 315.95,387.7 316.40,387.7 316.85,387.7 316.85,387.8 317.30,387.8 317.75,387.8 318.20,387.8 318.20,387.3 318.65,387.3 319.10,387.3 319.55,387.3 320.00,387.3 320.00,387.1 320.45,387.1 320.90,387.1 321.35,387.1 321.35,387.0 321.80,387.0 322.25,387.0 322.70,386.9 323.15,386.9 323.60,386.9 323.60,387.3 324.05,387.3 324.50,387.2 324.95,387.2 324.95,387.0 325.40,387.0 325.85,386.9 326.30,386.9 326.30,386.9 326.75,386.9 327.20,386.9 327.65,386.9 328.10,386.9 328.10,386.8 328.55,386.8 329.00,386.8 329.00,387.2 329.45,387.2 329.90,387.2 330.35,387.2 330.80,387.2 330.80,387.7 331.25,387.7 331.70,387.7 332.15,387.7 332.60,387.7 333.05,387.7 333.05,387.2 333.50,387.2 333.95,387.2 334.40,387.2 334.85,387.2 334.85,387.1 335.30,387.1 335.75,387.1 336.20,387.1 336.65,387.1 336.65,387.0 337.10,387.0 337.40,387.0 337.55,387.2 338.00,387.8 338.45,388.4 338.45,388.5 338.90,389.1 339.35,389.7 339.80,390.3 340.25,390.9 340.25,391.3 340.70,391.9 341.15,392.5 341.30,392.7 341.60,392.8 342.05,392.8 342.05,392.7 342.50,392.8 342.95,392.9 343.40,392.9 343.40,392.1 343.85,392.2 344.30,392.2 344.75,392.3 344.75,392.3 345.20,392.4 345.65,392.4 346.10,392.5 346.10,392.2 346.55,392.3 347.00,392.3 347.45,392.4 347.45,392.4 347.90,392.5 348.35,392.5 348.35,392.4 348.80,392.5 349.00,392.5 349.25,392.7 349.70,393.0 349.70,394.3 350.15,394.6 350.60,394.9 351.05,395.2 351.50,395.5 351.50,395.3 351.95,395.6 352.40,395.9 352.40,395.8 352.85,396.1 353.30,396.4 353.30,395.9 353.75,396.2 354.20,396.5 354.20,396.4 354.65,396.7 354.90,396.9 355.10,396.9 355.55,397.0 355.55,396.7 356.00,396.8 356.45,397.0 356.90,397.1 356.90,397.2 357.35,397.3 357.80,397.4 358.25,397.5 358.25,398.1 358.70,398.2 359.15,398.4 359.15,398.7 359.60,398.8 360.00,399.0 360.05,399.0 360.50,399.0 360.50,398.9 360.95,398.9 361.40,398.9 361.85,399.0 361.85,398.4 362.30,398.4 362.75,398.4 363.20,398.5 363.65,398.5 364.10,398.5 364.10,398.2 364.55,398.3 365.00,398.3 365.45,398.3 365.90,398.3 365.90,398.4 366.35,398.5 366.80,398.5 367.25,398.5 367.25,399.0 367.70,399.0 368.15,399.0 368.60,399.0 369.05,399.1 369.05,398.9 369.50,398.9 369.95,398.9 370.40,398.9 370.40,398.2 370.85,398.2 371.30,398.3 371.75,398.3 372.20,398.3 372.20,398.4 372.65,398.4 373.10,398.4 373.55,398.4 374.00,398.4 374.00,398.5 374.45,398.5 374.90,398.5 375.35,398.5 375.35,399.2 375.80,399.2 376.25,399.2 376.70,399.2 377.15,399.2 377.60,399.3 377.60,399.4 378.05,399.4 378.50,399.4 378.50,398.8 378.95,398.8 379.40,398.8 379.85,398.9 380.30,398.9 380.75,398.9 380.75,399.3 381.20,399.3 381.65,399.3 382.10,399.3 382.55,399.4 383.00,399.4 383.00,399.3 383.45,399.4 383.90,399.4 383.90,399.5 384.35,399.5 384.80,399.5 385.25,399.5 385.70,399.5 386.15,399.6 386.15,399.2 386.60,399.2 387.05,399.3 387.50,399.3 387.95,399.3 388.40,399.3 388.40,399.1 388.85,399.1 389.30,399.1 389.75,399.1 390.00,399.1 390.20,399.3 390.20,399.8 390.65,400.1 391.00,400.3"/>
<polyline fill="none" stroke="#00b050" stroke-width="1.4" stroke-linejoin="round" points="53.60,400.2 53.60,399.5 54.05,399.5 54.50,399.6 54.50,400.3 54.95,400.3 55.40,400.3 55.40,400.6 55.85,400.7 56.30,400.7 56.75,400.7 56.75,399.8 57.20,399.9 57.65,399.9 58.10,399.9 58.55,400.0 59.00,400.0 59.00,400.2 59.45,400.2 59.90,400.2 60.35,400.3 60.80,400.3 61.25,400.4 61.25,401.1 61.70,401.2 62.15,401.2 62.60,401.2 62.60,401.2 63.05,401.3 63.50,401.4 63.50,401.4 63.95,401.4 64.40,401.5 64.85,401.6 65.30,401.7 65.75,401.8 65.75,401.8 66.20,401.9 66.65,402.0 67.10,402.1 67.10,402.2 67.55,402.3 68.00,402.4 68.45,402.5 68.90,402.6 68.90,402.6 69.35,402.6 69.35,402.7 69.80,402.8 70.25,402.8 70.70,402.9 71.15,402.9 71.60,403.0 71.60,401.7 72.05,401.7 72.50,401.7 72.95,401.8 73.40,401.8 73.85,401.9 73.85,402.6 74.30,402.6 74.75,402.6 75.20,402.7 75.65,402.7 76.10,402.8 76.10,403.8 76.55,403.8 77.00,403.9 77.45,403.9 77.90,404.0 77.90,403.4 78.35,403.4 78.80,403.5 79.25,403.5 79.70,403.6 79.70,403.0 80.15,403.1 80.60,403.1 81.05,403.2 81.05,403.8 81.50,403.9 81.50,403.9 81.95,404.0 81.95,403.6 82.40,403.7 82.85,403.8 83.30,403.9 83.30,404.1 83.75,404.2 84.20,404.4 84.65,404.5 84.65,405.4 85.00,405.4 85.10,405.5 85.55,405.5 86.00,405.6 86.00,405.2 86.45,405.3 86.90,405.3 86.90,403.7 87.35,403.7 87.80,403.8 88.25,403.9 88.25,404.4 88.70,404.5 89.15,404.6 89.60,404.7 90.00,404.7 90.05,404.8 90.50,404.9 90.50,404.6 90.95,404.8 91.40,404.9 91.85,405.0 92.30,405.2 92.75,405.3 92.75,406.1 93.20,406.2 93.65,406.3 94.10,406.5 94.55,406.6 95.00,406.7 95.00,407.5 95.10,407.5 95.45,407.7 95.90,408.0 96.35,408.3 96.35,408.6 96.80,408.9 97.25,409.1 97.60,409.3 97.70,409.3 97.70,407.3 98.15,406.9 98.60,406.5 99.05,406.1 99.50,405.7 99.95,405.3 99.95,406.9 100.10,406.7 100.40,406.9 100.85,407.0 101.30,407.2 101.75,407.4 101.75,407.9 102.20,408.1 102.65,408.3 103.10,408.5 103.55,408.7 104.00,408.8 104.00,407.8 104.45,408.0 104.90,408.2 105.20,408.3 105.20,408.3 105.35,408.4 105.80,408.8 106.25,409.2 106.70,409.5 106.70,410.5 107.15,410.9 107.60,411.2 108.05,411.6 108.20,411.7 108.50,411.9 108.50,410.5 108.95,410.7 109.40,411.0 109.85,411.3 109.85,413.1 110.30,413.3 110.75,413.6 111.20,413.9 111.20,411.6 111.65,411.9 112.10,412.2 112.20,412.2 112.55,412.6 112.55,413.1 113.00,413.6 113.45,414.1 113.90,414.6 113.90,414.8 114.35,415.2 114.80,415.7 115.20,416.1 115.20,417.0 115.25,417.1 115.70,417.2 116.15,417.4 116.60,417.5 116.60,417.0 117.05,417.2 117.50,417.4 117.95,417.5 118.40,417.7 118.85,417.9 118.85,418.0 119.30,418.2 119.30,418.2 119.75,418.5 120.20,418.9 120.20,418.1 120.65,418.4 121.10,418.8 121.55,419.1 122.00,419.5 122.00,419.2 122.45,419.5 122.90,419.8 123.30,420.2 123.30,421.5 123.35,421.5 123.80,421.7 124.25,421.9 124.70,422.1 125.15,422.3 125.60,422.5 125.60,423.6 126.05,423.8 126.50,424.0 126.60,424.1 126.95,424.4 127.40,424.9 127.40,424.9 127.85,425.4 128.30,425.8 128.75,426.3 129.20,426.7 129.20,426.7 129.65,427.2 130.10,427.6 130.55,428.1 131.00,428.5 131.00,427.1 131.10,427.2 131.45,427.2 131.90,427.2 132.35,427.2 132.80,427.2 132.80,425.9 133.25,425.9 133.70,425.9 134.15,425.9 134.15,427.2 134.60,427.2 135.05,427.2 135.50,427.2 135.95,427.2 135.95,427.2 136.40,427.2 136.40,427.2 136.85,427.1 136.85,427.0 137.30,426.8 137.75,426.7 138.20,426.5 138.65,426.3 138.65,427.6 139.10,427.4 139.55,427.3 139.55,427.0 140.00,426.9 140.20,426.8 140.45,426.8 140.90,426.7 141.35,426.6 141.80,426.6 141.80,425.3 142.25,425.3 142.70,425.2 143.15,425.1 143.60,425.1 144.05,425.0 144.05,423.5 144.50,423.5 144.95,423.4 145.40,423.4 145.85,423.3 145.85,425.2 146.10,425.1 146.30,420.7 146.40,418.4 146.75,418.4 147.20,418.3 147.20,419.3 147.65,419.2 148.10,419.1 148.55,419.0 149.00,419.0 149.00,418.6 149.45,418.6 149.90,418.5 150.35,418.4 150.80,418.3 150.80,416.9 150.80,416.9 151.25,416.6 151.70,416.3 151.70,416.9 152.15,416.6 152.60,416.3 153.05,416.0 153.50,415.7 153.95,415.4 153.95,415.0 154.40,414.7 154.85,414.4 155.30,414.1 155.30,414.1 155.75,413.8 155.75,414.4 156.20,414.1 156.65,413.8 157.10,413.5 157.55,413.2 158.00,412.9 158.00,412.3 158.45,412.0 158.90,411.7 159.35,411.3 159.80,411.0 159.80,411.0 160.25,411.0 160.25,411.6 160.70,411.5 161.15,411.4 161.60,411.4 162.05,411.3 162.05,410.7 162.50,410.7 162.95,410.6 163.40,410.5 163.85,410.4 164.30,410.4 164.30,409.4 164.75,409.4 165.20,409.3 165.65,409.2 166.10,409.1 166.55,409.1 166.55,410.1 167.00,410.0 167.45,409.9 167.90,409.8 168.35,409.8 168.80,409.7 168.80,409.2 169.25,409.1 169.70,409.1 169.70,410.1 170.00,410.0 170.15,410.0 170.60,409.9 171.05,409.9 171.05,409.8 171.50,409.7 171.95,409.6 172.40,409.6 172.85,409.5 173.30,409.5 173.30,408.2 173.75,408.1 174.20,408.1 174.65,408.0 175.10,407.9 175.10,408.8 175.55,408.7 176.00,408.6 176.45,408.6 176.90,408.5 176.90,407.9 177.35,407.8 177.80,407.7 178.25,407.7 178.25,407.8 178.70,407.7 179.15,407.6 179.60,407.6 179.60,408.2 180.05,408.2 180.50,408.1 180.95,408.1 181.40,408.0 181.40,408.7 181.85,408.7 182.30,408.6 182.75,408.6 182.75,408.9 183.00,408.9 183.20,408.9 183.65,408.8 184.10,408.8 184.55,408.8 184.55,408.2 185.00,408.2 185.45,408.1 185.90,408.1 186.35,408.0 186.80,408.0 186.80,406.4 187.25,406.3 187.70,406.3 188.15,406.3 188.60,406.2 188.60,407.3 189.05,407.3 189.50,407.2 189.50,406.0 189.95,405.9 190.40,405.9 190.85,405.9 190.85,407.2 191.30,407.2 191.75,407.1 191.75,406.7 192.20,406.7 192.65,406.6 193.10,406.6 193.55,406.6 193.55,405.8 194.00,405.7 194.45,405.7 194.90,405.6 195.35,405.6 195.60,405.6 195.60,405.8 195.80,405.8 196.25,405.8 196.70,405.8 197.15,405.8 197.15,406.0 197.60,405.9 198.05,405.9 198.50,405.9 198.95,405.9 198.95,405.6 199.40,405.6 199.85,405.5 200.30,405.5 200.30,405.5 200.75,405.5 201.20,405.5 201.65,405.5 201.65,405.6 202.10,405.6 202.55,405.6 203.00,405.6 203.00,405.6 203.45,405.6 203.90,405.5 204.35,405.5 204.35,406.2 204.80,406.2 205.25,406.2 205.70,406.2 206.15,406.2 206.15,406.2 206.60,406.2 207.05,406.2 207.50,406.2 207.95,406.2 207.95,405.9 208.20,405.9 208.40,405.9 208.85,405.9 209.30,405.9 209.75,405.8 210.20,405.8 210.20,406.0 210.65,406.0 211.10,406.0 211.55,406.0 212.00,405.9 212.45,405.9 212.45,406.4 212.90,406.4 213.35,406.4 213.80,406.4 214.25,406.3 214.25,405.6 214.70,405.6 215.15,405.6 215.60,405.6 215.60,405.6 216.05,405.6 216.50,405.6 216.95,405.5 216.95,405.3 217.40,405.3 217.85,405.2 218.30,405.2 218.75,405.2 218.75,405.8 219.20,405.8 219.65,405.7 220.00,405.7 220.10,405.7 220.10,405.0 220.55,405.1 221.00,405.1 221.45,405.1 221.90,405.2 222.35,405.2 222.35,405.6 222.80,405.6 223.25,405.7 223.70,405.7 224.15,405.8 224.15,405.7 224.60,405.8 225.05,405.8 225.50,405.8 225.95,405.9 225.95,405.2 226.40,405.2 226.85,405.2 227.30,405.3 227.30,406.6 227.75,406.6 228.20,406.7 228.65,406.7 229.10,406.7 229.55,406.8 229.55,406.0 230.00,406.0 230.00,406.0 230.45,406.0 230.90,406.0 230.90,406.5 231.35,406.5 231.80,406.5 232.25,406.5 232.25,406.3 232.70,406.3 233.15,406.3 233.60,406.2 234.05,406.2 234.50,406.2 234.50,406.1 234.95,406.1 235.40,406.0 235.85,406.0 236.30,406.0 236.75,406.0 236.75,405.2 237.20,405.2 237.65,405.2 238.10,405.2 238.10,405.7 238.55,405.6 239.00,405.6 239.45,405.6 239.90,405.6 240.35,405.5 240.35,404.9 240.80,404.9 241.25,404.9 241.70,404.8 242.15,404.8 242.15,405.1 242.60,405.1 243.05,405.1 243.50,405.0 243.50,404.8 243.95,404.7 244.40,404.7 244.85,404.7 244.85,404.7 245.30,404.7 245.75,404.7 246.20,404.7 246.65,404.6 247.10,404.6 247.10,404.7 247.55,404.7 248.00,404.6 248.00,405.4 248.45,405.4 248.90,405.4 248.90,405.7 249.35,405.7 249.80,405.7 250.25,405.7 250.70,405.6 250.70,405.4 251.15,405.4 251.60,405.3 252.05,405.3 252.50,405.3 252.95,405.3 252.95,405.1 253.40,405.1 253.85,405.1 254.30,405.1 254.75,405.0 254.75,404.5 255.20,404.4 255.65,404.4 256.10,404.4 256.55,404.3 257.00,404.3 257.00,404.9 257.45,404.9 257.90,404.9 258.35,404.8 258.35,405.0 258.80,405.0 259.25,404.9 259.25,404.6 259.70,404.6 260.15,404.5 260.60,404.5 261.05,404.5 261.50,404.5 261.50,404.8 261.95,404.8 262.40,404.8 262.85,404.7 263.30,404.7 263.75,404.7 263.75,404.2 264.20,404.2 264.65,404.1 265.10,404.1 265.10,404.7 265.55,404.6 266.00,404.6 266.45,404.6 266.45,403.9 266.90,403.9 267.35,403.9 267.80,403.9 268.25,403.8 268.25,404.0 268.70,404.0 269.15,403.9 269.60,403.9 269.60,404.3 270.00,404.3 270.05,404.3 270.50,404.3 270.95,404.2 270.95,403.3 271.40,403.3 271.85,403.3 272.30,403.3 272.75,403.2 272.75,403.4 273.20,403.4 273.65,403.4 274.10,403.3 274.55,403.3 274.55,404.3 275.00,404.3 275.45,404.3 275.90,404.3 275.90,403.9 276.35,403.8 276.80,403.8 276.80,403.9 277.25,403.8 277.70,403.8 278.15,403.8 278.60,403.8 279.05,403.7 279.05,403.4 279.50,403.3 279.95,403.3 280.40,403.3 280.85,403.2 280.85,403.1 281.30,403.0 281.75,403.0 282.20,403.0 282.65,403.0 283.10,402.9 283.10,403.0 283.55,403.0 284.00,402.9 284.45,402.9 284.45,403.0 284.90,403.0 285.35,402.9 285.80,402.9 286.25,402.9 286.25,402.2 286.70,402.2 287.15,402.2 287.15,402.7 287.60,402.7 288.05,402.7 288.50,402.6 288.95,402.6 288.95,402.5 289.40,402.4 289.85,402.4 290.30,402.4 290.75,402.3 290.75,401.9 291.20,401.9 291.65,401.9 291.65,402.3 292.10,402.3 292.55,402.3 293.00,402.3 293.45,402.2 293.90,402.2 293.90,401.7 294.35,401.7 294.80,401.7 294.80,402.6 295.25,402.6 295.70,402.5 296.15,402.5 296.15,402.2 296.60,402.2 297.05,402.2 297.50,402.2 297.95,402.1 297.95,401.6 298.40,401.5 298.85,401.5 299.30,401.5 299.75,401.4 299.75,401.7 300.00,401.7 300.20,401.7 300.65,401.6 301.10,401.6 301.10,402.3 301.55,402.3 302.00,402.3 302.45,402.2 302.90,402.2 303.35,402.2 303.35,402.2 303.80,402.1 304.25,402.1 304.70,402.1 304.70,402.3 305.15,402.3 305.60,402.2 306.05,402.2 306.50,402.1 306.50,401.9 306.95,401.8 307.40,401.8 307.85,401.8 308.30,401.7 308.75,401.7 308.75,401.0 309.20,401.0 309.65,401.0 309.65,401.3 310.10,401.3 310.55,401.3 311.00,401.2 311.00,401.4 311.45,401.4 311.90,401.4 312.35,401.3 312.80,401.3 313.25,401.3 313.25,401.5 313.70,401.5 314.15,401.4 314.15,401.3 314.60,401.3 315.05,401.2 315.05,400.7 315.50,400.7 315.95,400.6 315.95,400.7 316.40,400.7 316.85,400.7 317.30,400.6 317.30,400.5 317.75,400.4 318.20,400.4 318.20,400.2 318.60,400.1 318.65,400.1 319.10,400.1 319.55,400.1 320.00,400.1 320.45,400.0 320.45,400.2 320.90,400.2 321.35,400.1 321.80,400.1 321.80,401.0 322.25,401.0 322.70,401.0 323.15,401.0 323.60,400.9 324.05,400.9 324.05,400.6 324.50,400.6 324.95,400.5 325.40,400.5 325.40,400.4 325.85,400.4 326.30,400.4 326.30,400.3 326.75,400.3 327.20,400.3 327.65,400.3 328.10,400.2 328.10,400.1 328.55,400.0 329.00,400.0 329.45,400.0 329.90,399.9 330.35,399.9 330.35,399.6 330.80,399.6 331.25,399.6 331.70,399.5 331.70,399.5 332.15,399.5 332.60,399.4 333.05,399.4 333.50,399.4 333.50,399.9 333.95,399.9 334.40,399.8 334.40,399.1 334.85,399.0 335.30,399.0 335.75,399.0 335.90,399.0 336.20,399.0 336.20,399.3 336.65,399.3 337.10,399.3 337.10,399.5 337.55,399.5 338.00,399.5 338.45,399.5 338.45,400.0 338.90,400.0 339.35,400.0 339.80,400.0 339.80,399.8 340.25,399.8 340.70,399.8 340.70,400.1 341.15,400.1 341.60,400.1 341.60,399.3 342.05,399.3 342.50,399.3 342.50,399.0 342.95,399.0 343.40,399.0 343.40,399.4 343.85,399.4 344.30,399.4 344.30,399.6 344.75,399.6 345.20,399.6 345.65,399.6 346.10,399.6 346.10,400.0 346.55,400.0 347.00,400.0 347.45,400.0 347.45,399.4 347.90,399.4 348.35,399.4 348.80,399.4 349.25,399.4 349.25,399.9 349.70,399.9 350.15,399.9 350.60,399.9 351.05,399.9 351.05,399.7 351.50,399.7 351.95,399.7 352.40,399.7 352.85,399.7 353.30,399.7 353.30,399.0 353.75,399.0 354.20,399.0 354.65,399.0 355.10,399.0 355.55,399.0 355.55,398.9 356.00,398.9 356.45,398.9 356.90,398.9 357.35,398.9 357.80,398.9 357.80,399.0 358.25,399.0 358.70,399.0 359.15,399.0 359.15,399.6 359.60,399.6 360.05,399.6 360.50,399.6 360.95,399.6 360.95,399.3 361.40,399.3 361.85,399.3 362.30,399.3 362.30,399.7 362.75,399.7 363.20,399.7 363.65,399.7 364.10,399.7 364.10,399.3 364.55,399.3 365.00,399.3 365.00,399.4 365.45,399.4 365.90,399.4 366.35,399.4 366.80,399.4 367.25,399.4 367.25,399.4 367.70,399.4 368.15,399.4 368.60,399.4 368.60,399.7 369.05,399.7 369.50,399.7 369.95,399.7 369.95,399.6 370.40,399.6 370.85,399.6 371.30,399.6 371.75,399.6 371.75,399.7 372.20,399.7 372.65,399.7 372.65,399.5 373.10,399.5 373.55,399.5 374.00,399.5 374.45,399.5 374.45,399.5 374.90,399.5 375.35,399.5 375.80,399.5 376.25,399.5 376.25,399.8 376.70,399.8 377.15,399.8 377.60,399.8 378.05,399.8 378.05,399.3 378.50,399.3 378.95,399.3 379.40,399.3 379.40,399.4 379.85,399.4 380.30,399.4 380.75,399.4 380.75,399.3 381.20,399.2 381.65,399.2 382.10,399.2 382.55,399.2 382.55,400.0 383.00,400.0 383.45,400.0 383.90,400.0 383.90,399.7 384.35,399.7 384.80,399.7 384.80,399.6 385.25,399.6 385.70,399.6 386.15,399.6 386.60,399.5 386.60,399.6 387.05,399.6 387.50,399.6 387.50,399.8 387.95,399.8 388.40,399.8 388.40,399.6 388.85,399.6 389.30,399.6 389.75,399.6 390.20,399.6 390.20,399.9 390.65,399.9 391.00,399.9"/>
<polyline fill="none" stroke="#17408a" stroke-width="1.4" stroke-linejoin="round" points="53.60,405.3 53.60,406.1 54.05,406.5 54.50,406.8 54.95,407.2 54.95,404.5 55.40,404.8 55.85,405.2 56.30,405.5 56.75,405.9 57.20,406.2 57.20,407.0 57.60,407.3 57.65,407.3 58.10,407.1 58.10,407.9 58.55,407.8 59.00,407.6 59.00,409.4 59.45,409.3 59.90,409.1 59.90,410.4 60.35,410.2 60.35,408.8 60.80,408.6 61.25,408.5 61.25,407.3 61.70,407.1 62.15,406.9 62.15,405.9 62.60,405.8 62.60,405.8 63.05,405.4 63.05,403.3 63.50,403.0 63.95,402.7 63.95,407.3 64.40,407.0 64.85,406.7 64.85,405.1 65.30,404.8 65.75,404.5 65.75,405.0 66.20,404.7 66.20,405.0 66.65,404.7 67.10,404.4 67.10,404.5 67.55,404.2 67.55,404.5 68.00,404.2 68.45,403.9 68.45,401.4 68.90,401.1 68.90,401.1 69.35,400.9 69.35,400.1 69.80,399.9 70.25,399.6 70.70,399.3 70.70,400.5 71.15,400.2 71.60,399.9 71.60,398.7 72.05,398.5 72.50,398.2 72.95,397.9 73.40,397.7 73.40,398.4 73.85,398.2 74.30,397.9 74.30,399.8 74.75,399.5 75.20,399.2 75.20,399.2 75.65,398.9 76.10,398.7 76.55,398.4 76.55,398.2 77.00,397.9 77.45,397.7 77.90,397.4 77.90,397.4 78.35,397.2 78.80,396.9 79.25,396.6 79.70,396.3 79.70,396.7 80.15,396.4 80.60,396.1 81.05,395.9 81.50,395.6 81.50,395.6 81.95,395.6 81.95,393.4 82.40,393.4 82.85,393.5 83.30,393.5 83.30,394.7 83.75,394.7 84.20,394.7 84.65,394.7 84.65,393.9 85.00,393.9 85.10,393.9 85.55,393.8 86.00,393.7 86.45,393.6 86.90,393.5 86.90,394.5 87.35,394.4 87.80,394.3 88.25,394.2 88.25,392.9 88.70,392.8 89.15,392.7 89.60,392.6 89.60,392.0 90.00,392.0 90.05,391.9 90.50,391.8 90.95,391.6 91.40,391.4 91.40,393.5 91.85,393.3 92.30,393.1 92.75,393.0 93.20,392.8 93.65,392.6 93.65,392.0 94.10,391.8 94.55,391.6 95.00,391.4 95.10,391.4 95.45,391.3 95.90,391.1 95.90,390.8 96.35,390.7 96.80,390.5 97.25,390.4 97.70,390.2 98.15,390.1 98.15,390.0 98.60,389.8 99.05,389.7 99.05,391.5 99.50,391.3 99.95,391.2 100.10,391.2 100.40,391.1 100.85,390.9 101.30,390.8 101.30,389.9 101.75,389.7 102.20,389.6 102.20,388.1 102.65,388.0 103.10,387.8 103.10,387.8 103.55,387.8 104.00,387.7 104.00,389.4 104.45,389.4 104.90,389.3 105.35,389.3 105.35,389.8 105.80,389.7 106.25,389.7 106.70,389.6 106.70,390.1 107.15,390.1 107.60,390.0 108.05,390.0 108.05,388.6 108.20,388.6 108.50,388.8 108.95,389.1 109.40,389.4 109.85,389.7 109.85,389.3 110.30,389.6 110.75,389.9 111.20,390.2 111.20,390.2 111.65,390.6 111.65,389.5 112.10,389.9 112.55,390.3 113.00,390.7 113.45,391.1 113.90,391.5 113.90,393.9 114.35,394.3 114.80,394.7 115.20,395.0 115.20,394.2 115.25,394.2 115.70,394.6 116.15,395.0 116.60,395.4 116.60,394.7 117.05,395.1 117.50,395.5 117.95,395.9 117.95,396.8 118.40,397.2 118.85,397.6 118.85,397.3 119.30,397.7 119.30,397.7 119.75,397.9 120.20,398.2 120.65,398.5 120.65,398.2 121.10,398.5 121.55,398.8 121.80,398.9 121.80,399.5 122.00,399.6 122.45,399.8 122.90,399.9 122.90,399.8 122.90,399.8 123.20,405.8 123.35,404.3 123.60,401.8 123.80,402.7 123.80,403.6 124.25,405.6 124.40,406.3 124.70,406.5 125.15,406.9 125.60,407.2 125.60,407.6 126.05,407.9 126.50,408.3 126.95,408.6 127.40,408.9 127.40,407.6 127.85,407.9 128.30,408.2 128.75,408.6 128.75,409.1 129.20,409.4 129.60,409.7 129.65,409.8 130.10,410.1 130.55,410.5 130.55,409.0 131.00,409.4 131.45,409.8 131.90,410.2 132.35,410.6 132.80,410.9 132.80,410.9 133.25,411.3 133.70,411.7 134.15,412.1 134.60,412.5 134.60,413.8 134.90,414.1 135.05,414.2 135.50,414.8 135.50,415.2 135.95,415.7 136.40,416.2 136.85,416.8 137.30,417.3 137.75,417.9 137.75,417.8 138.20,418.4 138.65,418.9 138.65,418.3 138.70,418.4 139.10,419.2 139.55,420.1 140.00,421.0 140.00,420.4 140.20,420.8 140.45,420.8 140.90,420.8 141.35,420.8 141.80,420.8 142.25,420.8 142.25,421.0 142.70,421.0 143.15,421.0 143.60,421.0 143.60,420.8 144.05,420.8 144.50,420.8 144.50,421.1 144.95,421.1 145.40,421.1 145.40,420.7 145.85,420.7 146.30,420.7 146.30,420.7 146.75,420.3 146.75,420.4 147.20,419.9 147.65,419.5 148.10,419.0 148.55,418.6 149.00,418.1 149.00,417.8 149.30,417.5 149.45,417.4 149.90,416.9 150.35,416.4 150.80,416.0 151.25,415.5 151.25,414.5 151.70,414.1 152.15,413.6 152.30,413.5 152.60,412.6 153.05,411.2 153.05,412.3 153.50,411.0 153.95,409.7 153.95,410.2 154.40,408.8 154.60,408.2 154.85,408.0 155.30,407.5 155.30,406.6 155.75,406.2 156.20,405.7 156.65,405.3 156.65,404.6 157.10,404.2 157.55,403.7 158.00,403.3 158.30,403.0 158.30,404.9 158.45,404.9 158.90,404.9 159.35,404.9 159.80,404.9 160.25,404.9 160.25,403.1 160.70,403.1 161.15,403.1 161.60,403.1 161.60,403.7 162.05,403.7 162.50,403.7 162.90,403.7 162.90,404.3 162.95,404.4 163.40,404.5 163.85,404.7 163.85,405.8 164.30,406.0 164.75,406.1 165.20,406.3 165.65,406.4 166.10,406.6 166.10,405.5 166.55,405.7 167.00,405.8 167.00,404.7 167.40,404.8 167.45,404.8 167.90,404.8 168.35,404.7 168.80,404.7 169.25,404.7 169.25,406.5 169.70,406.5 170.15,406.4 170.60,406.4 170.60,406.1 171.05,406.0 171.50,406.0 171.95,406.0 172.40,405.9 172.85,405.9 172.85,405.7 173.30,405.7 173.75,405.7 173.75,406.0 174.20,405.9 174.65,405.9 175.10,405.9 175.40,405.8 175.55,405.8 175.55,406.3 176.00,406.2 176.45,406.1 176.90,406.1 177.35,406.0 177.80,405.9 177.80,406.0 178.25,405.9 178.70,405.9 179.15,405.8 179.15,404.9 179.60,404.8 180.05,404.7 180.50,404.6 180.95,404.6 180.95,403.7 181.40,403.6 181.85,403.6 182.30,403.5 182.75,403.4 183.00,403.4 183.00,403.6 183.20,403.6 183.65,403.6 184.10,403.5 184.55,403.5 184.55,403.1 185.00,403.0 185.45,403.0 185.90,402.9 186.35,402.9 186.80,402.8 186.80,402.3 187.25,402.3 187.70,402.2 188.15,402.2 188.15,403.9 188.60,403.9 189.05,403.8 189.05,403.5 189.50,403.5 189.95,403.4 190.40,403.4 190.40,403.0 190.85,403.0 191.30,402.9 191.75,402.9 191.75,401.9 192.20,401.9 192.65,401.9 193.10,401.8 193.55,401.8 194.00,401.7 194.00,402.3 194.45,402.3 194.90,402.2 194.90,402.4 195.35,402.4 195.60,402.4 195.80,402.3 196.25,402.3 196.70,402.3 197.15,402.2 197.15,403.5 197.60,403.4 198.05,403.4 198.50,403.4 198.95,403.3 199.40,403.3 199.40,402.4 199.85,402.4 200.30,402.4 200.75,402.3 200.75,402.9 201.20,402.9 201.65,402.9 202.10,402.8 202.55,402.8 202.55,402.3 203.00,402.2 203.45,402.2 203.90,402.2 203.90,402.1 204.35,402.1 204.80,402.1 205.25,402.0 205.70,402.0 205.70,401.2 206.15,401.1 206.60,401.1 206.60,401.8 207.05,401.8 207.50,401.8 207.95,401.7 208.20,401.7 208.40,401.7 208.85,401.7 208.85,401.9 209.30,401.9 209.75,401.9 210.20,401.8 210.65,401.8 211.10,401.8 211.10,401.7 211.55,401.6 212.00,401.6 212.45,401.6 212.90,401.6 213.35,401.6 213.35,402.3 213.80,402.3 214.25,402.2 214.70,402.2 214.70,401.4 215.15,401.4 215.60,401.4 216.05,401.4 216.50,401.3 216.50,401.6 216.95,401.6 217.40,401.6 217.40,401.2 217.85,401.2 218.30,401.2 218.75,401.1 219.20,401.1 219.20,401.3 219.65,401.3 220.00,401.3 220.10,401.3 220.55,401.3 221.00,401.2 221.00,401.0 221.45,401.0 221.90,400.9 222.35,400.9 222.35,401.2 222.80,401.1 223.25,401.1 223.25,400.7 223.70,400.6 224.15,400.6 224.15,400.9 224.60,400.8 225.05,400.8 225.50,400.8 225.95,400.8 226.40,400.7 226.40,401.4 226.85,401.4 227.30,401.3 227.75,401.3 228.20,401.3 228.20,400.9 228.65,400.9 229.10,400.9 229.55,400.8 230.00,400.8 230.00,400.9 230.45,400.9 230.90,400.9 230.90,401.0 231.35,401.0 231.80,401.0 232.25,401.0 232.70,400.9 233.15,400.9 233.15,400.5 233.60,400.5 234.05,400.5 234.50,400.5 234.95,400.4 235.40,400.4 235.40,399.9 235.85,399.9 236.30,399.8 236.75,399.8 237.20,399.8 237.65,399.8 237.65,400.5 238.10,400.4 238.55,400.4 239.00,400.4 239.45,400.4 239.90,400.3 239.90,399.8 240.00,399.7 240.35,399.8 240.80,399.8 241.25,399.9 241.25,399.6 241.70,399.7 242.15,399.7 242.60,399.8 242.60,400.5 243.05,400.5 243.50,400.6 243.95,400.6 244.40,400.7 244.40,400.2 244.85,400.2 245.30,400.3 245.75,400.3 246.20,400.3 246.20,400.5 246.65,400.5 247.10,400.6 247.55,400.6 248.00,400.7 248.00,401.0 248.45,401.0 248.90,401.1 249.35,401.1 249.80,401.2 249.80,401.3 250.25,401.4 250.70,401.4 251.15,401.4 251.60,401.5 252.05,401.5 252.05,401.6 252.50,401.7 252.95,401.7 253.40,401.8 253.85,401.8 253.85,401.1 254.30,401.2 254.75,401.2 255.20,401.3 255.20,400.9 255.65,401.0 256.10,401.0 256.55,401.0 256.55,401.6 257.00,401.6 257.45,401.7 257.90,401.7 258.35,401.7 258.35,401.3 258.80,401.4 259.25,401.4 259.70,401.4 259.70,401.9 260.00,401.9 260.15,401.9 260.60,401.9 261.05,401.9 261.50,401.9 261.50,401.8 261.95,401.8 262.40,401.8 262.85,401.8 263.30,401.8 263.75,401.8 263.75,401.7 264.20,401.7 264.65,401.7 265.10,401.7 265.10,402.0 265.55,402.0 266.00,402.0 266.45,402.0 266.45,402.2 266.90,402.2 267.35,402.2 267.80,402.2 268.25,402.2 268.70,402.2 268.70,402.7 269.15,402.7 269.60,402.6 269.60,402.0 270.05,402.0 270.50,402.0 270.95,402.0 271.40,402.0 271.85,402.0 271.85,401.7 272.30,401.7 272.75,401.7 273.20,401.7 273.65,401.7 273.65,401.5 274.10,401.5 274.55,401.5 275.00,401.5 275.45,401.5 275.45,401.8 275.90,401.8 276.35,401.8 276.80,401.8 277.25,401.8 277.25,401.8 277.70,401.8 278.15,401.8 278.60,401.8 279.05,401.8 279.05,402.0 279.50,402.0 279.95,402.0 280.40,402.0 280.85,402.0 281.30,402.0 281.30,402.4 281.75,402.4 282.20,402.4 282.65,402.4 282.65,402.4 283.10,402.4 283.55,402.4 284.00,402.4 284.45,402.4 284.45,401.2 284.90,401.2 285.35,401.2 285.80,401.2 285.80,402.2 286.25,402.2 286.70,402.2 287.15,402.2 287.60,402.2 288.05,402.2 288.05,401.9 288.50,401.9 288.95,401.9 289.40,401.9 289.85,401.9 289.85,400.9 290.30,400.9 290.75,400.9 291.20,400.9 291.65,400.9 291.65,401.5 292.10,401.5 292.55,401.4 292.55,401.6 293.00,401.6 293.45,401.6 293.90,401.6 294.35,401.6 294.35,402.2 294.80,402.2 295.25,402.2 295.70,402.2 295.70,401.4 296.15,401.4 296.60,401.4 296.60,401.3 297.05,401.3 297.50,401.3 297.95,401.3 297.95,401.4 298.40,401.4 298.85,401.4 299.30,401.4 299.75,401.4 299.75,401.8 300.00,401.8 300.20,401.8 300.65,401.8 301.10,401.7 301.10,402.0 301.55,401.9 302.00,401.9 302.45,401.9 302.90,401.9 302.90,400.8 303.35,400.7 303.80,400.7 304.25,400.7 304.70,400.7 305.15,400.6 305.15,400.6 305.60,400.6 306.05,400.6 306.50,400.5 306.95,400.5 307.40,400.5 307.40,400.6 307.85,400.6 308.30,400.6 308.75,400.6 309.20,400.5 309.65,400.5 309.65,400.8 310.10,400.7 310.55,400.7 310.55,400.7 311.00,400.6 311.45,400.6 311.90,400.6 311.90,400.5 312.35,400.5 312.80,400.4 313.25,400.4 313.25,400.7 313.70,400.6 314.15,400.6 314.60,400.6 314.60,400.5 315.05,400.5 315.50,400.4 315.50,400.4 315.95,400.4 316.40,400.3 316.40,400.4 316.85,400.4 317.30,400.4 317.75,400.3 318.20,400.3 318.20,399.9 318.65,399.9 319.10,399.8 319.55,399.8 319.55,400.7 320.00,400.7 320.45,400.6 320.90,400.6 320.90,400.7 321.35,400.7 321.80,400.7 322.25,400.6 322.70,400.6 323.15,400.6 323.15,400.6 323.60,400.6 324.05,400.6 324.50,400.5 324.95,400.5 324.95,399.7 325.40,399.6 325.85,399.6 326.30,399.6 326.75,399.6 326.75,399.7 327.20,399.7 327.65,399.7 328.10,399.7 328.55,399.6 329.00,399.6 329.00,400.3 329.00,400.3 329.45,400.3 329.90,400.3 330.35,400.3 330.35,399.8 330.80,399.8 331.25,399.8 331.70,399.8 331.70,400.4 332.15,400.4 332.60,400.4 333.05,400.4 333.05,400.1 333.50,400.1 333.95,400.1 334.40,400.1 334.85,400.1 334.85,399.8 335.30,399.8 335.75,399.8 336.20,399.8 336.65,399.8 336.65,399.6 337.10,399.6 337.55,399.6 338.00,399.6 338.45,399.6 338.90,399.6 338.90,399.2 339.35,399.2 339.80,399.2 339.80,399.9 340.25,399.9 340.70,399.8 341.15,399.8 341.15,400.1 341.60,400.0 342.05,400.0 342.05,399.9 342.50,399.9 342.95,399.9 343.40,399.9 343.85,399.9 343.85,399.7 344.30,399.7 344.75,399.7 345.20,399.7 345.65,399.7 345.65,400.1 346.10,400.1 346.55,400.1 347.00,400.1 347.00,399.4 347.45,399.4 347.90,399.4 348.35,399.4 348.35,399.5 348.80,399.5 349.25,399.5 349.70,399.4 350.15,399.4 350.15,399.5 350.60,399.5 351.05,399.5 351.50,399.5 351.95,399.5 351.95,399.9 352.40,399.9 352.85,399.9 353.30,399.9 353.75,399.8 354.20,399.8 354.20,399.6 354.65,399.6 355.10,399.6 355.55,399.6 355.55,400.0 356.00,400.0 356.45,400.0 356.90,400.0 356.90,399.5 357.35,399.5 357.80,399.5 358.25,399.5 358.70,399.5 359.15,399.5 359.15,400.1 359.60,400.1 360.05,400.1 360.50,400.1 360.95,400.1 361.40,400.1 361.40,399.9 361.85,399.9 362.30,399.9 362.75,399.9 363.20,399.8 363.40,399.8 363.40,399.7 363.65,399.7 364.10,399.7 364.55,399.7 364.55,399.7 365.00,399.7 365.45,399.7 365.90,399.7 365.90,400.1 366.35,400.1 366.80,400.1 366.80,399.9 367.25,399.9 367.70,399.9 368.15,399.9 368.60,399.9 368.60,399.8 369.05,399.8 369.50,399.8 369.95,399.8 370.40,399.8 370.40,399.9 370.85,399.9 371.30,399.9 371.75,399.9 372.20,399.9 372.20,399.8 372.65,399.8 373.10,399.8 373.55,399.8 374.00,399.8 374.45,399.8 374.45,399.5 374.90,399.5 375.35,399.5 375.80,399.5 375.80,399.4 376.25,399.4 376.70,399.4 377.15,399.4 377.60,399.4 377.60,399.5 378.05,399.5 378.50,399.5 378.95,399.5 379.40,399.5 379.40,399.9 379.85,399.9 380.30,399.9 380.75,399.9 381.20,399.9 381.20,400.0 381.65,400.0 382.10,400.0 382.55,400.0 382.55,400.4 383.00,400.5 383.45,400.5 383.90,400.5 383.90,400.2 384.35,400.2 384.80,400.2 385.25,400.2 385.25,400.4 385.70,400.4 386.15,400.4 386.60,400.4 386.60,400.2 387.05,400.2 387.50,400.2 387.95,400.2 387.95,400.3 388.40,400.3 388.85,400.3 389.30,400.3 389.75,400.3 389.75,399.7 390.20,399.7 390.65,399.8 391.00,399.8"/>
<line x1="53.6" y1="399.5" x2="391" y2="399.5" stroke="#000" stroke-width="1.05"/>
</g>
<g stroke="#000" stroke-width="1.1" fill="none">
<line x1="35.5" y1="247.1" x2="35.5" y2="442.5"/>
<line x1="35.5" y1="442.5" x2="391.8" y2="442.5"/>
<line x1="35.50" y1="442.5" x2="35.50" y2="445.6"/>
<line x1="71.08" y1="442.5" x2="71.08" y2="445.6"/>
<line x1="106.66" y1="442.5" x2="106.66" y2="445.6"/>
<line x1="142.24" y1="442.5" x2="142.24" y2="445.6"/>
<line x1="177.82" y1="442.5" x2="177.82" y2="445.6"/>
<line x1="213.40" y1="442.5" x2="213.40" y2="445.6"/>
<line x1="248.98" y1="442.5" x2="248.98" y2="445.6"/>
<line x1="284.56" y1="442.5" x2="284.56" y2="445.6"/>
<line x1="320.14" y1="442.5" x2="320.14" y2="445.6"/>
<line x1="355.72" y1="442.5" x2="355.72" y2="445.6"/>
<line x1="391.30" y1="442.5" x2="391.30" y2="445.6"/>
<line x1="33.0" y1="247.60" x2="35.5" y2="247.60"/>
<line x1="33.0" y1="269.26" x2="35.5" y2="269.26"/>
<line x1="33.0" y1="290.92" x2="35.5" y2="290.92"/>
<line x1="33.0" y1="312.58" x2="35.5" y2="312.58"/>
<line x1="33.0" y1="334.24" x2="35.5" y2="334.24"/>
<line x1="33.0" y1="355.90" x2="35.5" y2="355.90"/>
<line x1="33.0" y1="377.56" x2="35.5" y2="377.56"/>
<line x1="33.0" y1="399.22" x2="35.5" y2="399.22"/>
<line x1="33.0" y1="420.88" x2="35.5" y2="420.88"/>
<line x1="33.0" y1="442.54" x2="35.5" y2="442.54"/>
</g>
<g font-size="10" fill="#000" text-anchor="middle" class="n">
<text x="35.50" y="458.6">0</text>
<text x="71.08" y="458.6">5</text>
<text x="106.66" y="458.6">10</text>
<text x="142.24" y="458.6">15</text>
<text x="177.82" y="458.6">20</text>
<text x="213.40" y="458.6">25</text>
<text x="248.98" y="458.6">30</text>
<text x="284.56" y="458.6">35</text>
<text x="320.14" y="458.6">40</text>
<text x="355.72" y="458.6">45</text>
<text x="391.30" y="458.6">50</text>
</g>
<g font-size="10" fill="#000" text-anchor="end" class="n">
<text x="28.1" y="251.80">1.4</text>
<text x="28.1" y="273.46">1.2</text>
<text x="28.1" y="295.12">1.0</text>
<text x="28.1" y="316.78">0.8</text>
<text x="28.1" y="338.44">0.6</text>
<text x="28.1" y="360.10">0.4</text>
<text x="28.1" y="381.76">0.2</text>
<text x="28.1" y="403.42">0.0</text>
<text x="28.1" y="425.08">-0.2</text>
<text x="28.1" y="446.74">-0.4</text>
</g>
<text x="166.8" y="471" class="t" font-size="10" font-weight="bold" textLength="93.6" lengthAdjust="spacingAndGlyphs">Retention Time (min)</text>
<text transform="translate(8.0,402.9) rotate(-90)" class="t" font-size="9.6" font-weight="bold" textLength="116" lengthAdjust="spacingAndGlyphs">Retention Time Shift (min)</text>
<g font-size="10.5" text-anchor="middle" font-weight="bold">
<text x="166" y="323.8" fill="#cc0a0a">1</text>
<text x="155.2" y="364.6" fill="#5e3f91">2</text>
<text x="146.5" y="394" fill="#000">3</text>
<text x="140.7" y="412.7" fill="#17408a">4</text>
<text x="134.3" y="439.5" fill="#00b050">5</text>
</g>
</svg>
</body></html>
